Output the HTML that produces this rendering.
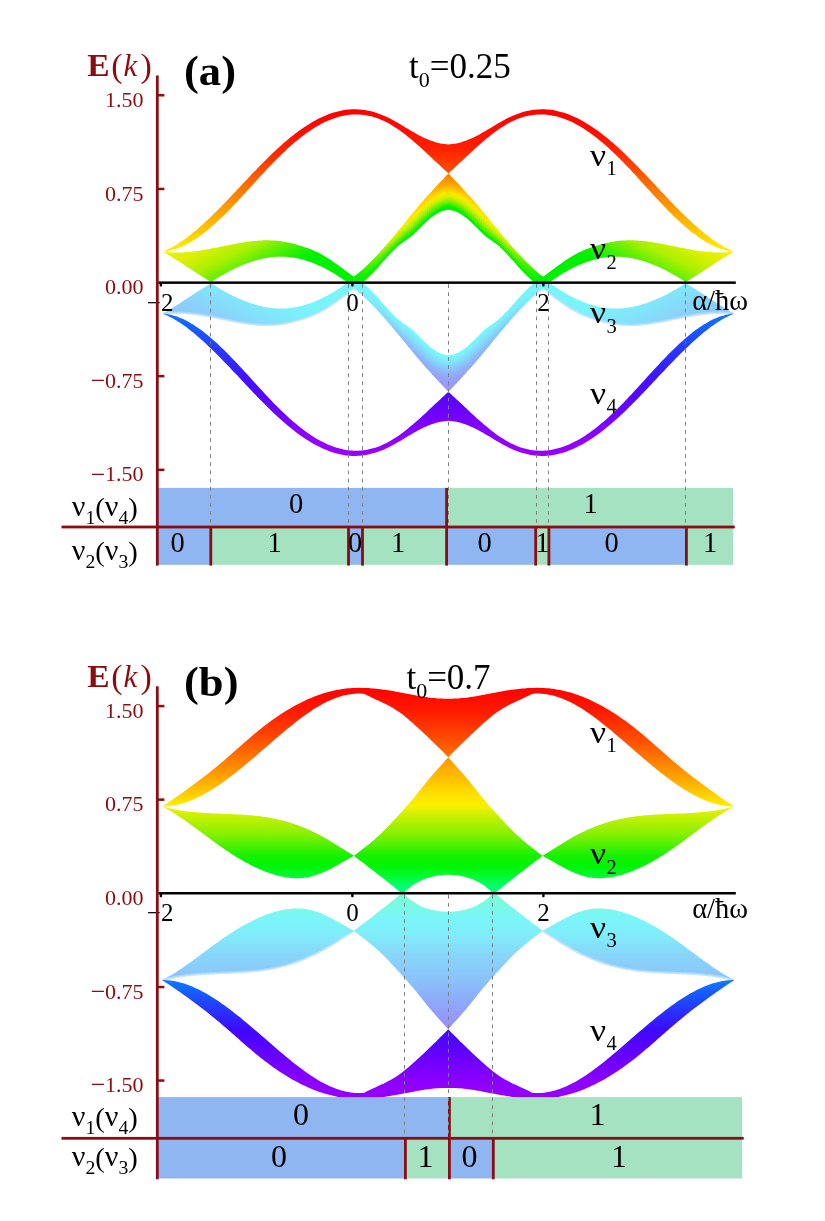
<!DOCTYPE html>
<html lang="en">
<head>
<meta charset="utf-8">
<title>Quasi-energy bands E(k) versus &alpha;/&#295;&omega;</title>
<style>
html,body{margin:0;padding:0;background:#fff;}
body{width:825px;height:1221px;overflow:hidden;font-family:"Liberation Serif", "DejaVu Serif", serif;}
svg{display:block;}
</style>
</head>
<body>
<svg width="825" height="1221" viewBox="0 0 825 1221" font-family='"Liberation Serif", "DejaVu Serif", serif'>
<defs>
<linearGradient id="ag1" gradientUnits="userSpaceOnUse" x1="0" y1="109" x2="0" y2="252"><stop offset="0.000" stop-color="rgb(255,0,0)"/><stop offset="0.147" stop-color="rgb(255,12,0)"/><stop offset="0.287" stop-color="rgb(255,35,0)"/><stop offset="0.392" stop-color="rgb(255,65,0)"/><stop offset="0.497" stop-color="rgb(255,100,0)"/><stop offset="0.636" stop-color="rgb(255,140,0)"/><stop offset="0.832" stop-color="rgb(255,195,0)"/><stop offset="1.000" stop-color="rgb(255,240,0)"/></linearGradient>
<linearGradient id="ag2c" gradientUnits="userSpaceOnUse" x1="0" y1="173" x2="0" y2="283"><stop offset="0.000" stop-color="rgb(255,128,0)"/><stop offset="0.109" stop-color="rgb(255,160,0)"/><stop offset="0.245" stop-color="rgb(255,200,0)"/><stop offset="0.400" stop-color="rgb(255,230,0)"/><stop offset="0.518" stop-color="rgb(228,240,0)"/><stop offset="0.627" stop-color="rgb(190,240,0)"/><stop offset="0.745" stop-color="rgb(110,240,0)"/><stop offset="0.864" stop-color="rgb(0,241,0)"/><stop offset="1.000" stop-color="rgb(0,241,10)"/></linearGradient>
<linearGradient id="ag2l" gradientUnits="userSpaceOnUse" x1="164" y1="250" x2="198" y2="318"><stop offset="0.000" stop-color="rgb(248,240,0)"/><stop offset="0.235" stop-color="rgb(218,240,0)"/><stop offset="0.471" stop-color="rgb(168,240,0)"/><stop offset="0.647" stop-color="rgb(96,239,0)"/><stop offset="0.824" stop-color="rgb(30,240,0)"/><stop offset="0.941" stop-color="rgb(0,241,0)"/><stop offset="1.000" stop-color="rgb(0,241,0)"/></linearGradient>
<linearGradient id="ag2r" gradientUnits="userSpaceOnUse" x1="732.8" y1="250" x2="698.8" y2="318"><stop offset="0.000" stop-color="rgb(248,240,0)"/><stop offset="0.235" stop-color="rgb(218,240,0)"/><stop offset="0.471" stop-color="rgb(168,240,0)"/><stop offset="0.647" stop-color="rgb(96,239,0)"/><stop offset="0.824" stop-color="rgb(30,240,0)"/><stop offset="0.941" stop-color="rgb(0,241,0)"/><stop offset="1.000" stop-color="rgb(0,241,0)"/></linearGradient>
<linearGradient id="ag3" gradientUnits="userSpaceOnUse" x1="0" y1="283" x2="0" y2="391"><stop offset="0.000" stop-color="rgb(110,245,250)"/><stop offset="0.157" stop-color="rgb(125,238,250)"/><stop offset="0.361" stop-color="rgb(135,215,250)"/><stop offset="0.620" stop-color="rgb(135,200,250)"/><stop offset="0.824" stop-color="rgb(140,175,250)"/><stop offset="1.000" stop-color="rgb(150,150,250)"/></linearGradient>
<linearGradient id="ag4" gradientUnits="userSpaceOnUse" x1="0" y1="313" x2="0" y2="456"><stop offset="0.000" stop-color="rgb(15,120,255)"/><stop offset="0.119" stop-color="rgb(25,90,255)"/><stop offset="0.259" stop-color="rgb(40,55,255)"/><stop offset="0.434" stop-color="rgb(62,22,255)"/><stop offset="0.594" stop-color="rgb(88,4,255)"/><stop offset="0.762" stop-color="rgb(124,0,255)"/><stop offset="0.888" stop-color="rgb(145,0,255)"/><stop offset="1.000" stop-color="rgb(152,0,255)"/></linearGradient>
<filter id="blur6" x="-20%" y="-40%" width="140%" height="180%"><feGaussianBlur stdDeviation="6"/></filter>
<filter id="blur3" x="-20%" y="-20%" width="140%" height="140%"><feGaussianBlur stdDeviation="2.2"/></filter>
<filter id="blur4" x="-20%" y="-20%" width="140%" height="140%"><feGaussianBlur stdDeviation="3.5"/></filter>
<linearGradient id="ag3l" gradientUnits="userSpaceOnUse" x1="164" y1="315.20000000000005" x2="198" y2="247.20000000000005"><stop offset="0.000" stop-color="rgb(142,198,250)"/><stop offset="0.294" stop-color="rgb(138,208,250)"/><stop offset="0.588" stop-color="rgb(130,228,250)"/><stop offset="0.824" stop-color="rgb(124,240,250)"/><stop offset="1.000" stop-color="rgb(120,245,250)"/></linearGradient>
<linearGradient id="ag3r" gradientUnits="userSpaceOnUse" x1="732.8" y1="315.20000000000005" x2="698.8" y2="247.20000000000005"><stop offset="0.000" stop-color="rgb(142,198,250)"/><stop offset="0.294" stop-color="rgb(138,208,250)"/><stop offset="0.588" stop-color="rgb(130,228,250)"/><stop offset="0.824" stop-color="rgb(124,240,250)"/><stop offset="1.000" stop-color="rgb(120,245,250)"/></linearGradient>
<linearGradient id="ag3c" gradientUnits="userSpaceOnUse" x1="0" y1="282" x2="0" y2="392"><stop offset="0.000" stop-color="rgb(118,246,250)"/><stop offset="0.164" stop-color="rgb(122,240,250)"/><stop offset="0.364" stop-color="rgb(130,222,250)"/><stop offset="0.573" stop-color="rgb(135,205,250)"/><stop offset="0.755" stop-color="rgb(140,185,250)"/><stop offset="0.891" stop-color="rgb(146,165,250)"/><stop offset="1.000" stop-color="rgb(152,148,250)"/></linearGradient>
<linearGradient id="as2_0" gradientUnits="userSpaceOnUse" x1="0" y1="174.6" x2="0" y2="209.9"><stop offset="0.000" stop-color="rgb(255,131,0)"/><stop offset="0.150" stop-color="rgb(255,141,0)"/><stop offset="0.300" stop-color="rgb(255,170,0)"/><stop offset="0.450" stop-color="rgb(255,214,0)"/><stop offset="0.600" stop-color="rgb(226,239,0)"/><stop offset="0.750" stop-color="rgb(134,240,0)"/><stop offset="0.900" stop-color="rgb(0,241,0)"/><stop offset="1.000" stop-color="rgb(0,241,0)"/></linearGradient>
<linearGradient id="as2_1" gradientUnits="userSpaceOnUse" x1="0" y1="176.7" x2="0" y2="210.2"><stop offset="0.000" stop-color="rgb(255,138,0)"/><stop offset="0.150" stop-color="rgb(255,150,0)"/><stop offset="0.300" stop-color="rgb(255,180,0)"/><stop offset="0.450" stop-color="rgb(255,223,0)"/><stop offset="0.600" stop-color="rgb(219,240,0)"/><stop offset="0.750" stop-color="rgb(126,240,0)"/><stop offset="0.900" stop-color="rgb(0,241,0)"/><stop offset="1.000" stop-color="rgb(0,241,0)"/></linearGradient>
<linearGradient id="as2_2" gradientUnits="userSpaceOnUse" x1="0" y1="178.8" x2="0" y2="210.6"><stop offset="0.000" stop-color="rgb(255,145,0)"/><stop offset="0.150" stop-color="rgb(255,158,0)"/><stop offset="0.300" stop-color="rgb(255,190,0)"/><stop offset="0.450" stop-color="rgb(255,231,0)"/><stop offset="0.600" stop-color="rgb(211,240,0)"/><stop offset="0.750" stop-color="rgb(119,240,0)"/><stop offset="0.900" stop-color="rgb(0,241,0)"/><stop offset="1.000" stop-color="rgb(0,241,0)"/></linearGradient>
<linearGradient id="as2_3" gradientUnits="userSpaceOnUse" x1="0" y1="180.9" x2="0" y2="211.3"><stop offset="0.000" stop-color="rgb(255,151,0)"/><stop offset="0.150" stop-color="rgb(255,166,0)"/><stop offset="0.300" stop-color="rgb(255,199,0)"/><stop offset="0.450" stop-color="rgb(254,238,0)"/><stop offset="0.600" stop-color="rgb(202,240,0)"/><stop offset="0.750" stop-color="rgb(113,240,0)"/><stop offset="0.900" stop-color="rgb(0,241,0)"/><stop offset="1.000" stop-color="rgb(0,241,0)"/></linearGradient>
<linearGradient id="as2_4" gradientUnits="userSpaceOnUse" x1="0" y1="183.0" x2="0" y2="212.1"><stop offset="0.000" stop-color="rgb(255,158,0)"/><stop offset="0.150" stop-color="rgb(255,174,0)"/><stop offset="0.300" stop-color="rgb(255,207,0)"/><stop offset="0.450" stop-color="rgb(246,238,0)"/><stop offset="0.600" stop-color="rgb(195,240,0)"/><stop offset="0.750" stop-color="rgb(107,240,0)"/><stop offset="0.900" stop-color="rgb(0,241,0)"/><stop offset="1.000" stop-color="rgb(0,241,0)"/></linearGradient>
<linearGradient id="as2_5" gradientUnits="userSpaceOnUse" x1="0" y1="185.1" x2="0" y2="213.2"><stop offset="0.000" stop-color="rgb(255,165,0)"/><stop offset="0.150" stop-color="rgb(255,183,0)"/><stop offset="0.300" stop-color="rgb(255,214,0)"/><stop offset="0.450" stop-color="rgb(239,239,0)"/><stop offset="0.600" stop-color="rgb(187,240,0)"/><stop offset="0.750" stop-color="rgb(101,240,0)"/><stop offset="0.900" stop-color="rgb(0,241,0)"/><stop offset="1.000" stop-color="rgb(0,241,0)"/></linearGradient>
<linearGradient id="as2_6" gradientUnits="userSpaceOnUse" x1="0" y1="187.3" x2="0" y2="214.3"><stop offset="0.000" stop-color="rgb(255,172,0)"/><stop offset="0.150" stop-color="rgb(255,191,0)"/><stop offset="0.300" stop-color="rgb(255,222,0)"/><stop offset="0.450" stop-color="rgb(233,239,0)"/><stop offset="0.600" stop-color="rgb(180,240,0)"/><stop offset="0.750" stop-color="rgb(96,240,0)"/><stop offset="0.900" stop-color="rgb(0,241,0)"/><stop offset="1.000" stop-color="rgb(0,241,0)"/></linearGradient>
<linearGradient id="as2_7" gradientUnits="userSpaceOnUse" x1="0" y1="189.4" x2="0" y2="215.7"><stop offset="0.000" stop-color="rgb(255,178,0)"/><stop offset="0.150" stop-color="rgb(255,198,0)"/><stop offset="0.300" stop-color="rgb(255,229,0)"/><stop offset="0.450" stop-color="rgb(227,239,0)"/><stop offset="0.600" stop-color="rgb(172,240,0)"/><stop offset="0.750" stop-color="rgb(91,240,0)"/><stop offset="0.900" stop-color="rgb(0,241,0)"/><stop offset="1.000" stop-color="rgb(0,241,0)"/></linearGradient>
<linearGradient id="as2_8" gradientUnits="userSpaceOnUse" x1="0" y1="191.6" x2="0" y2="217.2"><stop offset="0.000" stop-color="rgb(255,185,0)"/><stop offset="0.150" stop-color="rgb(255,205,0)"/><stop offset="0.300" stop-color="rgb(255,236,0)"/><stop offset="0.450" stop-color="rgb(221,240,0)"/><stop offset="0.600" stop-color="rgb(164,240,0)"/><stop offset="0.750" stop-color="rgb(87,240,0)"/><stop offset="0.900" stop-color="rgb(0,241,0)"/><stop offset="1.000" stop-color="rgb(0,241,0)"/></linearGradient>
<linearGradient id="as2_9" gradientUnits="userSpaceOnUse" x1="0" y1="193.8" x2="0" y2="218.8"><stop offset="0.000" stop-color="rgb(255,192,0)"/><stop offset="0.150" stop-color="rgb(255,211,0)"/><stop offset="0.300" stop-color="rgb(251,238,0)"/><stop offset="0.450" stop-color="rgb(215,240,0)"/><stop offset="0.600" stop-color="rgb(157,240,0)"/><stop offset="0.750" stop-color="rgb(83,240,0)"/><stop offset="0.900" stop-color="rgb(0,241,0)"/><stop offset="1.000" stop-color="rgb(0,241,0)"/></linearGradient>
<linearGradient id="as2_10" gradientUnits="userSpaceOnUse" x1="0" y1="196.0" x2="0" y2="220.6"><stop offset="0.000" stop-color="rgb(255,196,0)"/><stop offset="0.150" stop-color="rgb(255,217,0)"/><stop offset="0.300" stop-color="rgb(246,238,0)"/><stop offset="0.450" stop-color="rgb(209,240,0)"/><stop offset="0.600" stop-color="rgb(151,240,0)"/><stop offset="0.750" stop-color="rgb(79,240,0)"/><stop offset="0.900" stop-color="rgb(0,241,0)"/><stop offset="1.000" stop-color="rgb(0,241,0)"/></linearGradient>
<linearGradient id="as2_11" gradientUnits="userSpaceOnUse" x1="0" y1="198.3" x2="0" y2="222.5"><stop offset="0.000" stop-color="rgb(255,199,0)"/><stop offset="0.150" stop-color="rgb(255,221,0)"/><stop offset="0.300" stop-color="rgb(242,239,0)"/><stop offset="0.450" stop-color="rgb(204,240,0)"/><stop offset="0.600" stop-color="rgb(147,240,0)"/><stop offset="0.750" stop-color="rgb(77,240,0)"/><stop offset="0.900" stop-color="rgb(0,241,0)"/><stop offset="1.000" stop-color="rgb(0,241,0)"/></linearGradient>
<linearGradient id="as2_12" gradientUnits="userSpaceOnUse" x1="0" y1="200.6" x2="0" y2="224.4"><stop offset="0.000" stop-color="rgb(255,202,0)"/><stop offset="0.150" stop-color="rgb(255,224,0)"/><stop offset="0.300" stop-color="rgb(238,239,0)"/><stop offset="0.450" stop-color="rgb(200,240,0)"/><stop offset="0.600" stop-color="rgb(142,240,0)"/><stop offset="0.750" stop-color="rgb(74,240,0)"/><stop offset="0.900" stop-color="rgb(0,241,0)"/><stop offset="1.000" stop-color="rgb(0,241,0)"/></linearGradient>
<linearGradient id="as2_13" gradientUnits="userSpaceOnUse" x1="0" y1="202.9" x2="0" y2="226.4"><stop offset="0.000" stop-color="rgb(255,205,0)"/><stop offset="0.150" stop-color="rgb(255,228,0)"/><stop offset="0.300" stop-color="rgb(235,239,0)"/><stop offset="0.450" stop-color="rgb(196,240,0)"/><stop offset="0.600" stop-color="rgb(138,240,0)"/><stop offset="0.750" stop-color="rgb(72,240,0)"/><stop offset="0.900" stop-color="rgb(0,241,0)"/><stop offset="1.000" stop-color="rgb(0,241,0)"/></linearGradient>
<linearGradient id="as2_14" gradientUnits="userSpaceOnUse" x1="0" y1="205.2" x2="0" y2="228.4"><stop offset="0.000" stop-color="rgb(255,208,0)"/><stop offset="0.150" stop-color="rgb(255,232,0)"/><stop offset="0.300" stop-color="rgb(231,239,0)"/><stop offset="0.450" stop-color="rgb(192,240,0)"/><stop offset="0.600" stop-color="rgb(134,240,0)"/><stop offset="0.750" stop-color="rgb(70,240,0)"/><stop offset="0.900" stop-color="rgb(0,241,0)"/><stop offset="1.000" stop-color="rgb(0,241,0)"/></linearGradient>
<linearGradient id="as2_15" gradientUnits="userSpaceOnUse" x1="0" y1="207.6" x2="0" y2="230.4"><stop offset="0.000" stop-color="rgb(255,211,0)"/><stop offset="0.150" stop-color="rgb(255,235,0)"/><stop offset="0.300" stop-color="rgb(228,239,0)"/><stop offset="0.450" stop-color="rgb(188,240,0)"/><stop offset="0.600" stop-color="rgb(131,240,0)"/><stop offset="0.750" stop-color="rgb(68,240,0)"/><stop offset="0.900" stop-color="rgb(0,241,0)"/><stop offset="1.000" stop-color="rgb(0,241,0)"/></linearGradient>
<linearGradient id="as2_16" gradientUnits="userSpaceOnUse" x1="0" y1="209.9" x2="0" y2="232.3"><stop offset="0.000" stop-color="rgb(255,214,0)"/><stop offset="0.150" stop-color="rgb(255,238,0)"/><stop offset="0.300" stop-color="rgb(225,240,0)"/><stop offset="0.450" stop-color="rgb(185,240,0)"/><stop offset="0.600" stop-color="rgb(127,240,0)"/><stop offset="0.750" stop-color="rgb(66,240,0)"/><stop offset="0.900" stop-color="rgb(0,241,0)"/><stop offset="1.000" stop-color="rgb(0,241,0)"/></linearGradient>
<linearGradient id="as2_17" gradientUnits="userSpaceOnUse" x1="0" y1="212.3" x2="0" y2="234.2"><stop offset="0.000" stop-color="rgb(255,216,0)"/><stop offset="0.150" stop-color="rgb(251,238,0)"/><stop offset="0.300" stop-color="rgb(222,240,0)"/><stop offset="0.450" stop-color="rgb(181,240,0)"/><stop offset="0.600" stop-color="rgb(124,240,0)"/><stop offset="0.750" stop-color="rgb(64,240,0)"/><stop offset="0.900" stop-color="rgb(0,241,0)"/><stop offset="1.000" stop-color="rgb(0,241,0)"/></linearGradient>
<linearGradient id="as2_18" gradientUnits="userSpaceOnUse" x1="0" y1="214.8" x2="0" y2="235.9"><stop offset="0.000" stop-color="rgb(255,219,0)"/><stop offset="0.150" stop-color="rgb(248,238,0)"/><stop offset="0.300" stop-color="rgb(219,240,0)"/><stop offset="0.450" stop-color="rgb(178,240,0)"/><stop offset="0.600" stop-color="rgb(121,240,0)"/><stop offset="0.750" stop-color="rgb(63,240,0)"/><stop offset="0.900" stop-color="rgb(0,241,0)"/><stop offset="1.000" stop-color="rgb(0,241,0)"/></linearGradient>
<linearGradient id="as2_19" gradientUnits="userSpaceOnUse" x1="0" y1="217.2" x2="0" y2="237.6"><stop offset="0.000" stop-color="rgb(255,222,0)"/><stop offset="0.150" stop-color="rgb(245,238,0)"/><stop offset="0.300" stop-color="rgb(216,240,0)"/><stop offset="0.450" stop-color="rgb(174,240,0)"/><stop offset="0.600" stop-color="rgb(118,240,0)"/><stop offset="0.750" stop-color="rgb(61,240,0)"/><stop offset="0.900" stop-color="rgb(0,241,0)"/><stop offset="1.000" stop-color="rgb(0,241,0)"/></linearGradient>
<linearGradient id="as2_20" gradientUnits="userSpaceOnUse" x1="0" y1="219.6" x2="0" y2="239.0"><stop offset="0.000" stop-color="rgb(255,227,0)"/><stop offset="0.150" stop-color="rgb(241,239,0)"/><stop offset="0.300" stop-color="rgb(211,240,0)"/><stop offset="0.450" stop-color="rgb(168,240,0)"/><stop offset="0.600" stop-color="rgb(115,240,0)"/><stop offset="0.750" stop-color="rgb(59,240,0)"/><stop offset="0.900" stop-color="rgb(0,241,0)"/><stop offset="1.000" stop-color="rgb(0,241,0)"/></linearGradient>
<linearGradient id="as2_21" gradientUnits="userSpaceOnUse" x1="0" y1="222.1" x2="0" y2="240.4"><stop offset="0.000" stop-color="rgb(255,233,0)"/><stop offset="0.150" stop-color="rgb(235,239,0)"/><stop offset="0.300" stop-color="rgb(205,240,0)"/><stop offset="0.450" stop-color="rgb(162,240,0)"/><stop offset="0.600" stop-color="rgb(110,240,0)"/><stop offset="0.750" stop-color="rgb(57,240,0)"/><stop offset="0.900" stop-color="rgb(0,241,0)"/><stop offset="1.000" stop-color="rgb(0,241,0)"/></linearGradient>
<linearGradient id="as2_22" gradientUnits="userSpaceOnUse" x1="0" y1="224.5" x2="0" y2="241.7"><stop offset="0.000" stop-color="rgb(254,238,0)"/><stop offset="0.150" stop-color="rgb(230,239,0)"/><stop offset="0.300" stop-color="rgb(199,240,0)"/><stop offset="0.450" stop-color="rgb(156,240,0)"/><stop offset="0.600" stop-color="rgb(106,240,0)"/><stop offset="0.750" stop-color="rgb(54,240,0)"/><stop offset="0.900" stop-color="rgb(0,241,0)"/><stop offset="1.000" stop-color="rgb(0,241,0)"/></linearGradient>
<linearGradient id="as2_23" gradientUnits="userSpaceOnUse" x1="0" y1="227.0" x2="0" y2="243.2"><stop offset="0.000" stop-color="rgb(248,238,0)"/><stop offset="0.150" stop-color="rgb(224,240,0)"/><stop offset="0.300" stop-color="rgb(192,240,0)"/><stop offset="0.450" stop-color="rgb(149,240,0)"/><stop offset="0.600" stop-color="rgb(101,240,0)"/><stop offset="0.750" stop-color="rgb(52,240,0)"/><stop offset="0.900" stop-color="rgb(0,241,0)"/><stop offset="1.000" stop-color="rgb(0,241,0)"/></linearGradient>
<linearGradient id="as2_24" gradientUnits="userSpaceOnUse" x1="0" y1="229.4" x2="0" y2="244.8"><stop offset="0.000" stop-color="rgb(242,239,0)"/><stop offset="0.150" stop-color="rgb(219,240,0)"/><stop offset="0.300" stop-color="rgb(186,240,0)"/><stop offset="0.450" stop-color="rgb(143,240,0)"/><stop offset="0.600" stop-color="rgb(97,240,0)"/><stop offset="0.750" stop-color="rgb(50,240,0)"/><stop offset="0.900" stop-color="rgb(0,241,0)"/><stop offset="1.000" stop-color="rgb(0,241,0)"/></linearGradient>
<linearGradient id="as2_25" gradientUnits="userSpaceOnUse" x1="0" y1="231.8" x2="0" y2="246.5"><stop offset="0.000" stop-color="rgb(236,239,0)"/><stop offset="0.150" stop-color="rgb(213,240,0)"/><stop offset="0.300" stop-color="rgb(180,240,0)"/><stop offset="0.450" stop-color="rgb(137,240,0)"/><stop offset="0.600" stop-color="rgb(93,240,0)"/><stop offset="0.750" stop-color="rgb(48,240,0)"/><stop offset="0.900" stop-color="rgb(0,241,0)"/><stop offset="1.000" stop-color="rgb(0,241,0)"/></linearGradient>
<linearGradient id="as2_26" gradientUnits="userSpaceOnUse" x1="0" y1="234.3" x2="0" y2="248.3"><stop offset="0.000" stop-color="rgb(230,239,0)"/><stop offset="0.150" stop-color="rgb(206,240,0)"/><stop offset="0.300" stop-color="rgb(173,240,0)"/><stop offset="0.450" stop-color="rgb(132,240,0)"/><stop offset="0.600" stop-color="rgb(89,240,0)"/><stop offset="0.750" stop-color="rgb(45,240,0)"/><stop offset="0.900" stop-color="rgb(0,241,0)"/><stop offset="1.000" stop-color="rgb(0,241,0)"/></linearGradient>
<linearGradient id="as2_27" gradientUnits="userSpaceOnUse" x1="0" y1="236.7" x2="0" y2="250.3"><stop offset="0.000" stop-color="rgb(224,240,0)"/><stop offset="0.150" stop-color="rgb(199,240,0)"/><stop offset="0.300" stop-color="rgb(166,240,0)"/><stop offset="0.450" stop-color="rgb(126,240,0)"/><stop offset="0.600" stop-color="rgb(85,240,0)"/><stop offset="0.750" stop-color="rgb(43,240,0)"/><stop offset="0.900" stop-color="rgb(0,241,0)"/><stop offset="1.000" stop-color="rgb(0,241,0)"/></linearGradient>
<linearGradient id="as2_28" gradientUnits="userSpaceOnUse" x1="0" y1="239.0" x2="0" y2="252.3"><stop offset="0.000" stop-color="rgb(218,240,0)"/><stop offset="0.150" stop-color="rgb(192,240,0)"/><stop offset="0.300" stop-color="rgb(158,240,0)"/><stop offset="0.450" stop-color="rgb(120,240,0)"/><stop offset="0.600" stop-color="rgb(81,240,0)"/><stop offset="0.750" stop-color="rgb(41,240,0)"/><stop offset="0.900" stop-color="rgb(0,241,0)"/><stop offset="1.000" stop-color="rgb(0,241,0)"/></linearGradient>
<linearGradient id="as2_29" gradientUnits="userSpaceOnUse" x1="0" y1="241.4" x2="0" y2="254.5"><stop offset="0.000" stop-color="rgb(210,240,0)"/><stop offset="0.150" stop-color="rgb(184,240,0)"/><stop offset="0.300" stop-color="rgb(150,240,0)"/><stop offset="0.450" stop-color="rgb(114,240,0)"/><stop offset="0.600" stop-color="rgb(77,240,0)"/><stop offset="0.750" stop-color="rgb(39,240,0)"/><stop offset="0.900" stop-color="rgb(0,241,0)"/><stop offset="1.000" stop-color="rgb(0,241,0)"/></linearGradient>
<linearGradient id="as2_30" gradientUnits="userSpaceOnUse" x1="0" y1="243.7" x2="0" y2="256.6"><stop offset="0.000" stop-color="rgb(200,240,0)"/><stop offset="0.150" stop-color="rgb(174,240,0)"/><stop offset="0.300" stop-color="rgb(141,240,0)"/><stop offset="0.450" stop-color="rgb(107,240,0)"/><stop offset="0.600" stop-color="rgb(72,240,0)"/><stop offset="0.750" stop-color="rgb(37,240,0)"/><stop offset="0.900" stop-color="rgb(0,241,0)"/><stop offset="1.000" stop-color="rgb(0,241,0)"/></linearGradient>
<linearGradient id="as2_31" gradientUnits="userSpaceOnUse" x1="0" y1="246.0" x2="0" y2="258.9"><stop offset="0.000" stop-color="rgb(189,240,0)"/><stop offset="0.150" stop-color="rgb(163,240,0)"/><stop offset="0.300" stop-color="rgb(131,240,0)"/><stop offset="0.450" stop-color="rgb(100,240,0)"/><stop offset="0.600" stop-color="rgb(68,240,0)"/><stop offset="0.750" stop-color="rgb(34,240,0)"/><stop offset="0.900" stop-color="rgb(0,241,0)"/><stop offset="1.000" stop-color="rgb(0,241,0)"/></linearGradient>
<linearGradient id="as2_32" gradientUnits="userSpaceOnUse" x1="0" y1="248.3" x2="0" y2="261.1"><stop offset="0.000" stop-color="rgb(179,240,0)"/><stop offset="0.150" stop-color="rgb(151,240,0)"/><stop offset="0.300" stop-color="rgb(122,240,0)"/><stop offset="0.450" stop-color="rgb(93,240,0)"/><stop offset="0.600" stop-color="rgb(63,240,0)"/><stop offset="0.750" stop-color="rgb(32,240,0)"/><stop offset="0.900" stop-color="rgb(0,241,0)"/><stop offset="1.000" stop-color="rgb(0,241,0)"/></linearGradient>
<linearGradient id="as2_33" gradientUnits="userSpaceOnUse" x1="0" y1="250.6" x2="0" y2="263.4"><stop offset="0.000" stop-color="rgb(166,240,0)"/><stop offset="0.150" stop-color="rgb(140,240,0)"/><stop offset="0.300" stop-color="rgb(113,240,0)"/><stop offset="0.450" stop-color="rgb(86,240,0)"/><stop offset="0.600" stop-color="rgb(58,240,0)"/><stop offset="0.750" stop-color="rgb(29,241,0)"/><stop offset="0.900" stop-color="rgb(0,241,0)"/><stop offset="1.000" stop-color="rgb(0,241,0)"/></linearGradient>
<linearGradient id="as2_34" gradientUnits="userSpaceOnUse" x1="0" y1="252.8" x2="0" y2="265.6"><stop offset="0.000" stop-color="rgb(153,240,0)"/><stop offset="0.150" stop-color="rgb(129,240,0)"/><stop offset="0.300" stop-color="rgb(104,240,0)"/><stop offset="0.450" stop-color="rgb(79,240,0)"/><stop offset="0.600" stop-color="rgb(53,240,0)"/><stop offset="0.750" stop-color="rgb(27,241,0)"/><stop offset="0.900" stop-color="rgb(0,241,0)"/><stop offset="1.000" stop-color="rgb(0,241,0)"/></linearGradient>
<linearGradient id="as2_35" gradientUnits="userSpaceOnUse" x1="0" y1="254.9" x2="0" y2="267.8"><stop offset="0.000" stop-color="rgb(139,240,0)"/><stop offset="0.150" stop-color="rgb(118,240,0)"/><stop offset="0.300" stop-color="rgb(95,240,0)"/><stop offset="0.450" stop-color="rgb(72,240,0)"/><stop offset="0.600" stop-color="rgb(49,240,0)"/><stop offset="0.750" stop-color="rgb(24,241,0)"/><stop offset="0.900" stop-color="rgb(0,241,0)"/><stop offset="1.000" stop-color="rgb(0,241,0)"/></linearGradient>
<linearGradient id="as2_36" gradientUnits="userSpaceOnUse" x1="0" y1="257.1" x2="0" y2="270.0"><stop offset="0.000" stop-color="rgb(126,240,0)"/><stop offset="0.150" stop-color="rgb(107,240,0)"/><stop offset="0.300" stop-color="rgb(86,240,0)"/><stop offset="0.450" stop-color="rgb(65,240,0)"/><stop offset="0.600" stop-color="rgb(44,240,0)"/><stop offset="0.750" stop-color="rgb(22,241,0)"/><stop offset="0.900" stop-color="rgb(0,241,0)"/><stop offset="1.000" stop-color="rgb(0,241,0)"/></linearGradient>
<linearGradient id="as2_37" gradientUnits="userSpaceOnUse" x1="0" y1="259.1" x2="0" y2="272.2"><stop offset="0.000" stop-color="rgb(113,240,0)"/><stop offset="0.150" stop-color="rgb(96,240,0)"/><stop offset="0.300" stop-color="rgb(77,240,0)"/><stop offset="0.450" stop-color="rgb(59,240,0)"/><stop offset="0.600" stop-color="rgb(39,240,0)"/><stop offset="0.750" stop-color="rgb(20,241,0)"/><stop offset="0.900" stop-color="rgb(0,241,0)"/><stop offset="1.000" stop-color="rgb(0,241,0)"/></linearGradient>
<linearGradient id="as2_38" gradientUnits="userSpaceOnUse" x1="0" y1="261.2" x2="0" y2="274.2"><stop offset="0.000" stop-color="rgb(102,240,0)"/><stop offset="0.150" stop-color="rgb(86,240,0)"/><stop offset="0.300" stop-color="rgb(70,240,0)"/><stop offset="0.450" stop-color="rgb(53,240,0)"/><stop offset="0.600" stop-color="rgb(35,240,0)"/><stop offset="0.750" stop-color="rgb(18,241,0)"/><stop offset="0.900" stop-color="rgb(0,241,0)"/><stop offset="1.000" stop-color="rgb(0,241,0)"/></linearGradient>
<linearGradient id="as2_39" gradientUnits="userSpaceOnUse" x1="0" y1="263.2" x2="0" y2="276.2"><stop offset="0.000" stop-color="rgb(91,240,0)"/><stop offset="0.150" stop-color="rgb(77,240,0)"/><stop offset="0.300" stop-color="rgb(62,240,0)"/><stop offset="0.450" stop-color="rgb(47,240,0)"/><stop offset="0.600" stop-color="rgb(31,240,0)"/><stop offset="0.750" stop-color="rgb(16,241,0)"/><stop offset="0.900" stop-color="rgb(0,241,0)"/><stop offset="1.000" stop-color="rgb(0,241,0)"/></linearGradient>
<linearGradient id="as2_40" gradientUnits="userSpaceOnUse" x1="0" y1="265.1" x2="0" y2="278.0"><stop offset="0.000" stop-color="rgb(80,240,0)"/><stop offset="0.150" stop-color="rgb(67,240,0)"/><stop offset="0.300" stop-color="rgb(54,240,0)"/><stop offset="0.450" stop-color="rgb(41,240,0)"/><stop offset="0.600" stop-color="rgb(27,241,0)"/><stop offset="0.750" stop-color="rgb(14,241,0)"/><stop offset="0.900" stop-color="rgb(0,241,0)"/><stop offset="1.000" stop-color="rgb(0,241,0)"/></linearGradient>
<linearGradient id="as2_41" gradientUnits="userSpaceOnUse" x1="0" y1="267.0" x2="0" y2="279.8"><stop offset="0.000" stop-color="rgb(69,240,0)"/><stop offset="0.150" stop-color="rgb(58,240,0)"/><stop offset="0.300" stop-color="rgb(47,240,0)"/><stop offset="0.450" stop-color="rgb(35,240,0)"/><stop offset="0.600" stop-color="rgb(23,241,0)"/><stop offset="0.750" stop-color="rgb(12,241,0)"/><stop offset="0.900" stop-color="rgb(0,241,0)"/><stop offset="1.000" stop-color="rgb(0,241,0)"/></linearGradient>
<linearGradient id="as2_42" gradientUnits="userSpaceOnUse" x1="0" y1="268.8" x2="0" y2="281.4"><stop offset="0.000" stop-color="rgb(58,240,0)"/><stop offset="0.150" stop-color="rgb(48,240,0)"/><stop offset="0.300" stop-color="rgb(39,240,0)"/><stop offset="0.450" stop-color="rgb(29,241,0)"/><stop offset="0.600" stop-color="rgb(19,241,0)"/><stop offset="0.750" stop-color="rgb(10,241,0)"/><stop offset="0.900" stop-color="rgb(0,241,0)"/><stop offset="1.000" stop-color="rgb(0,241,0)"/></linearGradient>
<linearGradient id="as2_43" gradientUnits="userSpaceOnUse" x1="0" y1="270.6" x2="0" y2="282.0"><stop offset="0.000" stop-color="rgb(46,240,0)"/><stop offset="0.150" stop-color="rgb(39,240,0)"/><stop offset="0.300" stop-color="rgb(31,240,0)"/><stop offset="0.450" stop-color="rgb(23,241,0)"/><stop offset="0.600" stop-color="rgb(16,241,0)"/><stop offset="0.750" stop-color="rgb(8,241,0)"/><stop offset="0.900" stop-color="rgb(0,241,0)"/><stop offset="1.000" stop-color="rgb(0,241,0)"/></linearGradient>
<linearGradient id="as2_44" gradientUnits="userSpaceOnUse" x1="0" y1="272.3" x2="0" y2="282.0"><stop offset="0.000" stop-color="rgb(35,240,0)"/><stop offset="0.150" stop-color="rgb(29,241,0)"/><stop offset="0.300" stop-color="rgb(23,241,0)"/><stop offset="0.450" stop-color="rgb(17,241,0)"/><stop offset="0.600" stop-color="rgb(12,241,0)"/><stop offset="0.750" stop-color="rgb(6,241,0)"/><stop offset="0.900" stop-color="rgb(0,241,0)"/><stop offset="1.000" stop-color="rgb(0,241,0)"/></linearGradient>
<linearGradient id="as2_45" gradientUnits="userSpaceOnUse" x1="0" y1="273.9" x2="0" y2="282.0"><stop offset="0.000" stop-color="rgb(23,241,0)"/><stop offset="0.150" stop-color="rgb(19,241,0)"/><stop offset="0.300" stop-color="rgb(15,241,0)"/><stop offset="0.450" stop-color="rgb(12,241,0)"/><stop offset="0.600" stop-color="rgb(8,241,0)"/><stop offset="0.750" stop-color="rgb(4,241,0)"/><stop offset="0.900" stop-color="rgb(0,241,0)"/><stop offset="1.000" stop-color="rgb(0,241,0)"/></linearGradient>
<linearGradient id="as2_46" gradientUnits="userSpaceOnUse" x1="0" y1="275.5" x2="0" y2="282.0"><stop offset="0.000" stop-color="rgb(12,241,0)"/><stop offset="0.150" stop-color="rgb(10,241,0)"/><stop offset="0.300" stop-color="rgb(8,241,0)"/><stop offset="0.450" stop-color="rgb(6,241,0)"/><stop offset="0.600" stop-color="rgb(4,241,0)"/><stop offset="0.750" stop-color="rgb(2,241,0)"/><stop offset="0.900" stop-color="rgb(0,241,0)"/><stop offset="1.000" stop-color="rgb(0,241,0)"/></linearGradient>
<linearGradient id="as2_47" gradientUnits="userSpaceOnUse" x1="0" y1="276.5" x2="0" y2="282.0"><stop offset="0.000" stop-color="rgb(4,241,0)"/><stop offset="0.150" stop-color="rgb(3,241,0)"/><stop offset="0.300" stop-color="rgb(3,241,0)"/><stop offset="0.450" stop-color="rgb(2,241,0)"/><stop offset="0.600" stop-color="rgb(1,241,0)"/><stop offset="0.750" stop-color="rgb(1,241,0)"/><stop offset="0.900" stop-color="rgb(0,241,0)"/><stop offset="1.000" stop-color="rgb(0,241,0)"/></linearGradient>
<linearGradient id="as3_0" gradientUnits="userSpaceOnUse" x1="0" y1="390.6" x2="0" y2="355.3"><stop offset="0.000" stop-color="rgb(152,149,250)"/><stop offset="0.150" stop-color="rgb(151,152,250)"/><stop offset="0.300" stop-color="rgb(148,161,250)"/><stop offset="0.450" stop-color="rgb(143,176,250)"/><stop offset="0.600" stop-color="rgb(137,198,250)"/><stop offset="0.750" stop-color="rgb(129,223,250)"/><stop offset="0.900" stop-color="rgb(119,246,250)"/><stop offset="1.000" stop-color="rgb(119,246,250)"/></linearGradient>
<linearGradient id="as3_1" gradientUnits="userSpaceOnUse" x1="0" y1="388.5" x2="0" y2="355.0"><stop offset="0.000" stop-color="rgb(151,151,250)"/><stop offset="0.150" stop-color="rgb(150,154,250)"/><stop offset="0.300" stop-color="rgb(147,164,250)"/><stop offset="0.450" stop-color="rgb(142,180,250)"/><stop offset="0.600" stop-color="rgb(136,201,250)"/><stop offset="0.750" stop-color="rgb(128,225,250)"/><stop offset="0.900" stop-color="rgb(119,246,250)"/><stop offset="1.000" stop-color="rgb(119,246,250)"/></linearGradient>
<linearGradient id="as3_2" gradientUnits="userSpaceOnUse" x1="0" y1="386.4" x2="0" y2="354.6"><stop offset="0.000" stop-color="rgb(150,153,250)"/><stop offset="0.150" stop-color="rgb(149,157,250)"/><stop offset="0.300" stop-color="rgb(146,166,250)"/><stop offset="0.450" stop-color="rgb(141,183,250)"/><stop offset="0.600" stop-color="rgb(135,204,250)"/><stop offset="0.750" stop-color="rgb(128,226,250)"/><stop offset="0.900" stop-color="rgb(119,246,250)"/><stop offset="1.000" stop-color="rgb(119,246,250)"/></linearGradient>
<linearGradient id="as3_3" gradientUnits="userSpaceOnUse" x1="0" y1="384.3" x2="0" y2="353.9"><stop offset="0.000" stop-color="rgb(150,155,250)"/><stop offset="0.150" stop-color="rgb(149,159,250)"/><stop offset="0.300" stop-color="rgb(145,170,250)"/><stop offset="0.450" stop-color="rgb(140,187,250)"/><stop offset="0.600" stop-color="rgb(134,207,250)"/><stop offset="0.750" stop-color="rgb(128,227,250)"/><stop offset="0.900" stop-color="rgb(119,246,250)"/><stop offset="1.000" stop-color="rgb(119,246,250)"/></linearGradient>
<linearGradient id="as3_4" gradientUnits="userSpaceOnUse" x1="0" y1="382.2" x2="0" y2="353.1"><stop offset="0.000" stop-color="rgb(149,157,250)"/><stop offset="0.150" stop-color="rgb(148,162,250)"/><stop offset="0.300" stop-color="rgb(144,173,250)"/><stop offset="0.450" stop-color="rgb(139,190,250)"/><stop offset="0.600" stop-color="rgb(133,209,250)"/><stop offset="0.750" stop-color="rgb(127,229,250)"/><stop offset="0.900" stop-color="rgb(119,246,250)"/><stop offset="1.000" stop-color="rgb(119,246,250)"/></linearGradient>
<linearGradient id="as3_5" gradientUnits="userSpaceOnUse" x1="0" y1="380.1" x2="0" y2="352.0"><stop offset="0.000" stop-color="rgb(149,159,250)"/><stop offset="0.150" stop-color="rgb(147,164,250)"/><stop offset="0.300" stop-color="rgb(143,176,250)"/><stop offset="0.450" stop-color="rgb(138,193,250)"/><stop offset="0.600" stop-color="rgb(133,212,250)"/><stop offset="0.750" stop-color="rgb(127,230,250)"/><stop offset="0.900" stop-color="rgb(119,246,250)"/><stop offset="1.000" stop-color="rgb(119,246,250)"/></linearGradient>
<linearGradient id="as3_6" gradientUnits="userSpaceOnUse" x1="0" y1="377.9" x2="0" y2="350.9"><stop offset="0.000" stop-color="rgb(148,161,250)"/><stop offset="0.150" stop-color="rgb(146,167,250)"/><stop offset="0.300" stop-color="rgb(142,179,250)"/><stop offset="0.450" stop-color="rgb(137,195,250)"/><stop offset="0.600" stop-color="rgb(132,214,250)"/><stop offset="0.750" stop-color="rgb(126,231,250)"/><stop offset="0.900" stop-color="rgb(119,246,250)"/><stop offset="1.000" stop-color="rgb(119,246,250)"/></linearGradient>
<linearGradient id="as3_7" gradientUnits="userSpaceOnUse" x1="0" y1="375.8" x2="0" y2="349.5"><stop offset="0.000" stop-color="rgb(148,163,250)"/><stop offset="0.150" stop-color="rgb(146,169,250)"/><stop offset="0.300" stop-color="rgb(141,182,250)"/><stop offset="0.450" stop-color="rgb(137,198,250)"/><stop offset="0.600" stop-color="rgb(131,216,250)"/><stop offset="0.750" stop-color="rgb(126,232,250)"/><stop offset="0.900" stop-color="rgb(119,246,250)"/><stop offset="1.000" stop-color="rgb(119,246,250)"/></linearGradient>
<linearGradient id="as3_8" gradientUnits="userSpaceOnUse" x1="0" y1="373.6" x2="0" y2="348.0"><stop offset="0.000" stop-color="rgb(147,165,250)"/><stop offset="0.150" stop-color="rgb(145,172,250)"/><stop offset="0.300" stop-color="rgb(140,185,250)"/><stop offset="0.450" stop-color="rgb(136,200,250)"/><stop offset="0.600" stop-color="rgb(131,217,250)"/><stop offset="0.750" stop-color="rgb(126,233,250)"/><stop offset="0.900" stop-color="rgb(119,246,250)"/><stop offset="1.000" stop-color="rgb(119,246,250)"/></linearGradient>
<linearGradient id="as3_9" gradientUnits="userSpaceOnUse" x1="0" y1="371.4" x2="0" y2="346.4"><stop offset="0.000" stop-color="rgb(146,167,250)"/><stop offset="0.150" stop-color="rgb(144,175,250)"/><stop offset="0.300" stop-color="rgb(139,188,250)"/><stop offset="0.450" stop-color="rgb(135,203,250)"/><stop offset="0.600" stop-color="rgb(130,219,250)"/><stop offset="0.750" stop-color="rgb(126,233,250)"/><stop offset="0.900" stop-color="rgb(119,246,250)"/><stop offset="1.000" stop-color="rgb(119,246,250)"/></linearGradient>
<linearGradient id="as3_10" gradientUnits="userSpaceOnUse" x1="0" y1="369.2" x2="0" y2="344.6"><stop offset="0.000" stop-color="rgb(146,169,250)"/><stop offset="0.150" stop-color="rgb(143,177,250)"/><stop offset="0.300" stop-color="rgb(139,190,250)"/><stop offset="0.450" stop-color="rgb(135,205,250)"/><stop offset="0.600" stop-color="rgb(130,220,250)"/><stop offset="0.750" stop-color="rgb(125,234,250)"/><stop offset="0.900" stop-color="rgb(119,246,250)"/><stop offset="1.000" stop-color="rgb(119,246,250)"/></linearGradient>
<linearGradient id="as3_11" gradientUnits="userSpaceOnUse" x1="0" y1="366.9" x2="0" y2="342.7"><stop offset="0.000" stop-color="rgb(145,170,250)"/><stop offset="0.150" stop-color="rgb(142,179,250)"/><stop offset="0.300" stop-color="rgb(138,192,250)"/><stop offset="0.450" stop-color="rgb(134,206,250)"/><stop offset="0.600" stop-color="rgb(130,221,250)"/><stop offset="0.750" stop-color="rgb(125,235,250)"/><stop offset="0.900" stop-color="rgb(119,246,250)"/><stop offset="1.000" stop-color="rgb(119,246,250)"/></linearGradient>
<linearGradient id="as3_12" gradientUnits="userSpaceOnUse" x1="0" y1="364.6" x2="0" y2="340.8"><stop offset="0.000" stop-color="rgb(145,171,250)"/><stop offset="0.150" stop-color="rgb(142,180,250)"/><stop offset="0.300" stop-color="rgb(138,193,250)"/><stop offset="0.450" stop-color="rgb(134,208,250)"/><stop offset="0.600" stop-color="rgb(129,222,250)"/><stop offset="0.750" stop-color="rgb(125,235,250)"/><stop offset="0.900" stop-color="rgb(119,246,250)"/><stop offset="1.000" stop-color="rgb(119,246,250)"/></linearGradient>
<linearGradient id="as3_13" gradientUnits="userSpaceOnUse" x1="0" y1="362.3" x2="0" y2="338.8"><stop offset="0.000" stop-color="rgb(145,172,250)"/><stop offset="0.150" stop-color="rgb(141,182,250)"/><stop offset="0.300" stop-color="rgb(138,195,250)"/><stop offset="0.450" stop-color="rgb(133,209,250)"/><stop offset="0.600" stop-color="rgb(129,222,250)"/><stop offset="0.750" stop-color="rgb(125,236,250)"/><stop offset="0.900" stop-color="rgb(119,246,250)"/><stop offset="1.000" stop-color="rgb(119,246,250)"/></linearGradient>
<linearGradient id="as3_14" gradientUnits="userSpaceOnUse" x1="0" y1="360.0" x2="0" y2="336.8"><stop offset="0.000" stop-color="rgb(144,173,250)"/><stop offset="0.150" stop-color="rgb(141,183,250)"/><stop offset="0.300" stop-color="rgb(137,196,250)"/><stop offset="0.450" stop-color="rgb(133,210,250)"/><stop offset="0.600" stop-color="rgb(129,223,250)"/><stop offset="0.750" stop-color="rgb(125,236,250)"/><stop offset="0.900" stop-color="rgb(119,246,250)"/><stop offset="1.000" stop-color="rgb(119,246,250)"/></linearGradient>
<linearGradient id="as3_15" gradientUnits="userSpaceOnUse" x1="0" y1="357.6" x2="0" y2="334.8"><stop offset="0.000" stop-color="rgb(144,175,250)"/><stop offset="0.150" stop-color="rgb(140,185,250)"/><stop offset="0.300" stop-color="rgb(137,197,250)"/><stop offset="0.450" stop-color="rgb(133,211,250)"/><stop offset="0.600" stop-color="rgb(129,224,250)"/><stop offset="0.750" stop-color="rgb(125,236,250)"/><stop offset="0.900" stop-color="rgb(119,246,250)"/><stop offset="1.000" stop-color="rgb(119,246,250)"/></linearGradient>
<linearGradient id="as3_16" gradientUnits="userSpaceOnUse" x1="0" y1="355.3" x2="0" y2="332.9"><stop offset="0.000" stop-color="rgb(143,176,250)"/><stop offset="0.150" stop-color="rgb(140,186,250)"/><stop offset="0.300" stop-color="rgb(136,199,250)"/><stop offset="0.450" stop-color="rgb(132,213,250)"/><stop offset="0.600" stop-color="rgb(128,225,250)"/><stop offset="0.750" stop-color="rgb(124,237,250)"/><stop offset="0.900" stop-color="rgb(119,246,250)"/><stop offset="1.000" stop-color="rgb(119,246,250)"/></linearGradient>
<linearGradient id="as3_17" gradientUnits="userSpaceOnUse" x1="0" y1="352.9" x2="0" y2="331.0"><stop offset="0.000" stop-color="rgb(143,177,250)"/><stop offset="0.150" stop-color="rgb(140,188,250)"/><stop offset="0.300" stop-color="rgb(136,200,250)"/><stop offset="0.450" stop-color="rgb(132,214,250)"/><stop offset="0.600" stop-color="rgb(128,225,250)"/><stop offset="0.750" stop-color="rgb(124,237,250)"/><stop offset="0.900" stop-color="rgb(119,246,250)"/><stop offset="1.000" stop-color="rgb(119,246,250)"/></linearGradient>
<linearGradient id="as3_18" gradientUnits="userSpaceOnUse" x1="0" y1="350.4" x2="0" y2="329.3"><stop offset="0.000" stop-color="rgb(143,178,250)"/><stop offset="0.150" stop-color="rgb(139,189,250)"/><stop offset="0.300" stop-color="rgb(136,201,250)"/><stop offset="0.450" stop-color="rgb(132,214,250)"/><stop offset="0.600" stop-color="rgb(128,226,250)"/><stop offset="0.750" stop-color="rgb(124,237,250)"/><stop offset="0.900" stop-color="rgb(119,246,250)"/><stop offset="1.000" stop-color="rgb(119,246,250)"/></linearGradient>
<linearGradient id="as3_19" gradientUnits="userSpaceOnUse" x1="0" y1="348.0" x2="0" y2="327.6"><stop offset="0.000" stop-color="rgb(142,179,250)"/><stop offset="0.150" stop-color="rgb(139,190,250)"/><stop offset="0.300" stop-color="rgb(135,202,250)"/><stop offset="0.450" stop-color="rgb(132,215,250)"/><stop offset="0.600" stop-color="rgb(128,226,250)"/><stop offset="0.750" stop-color="rgb(124,238,250)"/><stop offset="0.900" stop-color="rgb(119,246,250)"/><stop offset="1.000" stop-color="rgb(119,246,250)"/></linearGradient>
<linearGradient id="as3_20" gradientUnits="userSpaceOnUse" x1="0" y1="345.6" x2="0" y2="326.2"><stop offset="0.000" stop-color="rgb(142,181,250)"/><stop offset="0.150" stop-color="rgb(138,192,250)"/><stop offset="0.300" stop-color="rgb(135,204,250)"/><stop offset="0.450" stop-color="rgb(131,216,250)"/><stop offset="0.600" stop-color="rgb(128,227,250)"/><stop offset="0.750" stop-color="rgb(124,238,250)"/><stop offset="0.900" stop-color="rgb(119,246,250)"/><stop offset="1.000" stop-color="rgb(119,246,250)"/></linearGradient>
<linearGradient id="as3_21" gradientUnits="userSpaceOnUse" x1="0" y1="343.1" x2="0" y2="324.8"><stop offset="0.000" stop-color="rgb(141,184,250)"/><stop offset="0.150" stop-color="rgb(138,194,250)"/><stop offset="0.300" stop-color="rgb(134,206,250)"/><stop offset="0.450" stop-color="rgb(131,218,250)"/><stop offset="0.600" stop-color="rgb(127,228,250)"/><stop offset="0.750" stop-color="rgb(124,238,250)"/><stop offset="0.900" stop-color="rgb(119,246,250)"/><stop offset="1.000" stop-color="rgb(119,246,250)"/></linearGradient>
<linearGradient id="as3_22" gradientUnits="userSpaceOnUse" x1="0" y1="340.7" x2="0" y2="323.5"><stop offset="0.000" stop-color="rgb(140,187,250)"/><stop offset="0.150" stop-color="rgb(137,197,250)"/><stop offset="0.300" stop-color="rgb(134,208,250)"/><stop offset="0.450" stop-color="rgb(130,219,250)"/><stop offset="0.600" stop-color="rgb(127,229,250)"/><stop offset="0.750" stop-color="rgb(124,239,250)"/><stop offset="0.900" stop-color="rgb(119,246,250)"/><stop offset="1.000" stop-color="rgb(119,246,250)"/></linearGradient>
<linearGradient id="as3_23" gradientUnits="userSpaceOnUse" x1="0" y1="338.2" x2="0" y2="322.0"><stop offset="0.000" stop-color="rgb(139,189,250)"/><stop offset="0.150" stop-color="rgb(136,199,250)"/><stop offset="0.300" stop-color="rgb(133,210,250)"/><stop offset="0.450" stop-color="rgb(130,220,250)"/><stop offset="0.600" stop-color="rgb(127,230,250)"/><stop offset="0.750" stop-color="rgb(123,239,250)"/><stop offset="0.900" stop-color="rgb(119,246,250)"/><stop offset="1.000" stop-color="rgb(119,246,250)"/></linearGradient>
<linearGradient id="as3_24" gradientUnits="userSpaceOnUse" x1="0" y1="335.8" x2="0" y2="320.4"><stop offset="0.000" stop-color="rgb(138,192,250)"/><stop offset="0.150" stop-color="rgb(136,201,250)"/><stop offset="0.300" stop-color="rgb(133,212,250)"/><stop offset="0.450" stop-color="rgb(130,221,250)"/><stop offset="0.600" stop-color="rgb(126,231,250)"/><stop offset="0.750" stop-color="rgb(123,239,250)"/><stop offset="0.900" stop-color="rgb(119,246,250)"/><stop offset="1.000" stop-color="rgb(119,246,250)"/></linearGradient>
<linearGradient id="as3_25" gradientUnits="userSpaceOnUse" x1="0" y1="333.4" x2="0" y2="318.7"><stop offset="0.000" stop-color="rgb(138,194,250)"/><stop offset="0.150" stop-color="rgb(135,203,250)"/><stop offset="0.300" stop-color="rgb(132,214,250)"/><stop offset="0.450" stop-color="rgb(129,223,250)"/><stop offset="0.600" stop-color="rgb(126,231,250)"/><stop offset="0.750" stop-color="rgb(123,240,250)"/><stop offset="0.900" stop-color="rgb(119,246,250)"/><stop offset="1.000" stop-color="rgb(119,246,250)"/></linearGradient>
<linearGradient id="as3_26" gradientUnits="userSpaceOnUse" x1="0" y1="330.9" x2="0" y2="316.9"><stop offset="0.000" stop-color="rgb(137,197,250)"/><stop offset="0.150" stop-color="rgb(134,206,250)"/><stop offset="0.300" stop-color="rgb(132,215,250)"/><stop offset="0.450" stop-color="rgb(129,224,250)"/><stop offset="0.600" stop-color="rgb(126,232,250)"/><stop offset="0.750" stop-color="rgb(123,240,250)"/><stop offset="0.900" stop-color="rgb(119,246,250)"/><stop offset="1.000" stop-color="rgb(119,246,250)"/></linearGradient>
<linearGradient id="as3_27" gradientUnits="userSpaceOnUse" x1="0" y1="328.5" x2="0" y2="314.9"><stop offset="0.000" stop-color="rgb(136,199,250)"/><stop offset="0.150" stop-color="rgb(134,208,250)"/><stop offset="0.300" stop-color="rgb(131,217,250)"/><stop offset="0.450" stop-color="rgb(128,225,250)"/><stop offset="0.600" stop-color="rgb(126,233,250)"/><stop offset="0.750" stop-color="rgb(123,240,250)"/><stop offset="0.900" stop-color="rgb(119,246,250)"/><stop offset="1.000" stop-color="rgb(119,246,250)"/></linearGradient>
<linearGradient id="as3_28" gradientUnits="userSpaceOnUse" x1="0" y1="326.2" x2="0" y2="312.9"><stop offset="0.000" stop-color="rgb(136,202,250)"/><stop offset="0.150" stop-color="rgb(133,210,250)"/><stop offset="0.300" stop-color="rgb(131,218,250)"/><stop offset="0.450" stop-color="rgb(128,226,250)"/><stop offset="0.600" stop-color="rgb(125,234,250)"/><stop offset="0.750" stop-color="rgb(122,240,250)"/><stop offset="0.900" stop-color="rgb(119,246,250)"/><stop offset="1.000" stop-color="rgb(119,246,250)"/></linearGradient>
<linearGradient id="as3_29" gradientUnits="userSpaceOnUse" x1="0" y1="323.8" x2="0" y2="310.7"><stop offset="0.000" stop-color="rgb(135,204,250)"/><stop offset="0.150" stop-color="rgb(132,213,250)"/><stop offset="0.300" stop-color="rgb(130,220,250)"/><stop offset="0.450" stop-color="rgb(128,227,250)"/><stop offset="0.600" stop-color="rgb(125,235,250)"/><stop offset="0.750" stop-color="rgb(122,241,250)"/><stop offset="0.900" stop-color="rgb(119,246,250)"/><stop offset="1.000" stop-color="rgb(119,246,250)"/></linearGradient>
<linearGradient id="as3_30" gradientUnits="userSpaceOnUse" x1="0" y1="321.5" x2="0" y2="308.6"><stop offset="0.000" stop-color="rgb(134,208,250)"/><stop offset="0.150" stop-color="rgb(132,215,250)"/><stop offset="0.300" stop-color="rgb(129,222,250)"/><stop offset="0.450" stop-color="rgb(127,229,250)"/><stop offset="0.600" stop-color="rgb(125,236,250)"/><stop offset="0.750" stop-color="rgb(122,241,250)"/><stop offset="0.900" stop-color="rgb(119,246,250)"/><stop offset="1.000" stop-color="rgb(119,246,250)"/></linearGradient>
<linearGradient id="as3_31" gradientUnits="userSpaceOnUse" x1="0" y1="319.2" x2="0" y2="306.3"><stop offset="0.000" stop-color="rgb(133,211,250)"/><stop offset="0.150" stop-color="rgb(131,217,250)"/><stop offset="0.300" stop-color="rgb(129,224,250)"/><stop offset="0.450" stop-color="rgb(127,230,250)"/><stop offset="0.600" stop-color="rgb(125,236,250)"/><stop offset="0.750" stop-color="rgb(122,241,250)"/><stop offset="0.900" stop-color="rgb(119,246,250)"/><stop offset="1.000" stop-color="rgb(119,246,250)"/></linearGradient>
<linearGradient id="as3_32" gradientUnits="userSpaceOnUse" x1="0" y1="316.9" x2="0" y2="304.1"><stop offset="0.000" stop-color="rgb(132,214,250)"/><stop offset="0.150" stop-color="rgb(130,220,250)"/><stop offset="0.300" stop-color="rgb(128,226,250)"/><stop offset="0.450" stop-color="rgb(126,231,250)"/><stop offset="0.600" stop-color="rgb(124,237,250)"/><stop offset="0.750" stop-color="rgb(122,242,250)"/><stop offset="0.900" stop-color="rgb(119,246,250)"/><stop offset="1.000" stop-color="rgb(119,246,250)"/></linearGradient>
<linearGradient id="as3_33" gradientUnits="userSpaceOnUse" x1="0" y1="314.6" x2="0" y2="301.8"><stop offset="0.000" stop-color="rgb(131,217,250)"/><stop offset="0.150" stop-color="rgb(129,222,250)"/><stop offset="0.300" stop-color="rgb(128,227,250)"/><stop offset="0.450" stop-color="rgb(126,233,250)"/><stop offset="0.600" stop-color="rgb(124,238,250)"/><stop offset="0.750" stop-color="rgb(121,242,250)"/><stop offset="0.900" stop-color="rgb(119,246,250)"/><stop offset="1.000" stop-color="rgb(119,246,250)"/></linearGradient>
<linearGradient id="as3_34" gradientUnits="userSpaceOnUse" x1="0" y1="312.4" x2="0" y2="299.6"><stop offset="0.000" stop-color="rgb(130,219,250)"/><stop offset="0.150" stop-color="rgb(129,224,250)"/><stop offset="0.300" stop-color="rgb(127,229,250)"/><stop offset="0.450" stop-color="rgb(125,234,250)"/><stop offset="0.600" stop-color="rgb(123,239,250)"/><stop offset="0.750" stop-color="rgb(121,242,250)"/><stop offset="0.900" stop-color="rgb(119,246,250)"/><stop offset="1.000" stop-color="rgb(119,246,250)"/></linearGradient>
<linearGradient id="as3_35" gradientUnits="userSpaceOnUse" x1="0" y1="310.3" x2="0" y2="297.4"><stop offset="0.000" stop-color="rgb(129,222,250)"/><stop offset="0.150" stop-color="rgb(128,226,250)"/><stop offset="0.300" stop-color="rgb(126,231,250)"/><stop offset="0.450" stop-color="rgb(125,236,250)"/><stop offset="0.600" stop-color="rgb(123,240,250)"/><stop offset="0.750" stop-color="rgb(121,243,250)"/><stop offset="0.900" stop-color="rgb(119,246,250)"/><stop offset="1.000" stop-color="rgb(119,246,250)"/></linearGradient>
<linearGradient id="as3_36" gradientUnits="userSpaceOnUse" x1="0" y1="308.1" x2="0" y2="295.2"><stop offset="0.000" stop-color="rgb(128,225,250)"/><stop offset="0.150" stop-color="rgb(127,229,250)"/><stop offset="0.300" stop-color="rgb(126,233,250)"/><stop offset="0.450" stop-color="rgb(124,237,250)"/><stop offset="0.600" stop-color="rgb(123,240,250)"/><stop offset="0.750" stop-color="rgb(121,243,250)"/><stop offset="0.900" stop-color="rgb(119,246,250)"/><stop offset="1.000" stop-color="rgb(119,246,250)"/></linearGradient>
<linearGradient id="as3_37" gradientUnits="userSpaceOnUse" x1="0" y1="306.1" x2="0" y2="293.0"><stop offset="0.000" stop-color="rgb(128,227,250)"/><stop offset="0.150" stop-color="rgb(126,231,250)"/><stop offset="0.300" stop-color="rgb(125,235,250)"/><stop offset="0.450" stop-color="rgb(124,238,250)"/><stop offset="0.600" stop-color="rgb(122,241,250)"/><stop offset="0.750" stop-color="rgb(121,243,250)"/><stop offset="0.900" stop-color="rgb(119,246,250)"/><stop offset="1.000" stop-color="rgb(119,246,250)"/></linearGradient>
<linearGradient id="as3_38" gradientUnits="userSpaceOnUse" x1="0" y1="304.0" x2="0" y2="291.0"><stop offset="0.000" stop-color="rgb(127,230,250)"/><stop offset="0.150" stop-color="rgb(126,233,250)"/><stop offset="0.300" stop-color="rgb(125,236,250)"/><stop offset="0.450" stop-color="rgb(123,239,250)"/><stop offset="0.600" stop-color="rgb(122,241,250)"/><stop offset="0.750" stop-color="rgb(120,244,250)"/><stop offset="0.900" stop-color="rgb(119,246,250)"/><stop offset="1.000" stop-color="rgb(119,246,250)"/></linearGradient>
<linearGradient id="as3_39" gradientUnits="userSpaceOnUse" x1="0" y1="302.0" x2="0" y2="289.0"><stop offset="0.000" stop-color="rgb(126,232,250)"/><stop offset="0.150" stop-color="rgb(125,235,250)"/><stop offset="0.300" stop-color="rgb(124,238,250)"/><stop offset="0.450" stop-color="rgb(123,240,250)"/><stop offset="0.600" stop-color="rgb(122,242,250)"/><stop offset="0.750" stop-color="rgb(120,244,250)"/><stop offset="0.900" stop-color="rgb(119,246,250)"/><stop offset="1.000" stop-color="rgb(119,246,250)"/></linearGradient>
<linearGradient id="as3_40" gradientUnits="userSpaceOnUse" x1="0" y1="300.1" x2="0" y2="287.2"><stop offset="0.000" stop-color="rgb(125,234,250)"/><stop offset="0.150" stop-color="rgb(124,237,250)"/><stop offset="0.300" stop-color="rgb(124,239,250)"/><stop offset="0.450" stop-color="rgb(122,241,250)"/><stop offset="0.600" stop-color="rgb(121,242,250)"/><stop offset="0.750" stop-color="rgb(120,244,250)"/><stop offset="0.900" stop-color="rgb(119,246,250)"/><stop offset="1.000" stop-color="rgb(119,246,250)"/></linearGradient>
<linearGradient id="as3_41" gradientUnits="userSpaceOnUse" x1="0" y1="298.2" x2="0" y2="285.4"><stop offset="0.000" stop-color="rgb(125,236,250)"/><stop offset="0.150" stop-color="rgb(124,238,250)"/><stop offset="0.300" stop-color="rgb(123,240,250)"/><stop offset="0.450" stop-color="rgb(122,241,250)"/><stop offset="0.600" stop-color="rgb(121,243,250)"/><stop offset="0.750" stop-color="rgb(120,244,250)"/><stop offset="0.900" stop-color="rgb(119,246,250)"/><stop offset="1.000" stop-color="rgb(119,246,250)"/></linearGradient>
<linearGradient id="as3_42" gradientUnits="userSpaceOnUse" x1="0" y1="296.4" x2="0" y2="283.8"><stop offset="0.000" stop-color="rgb(124,238,250)"/><stop offset="0.150" stop-color="rgb(123,240,250)"/><stop offset="0.300" stop-color="rgb(122,241,250)"/><stop offset="0.450" stop-color="rgb(121,242,250)"/><stop offset="0.600" stop-color="rgb(121,243,250)"/><stop offset="0.750" stop-color="rgb(120,245,250)"/><stop offset="0.900" stop-color="rgb(119,246,250)"/><stop offset="1.000" stop-color="rgb(119,246,250)"/></linearGradient>
<linearGradient id="as3_43" gradientUnits="userSpaceOnUse" x1="0" y1="294.6" x2="0" y2="283.2"><stop offset="0.000" stop-color="rgb(123,240,250)"/><stop offset="0.150" stop-color="rgb(122,241,250)"/><stop offset="0.300" stop-color="rgb(122,242,250)"/><stop offset="0.450" stop-color="rgb(121,243,250)"/><stop offset="0.600" stop-color="rgb(120,244,250)"/><stop offset="0.750" stop-color="rgb(120,245,250)"/><stop offset="0.900" stop-color="rgb(119,246,250)"/><stop offset="1.000" stop-color="rgb(119,246,250)"/></linearGradient>
<linearGradient id="as3_44" gradientUnits="userSpaceOnUse" x1="0" y1="292.9" x2="0" y2="283.2"><stop offset="0.000" stop-color="rgb(122,241,250)"/><stop offset="0.150" stop-color="rgb(121,242,250)"/><stop offset="0.300" stop-color="rgb(121,243,250)"/><stop offset="0.450" stop-color="rgb(120,244,250)"/><stop offset="0.600" stop-color="rgb(120,244,250)"/><stop offset="0.750" stop-color="rgb(119,245,250)"/><stop offset="0.900" stop-color="rgb(119,246,250)"/><stop offset="1.000" stop-color="rgb(119,246,250)"/></linearGradient>
<linearGradient id="as3_45" gradientUnits="userSpaceOnUse" x1="0" y1="291.3" x2="0" y2="283.2"><stop offset="0.000" stop-color="rgb(121,243,250)"/><stop offset="0.150" stop-color="rgb(121,243,250)"/><stop offset="0.300" stop-color="rgb(120,244,250)"/><stop offset="0.450" stop-color="rgb(120,244,250)"/><stop offset="0.600" stop-color="rgb(120,245,250)"/><stop offset="0.750" stop-color="rgb(119,245,250)"/><stop offset="0.900" stop-color="rgb(119,246,250)"/><stop offset="1.000" stop-color="rgb(119,246,250)"/></linearGradient>
<linearGradient id="as3_46" gradientUnits="userSpaceOnUse" x1="0" y1="289.7" x2="0" y2="283.2"><stop offset="0.000" stop-color="rgb(120,244,250)"/><stop offset="0.150" stop-color="rgb(120,245,250)"/><stop offset="0.300" stop-color="rgb(120,245,250)"/><stop offset="0.450" stop-color="rgb(119,245,250)"/><stop offset="0.600" stop-color="rgb(119,245,250)"/><stop offset="0.750" stop-color="rgb(119,246,250)"/><stop offset="0.900" stop-color="rgb(119,246,250)"/><stop offset="1.000" stop-color="rgb(119,246,250)"/></linearGradient>
<linearGradient id="as3_47" gradientUnits="userSpaceOnUse" x1="0" y1="288.7" x2="0" y2="283.2"><stop offset="0.000" stop-color="rgb(119,246,250)"/><stop offset="0.150" stop-color="rgb(119,246,250)"/><stop offset="0.300" stop-color="rgb(119,246,250)"/><stop offset="0.450" stop-color="rgb(119,246,250)"/><stop offset="0.600" stop-color="rgb(119,246,250)"/><stop offset="0.750" stop-color="rgb(119,246,250)"/><stop offset="0.900" stop-color="rgb(119,246,250)"/><stop offset="1.000" stop-color="rgb(119,246,250)"/></linearGradient>
<linearGradient id="bg1" gradientUnits="userSpaceOnUse" x1="0" y1="687" x2="0" y2="806"><stop offset="0.000" stop-color="rgb(255,0,0)"/><stop offset="0.210" stop-color="rgb(255,28,0)"/><stop offset="0.445" stop-color="rgb(255,78,0)"/><stop offset="0.681" stop-color="rgb(255,142,0)"/><stop offset="0.866" stop-color="rgb(255,195,0)"/><stop offset="1.000" stop-color="rgb(255,238,0)"/></linearGradient>
<linearGradient id="bg2" gradientUnits="userSpaceOnUse" x1="0" y1="757" x2="0" y2="893"><stop offset="0.000" stop-color="rgb(255,150,0)"/><stop offset="0.132" stop-color="rgb(255,185,0)"/><stop offset="0.279" stop-color="rgb(255,225,0)"/><stop offset="0.360" stop-color="rgb(250,240,0)"/><stop offset="0.434" stop-color="rgb(200,240,0)"/><stop offset="0.574" stop-color="rgb(130,240,0)"/><stop offset="0.728" stop-color="rgb(20,241,0)"/><stop offset="0.801" stop-color="rgb(0,244,5)"/><stop offset="0.868" stop-color="rgb(0,250,42)"/><stop offset="0.926" stop-color="rgb(0,255,92)"/><stop offset="1.000" stop-color="rgb(0,255,135)"/></linearGradient>
<linearGradient id="bg3" gradientUnits="userSpaceOnUse" x1="0" y1="893" x2="0" y2="1030"><stop offset="0.000" stop-color="rgb(122,250,205)"/><stop offset="0.095" stop-color="rgb(122,250,230)"/><stop offset="0.182" stop-color="rgb(122,246,248)"/><stop offset="0.307" stop-color="rgb(128,236,250)"/><stop offset="0.453" stop-color="rgb(136,214,250)"/><stop offset="0.620" stop-color="rgb(138,196,250)"/><stop offset="0.818" stop-color="rgb(142,166,250)"/><stop offset="1.000" stop-color="rgb(152,142,250)"/></linearGradient>
<linearGradient id="bg4" gradientUnits="userSpaceOnUse" x1="0" y1="981" x2="0" y2="1101"><stop offset="0.000" stop-color="rgb(15,120,255)"/><stop offset="0.158" stop-color="rgb(28,75,255)"/><stop offset="0.408" stop-color="rgb(62,8,255)"/><stop offset="0.658" stop-color="rgb(110,0,255)"/><stop offset="0.867" stop-color="rgb(145,0,255)"/><stop offset="1.000" stop-color="rgb(150,0,255)"/></linearGradient>
</defs>
<rect width="825" height="1221" fill="#fff"/>
<path d="M163.0,251.6L165.0,250.7L167.0,249.8L169.0,248.8L171.0,247.8L173.0,246.7L175.1,245.5L177.1,244.3L179.1,243.0L181.1,241.7L183.1,240.3L185.1,238.9L187.1,237.4L189.1,235.8L191.1,234.3L193.1,232.6L195.2,231.0L197.2,229.3L199.2,227.5L201.2,225.8L203.2,224.0L205.2,222.1L207.2,220.2L209.2,218.3L211.2,216.4L213.2,214.4L215.3,212.5L217.3,210.5L219.3,208.4L221.3,206.4L223.3,204.3L225.3,202.2L227.3,200.2L229.3,198.1L231.3,195.9L233.3,193.8L235.4,191.7L237.4,189.6L239.4,187.4L241.4,185.3L243.4,183.1L245.4,181.0L247.4,178.9L249.4,176.8L251.4,174.6L253.4,172.5L255.5,170.4L257.5,168.3L259.5,166.3L261.5,164.2L263.5,162.2L265.5,160.2L267.5,158.2L269.5,156.2L271.5,154.2L273.5,152.3L275.6,150.4L277.6,148.5L279.6,146.7L281.6,144.9L283.6,143.1L285.6,141.4L287.6,139.7L289.6,138.1L291.6,136.4L293.6,134.9L295.7,133.3L297.7,131.8L299.7,130.3L301.7,128.9L303.7,127.5L305.7,126.2L307.7,124.9L309.7,123.7L311.7,122.5L313.7,121.3L315.7,120.2L317.8,119.1L319.8,118.1L321.8,117.2L323.8,116.3L325.8,115.4L327.8,114.6L329.8,113.8L331.8,113.1L333.8,112.5L335.8,111.9L337.9,111.4L339.9,110.9L341.9,110.5L343.9,110.1L345.9,109.8L347.9,109.6L349.9,109.4L351.9,109.3L353.9,109.3L355.9,109.3L358.0,109.4L360.0,109.5L362.0,109.7L364.0,110.0L366.0,110.3L368.0,110.7L370.0,111.1L372.0,111.6L374.0,112.1L376.0,112.8L378.1,113.4L380.1,114.2L382.1,114.9L384.1,115.8L386.1,116.7L388.1,117.6L390.1,118.6L392.1,119.7L394.1,120.8L396.1,121.9L398.2,123.1L400.2,124.3L402.2,125.5L404.2,126.7L406.2,127.9L408.2,129.1L410.2,130.3L412.2,131.5L414.2,132.6L416.2,133.8L418.3,134.9L420.3,135.9L422.3,136.9L424.3,137.9L426.3,138.8L428.3,139.6L430.3,140.4L432.3,141.1L434.3,141.8L436.3,142.4L438.4,142.9L440.4,143.4L442.4,143.7L444.4,144.0L446.4,144.3L448.4,144.4L450.4,144.3L452.4,144.0L454.4,143.7L456.4,143.4L458.4,142.9L460.5,142.4L462.5,141.8L464.5,141.1L466.5,140.4L468.5,139.6L470.5,138.8L472.5,137.9L474.5,136.9L476.5,135.9L478.5,134.9L480.6,133.8L482.6,132.6L484.6,131.5L486.6,130.3L488.6,129.1L490.6,127.9L492.6,126.7L494.6,125.5L496.6,124.3L498.6,123.1L500.7,121.9L502.7,120.8L504.7,119.7L506.7,118.6L508.7,117.6L510.7,116.7L512.7,115.8L514.7,114.9L516.7,114.2L518.7,113.4L520.8,112.8L522.8,112.1L524.8,111.6L526.8,111.1L528.8,110.7L530.8,110.3L532.8,110.0L534.8,109.7L536.8,109.5L538.8,109.4L540.9,109.3L542.9,109.3L544.9,109.3L546.9,109.4L548.9,109.6L550.9,109.8L552.9,110.1L554.9,110.5L556.9,110.9L558.9,111.4L561.0,111.9L563.0,112.5L565.0,113.1L567.0,113.8L569.0,114.6L571.0,115.4L573.0,116.3L575.0,117.2L577.0,118.1L579.0,119.1L581.1,120.2L583.1,121.3L585.1,122.5L587.1,123.7L589.1,124.9L591.1,126.2L593.1,127.5L595.1,128.9L597.1,130.3L599.1,131.8L601.1,133.3L603.2,134.9L605.2,136.4L607.2,138.1L609.2,139.7L611.2,141.4L613.2,143.1L615.2,144.9L617.2,146.7L619.2,148.5L621.2,150.4L623.3,152.3L625.3,154.2L627.3,156.2L629.3,158.2L631.3,160.2L633.3,162.2L635.3,164.2L637.3,166.3L639.3,168.3L641.3,170.4L643.4,172.5L645.4,174.6L647.4,176.8L649.4,178.9L651.4,181.0L653.4,183.1L655.4,185.3L657.4,187.4L659.4,189.6L661.4,191.7L663.5,193.8L665.5,195.9L667.5,198.1L669.5,200.2L671.5,202.2L673.5,204.3L675.5,206.4L677.5,208.4L679.5,210.5L681.5,212.5L683.6,214.4L685.6,216.4L687.6,218.3L689.6,220.2L691.6,222.1L693.6,224.0L695.6,225.8L697.6,227.5L699.6,229.3L701.6,231.0L703.7,232.6L705.7,234.3L707.7,235.8L709.7,237.4L711.7,238.9L713.7,240.3L715.7,241.7L717.7,243.0L719.7,244.3L721.7,245.5L723.8,246.7L725.8,247.8L727.8,248.8L729.8,249.8L731.8,250.7L733.8,251.6L733.8,251.6L731.8,251.4L729.8,251.2L727.8,250.8L725.8,250.4L723.8,249.8L721.7,249.3L719.7,248.6L717.7,247.8L715.7,247.0L713.7,246.1L711.7,245.1L709.7,244.1L707.7,243.0L705.7,241.8L703.7,240.6L701.6,239.3L699.6,238.0L697.6,236.5L695.6,235.1L693.6,233.6L691.6,232.0L689.6,230.4L687.6,228.7L685.6,227.0L683.6,225.3L681.5,223.5L679.5,221.6L677.5,219.8L675.5,217.8L673.5,215.9L671.5,213.9L669.5,211.9L667.5,209.9L665.5,207.8L663.5,205.7L661.4,203.6L659.4,201.5L657.4,199.3L655.4,197.2L653.4,195.0L651.4,192.8L649.4,190.6L647.4,188.4L645.4,186.2L643.4,184.0L641.3,181.8L639.3,179.5L637.3,177.3L635.3,175.1L633.3,173.0L631.3,170.8L629.3,168.6L627.3,166.5L625.3,164.4L623.3,162.3L621.2,160.3L619.2,158.3L617.2,156.3L615.2,154.3L613.2,152.4L611.2,150.5L609.2,148.6L607.2,146.8L605.2,145.0L603.2,143.3L601.1,141.6L599.1,139.9L597.1,138.3L595.1,136.7L593.1,135.2L591.1,133.7L589.1,132.3L587.1,130.9L585.1,129.5L583.1,128.3L581.1,127.0L579.0,125.8L577.0,124.7L575.0,123.6L573.0,122.6L571.0,121.6L569.0,120.7L567.0,119.9L565.0,119.1L563.0,118.4L561.0,117.7L558.9,117.1L556.9,116.6L554.9,116.1L552.9,115.7L550.9,115.3L548.9,115.0L546.9,114.8L544.9,114.6L542.9,114.5L540.9,114.5L538.8,114.5L536.8,114.6L534.8,114.8L532.8,115.0L530.8,115.3L528.8,115.7L526.8,116.1L524.8,116.6L522.8,117.2L520.8,117.8L518.7,118.5L516.7,119.3L514.7,120.2L512.7,121.1L510.7,122.0L508.7,123.1L506.7,124.2L504.7,125.4L502.7,126.7L500.7,128.0L498.6,129.3L496.6,130.8L494.6,132.2L492.6,133.8L490.6,135.3L488.6,136.9L486.6,138.6L484.6,140.3L482.6,142.0L480.6,143.7L478.5,145.5L476.5,147.3L474.5,149.1L472.5,151.0L470.5,152.8L468.5,154.7L466.5,156.6L464.5,158.5L462.5,160.4L460.5,162.3L458.4,164.1L456.4,166.0L454.4,167.9L452.4,169.7L450.4,171.6L448.4,173.4L446.4,171.6L444.4,169.7L442.4,167.9L440.4,166.0L438.4,164.1L436.3,162.3L434.3,160.4L432.3,158.5L430.3,156.6L428.3,154.7L426.3,152.8L424.3,151.0L422.3,149.1L420.3,147.3L418.3,145.5L416.2,143.7L414.2,142.0L412.2,140.3L410.2,138.6L408.2,136.9L406.2,135.3L404.2,133.8L402.2,132.2L400.2,130.8L398.2,129.3L396.1,128.0L394.1,126.7L392.1,125.4L390.1,124.2L388.1,123.1L386.1,122.0L384.1,121.1L382.1,120.2L380.1,119.3L378.1,118.5L376.0,117.8L374.0,117.2L372.0,116.6L370.0,116.1L368.0,115.7L366.0,115.3L364.0,115.0L362.0,114.8L360.0,114.6L358.0,114.5L355.9,114.5L353.9,114.5L351.9,114.6L349.9,114.8L347.9,115.0L345.9,115.3L343.9,115.7L341.9,116.1L339.9,116.6L337.9,117.1L335.8,117.7L333.8,118.4L331.8,119.1L329.8,119.9L327.8,120.7L325.8,121.6L323.8,122.6L321.8,123.6L319.8,124.7L317.8,125.8L315.7,127.0L313.7,128.3L311.7,129.5L309.7,130.9L307.7,132.3L305.7,133.7L303.7,135.2L301.7,136.7L299.7,138.3L297.7,139.9L295.7,141.6L293.6,143.3L291.6,145.0L289.6,146.8L287.6,148.6L285.6,150.5L283.6,152.4L281.6,154.3L279.6,156.3L277.6,158.3L275.6,160.3L273.5,162.3L271.5,164.4L269.5,166.5L267.5,168.6L265.5,170.8L263.5,173.0L261.5,175.1L259.5,177.3L257.5,179.5L255.5,181.8L253.4,184.0L251.4,186.2L249.4,188.4L247.4,190.6L245.4,192.8L243.4,195.0L241.4,197.2L239.4,199.3L237.4,201.5L235.4,203.6L233.3,205.7L231.3,207.8L229.3,209.9L227.3,211.9L225.3,213.9L223.3,215.9L221.3,217.8L219.3,219.8L217.3,221.6L215.3,223.5L213.2,225.3L211.2,227.0L209.2,228.7L207.2,230.4L205.2,232.0L203.2,233.6L201.2,235.1L199.2,236.5L197.2,238.0L195.2,239.3L193.1,240.6L191.1,241.8L189.1,243.0L187.1,244.1L185.1,245.1L183.1,246.1L181.1,247.0L179.1,247.8L177.1,248.6L175.1,249.3L173.0,249.8L171.0,250.4L169.0,250.8L167.0,251.2L165.0,251.4L163.0,251.6Z" fill="url(#ag1)"/>
<path d="M163.0,251.6L165.0,251.9L167.0,252.1L169.0,252.3L171.0,252.4L173.0,252.5L175.0,252.5L177.1,252.6L179.1,252.5L181.1,252.5L183.1,252.4L185.1,252.3L187.1,252.1L189.1,251.9L191.1,251.7L193.1,251.5L195.1,251.3L197.1,251.0L199.1,250.7L201.1,250.4L203.1,250.0L205.2,249.7L207.2,249.3L209.2,249.0L211.2,248.6L213.2,248.2L215.2,247.8L217.2,247.4L219.2,247.0L221.2,246.6L223.2,246.2L225.2,245.8L227.2,245.4L229.2,245.0L231.3,244.6L233.3,244.2L235.3,243.8L237.3,243.4L239.3,243.1L241.3,242.7L243.3,242.4L245.3,242.1L247.3,241.8L249.3,241.5L251.3,241.3L253.3,241.1L255.3,240.9L257.3,240.7L259.4,240.5L261.4,240.4L263.4,240.3L265.4,240.3L267.4,240.3L269.4,240.3L271.4,240.4L273.4,240.5L275.4,240.6L277.4,240.8L279.4,241.1L281.4,241.3L283.4,241.7L285.4,242.0L287.5,242.4L289.5,242.8L291.5,243.3L293.5,243.8L295.5,244.3L297.5,244.9L299.5,245.5L301.5,246.1L303.5,246.7L305.5,247.4L307.5,248.1L309.5,248.8L311.5,249.6L313.6,250.5L315.6,251.4L317.6,252.3L319.6,253.3L321.6,254.4L323.6,255.5L325.6,256.7L327.6,258.0L329.6,259.3L331.6,260.6L333.6,262.0L335.6,263.4L337.6,264.8L339.6,266.3L341.7,267.8L343.7,269.3L345.7,270.8L347.7,272.3L349.7,273.8L351.7,275.3L353.7,276.8L353.7,282.0L346.7,282.0L344.7,280.5L342.6,279.1L340.6,277.7L338.6,276.4L336.6,275.1L334.5,273.8L332.5,272.6L330.5,271.4L328.5,270.3L326.4,269.2L324.4,268.1L322.4,267.1L320.4,266.2L318.3,265.2L316.3,264.4L314.3,263.5L312.3,262.7L310.2,262.0L308.2,261.3L306.2,260.7L304.2,260.1L302.1,259.5L300.1,259.0L298.1,258.5L296.1,258.1L294.0,257.8L292.0,257.5L290.0,257.2L288.0,257.0L285.9,256.8L283.9,256.7L281.9,256.7L279.9,256.7L277.8,256.7L275.8,256.8L273.8,256.9L271.8,257.1L269.7,257.4L267.7,257.7L265.7,258.0L263.7,258.4L261.6,258.9L259.6,259.3L257.6,259.9L255.6,260.4L253.5,261.1L251.5,261.7L249.5,262.4L247.5,263.1L245.4,263.9L243.4,264.7L241.4,265.6L239.4,266.4L237.3,267.3L235.3,268.3L233.3,269.3L231.3,270.3L229.2,271.3L227.2,272.4L225.2,273.5L223.2,274.7L221.1,275.8L219.1,277.0L217.1,278.2L215.1,279.5L213.0,280.7L211.0,282.0L209.0,280.8L207.0,279.5L205.0,278.2L203.0,277.0L201.0,275.7L199.0,274.5L197.0,273.2L195.0,271.9L193.0,270.6L191.0,269.3L189.0,268.0L187.0,266.7L185.0,265.4L183.0,264.1L181.0,262.8L179.0,261.5L177.0,260.2L175.0,259.0L173.0,257.7L171.0,256.5L169.0,255.3L167.0,254.0L165.0,252.8L163.0,251.6Z" fill="url(#ag2l)"/>
<path d="M543.1,276.8L545.1,275.3L547.1,273.8L549.1,272.3L551.1,270.8L553.1,269.3L555.1,267.8L557.2,266.3L559.2,264.8L561.2,263.4L563.2,262.0L565.2,260.6L567.2,259.3L569.2,258.0L571.2,256.7L573.2,255.5L575.2,254.4L577.2,253.3L579.2,252.3L581.2,251.4L583.2,250.5L585.3,249.6L587.3,248.8L589.3,248.1L591.3,247.4L593.3,246.7L595.3,246.1L597.3,245.5L599.3,244.9L601.3,244.3L603.3,243.8L605.3,243.3L607.3,242.8L609.3,242.4L611.4,242.0L613.4,241.7L615.4,241.3L617.4,241.1L619.4,240.8L621.4,240.6L623.4,240.5L625.4,240.4L627.4,240.3L629.4,240.3L631.4,240.3L633.4,240.3L635.4,240.4L637.4,240.5L639.5,240.7L641.5,240.9L643.5,241.1L645.5,241.3L647.5,241.5L649.5,241.8L651.5,242.1L653.5,242.4L655.5,242.7L657.5,243.1L659.5,243.4L661.5,243.8L663.5,244.2L665.5,244.6L667.6,245.0L669.6,245.4L671.6,245.8L673.6,246.2L675.6,246.6L677.6,247.0L679.6,247.4L681.6,247.8L683.6,248.2L685.6,248.6L687.6,249.0L689.6,249.3L691.6,249.7L693.7,250.0L695.7,250.4L697.7,250.7L699.7,251.0L701.7,251.3L703.7,251.5L705.7,251.7L707.7,251.9L709.7,252.1L711.7,252.3L713.7,252.4L715.7,252.5L717.7,252.5L719.7,252.6L721.8,252.5L723.8,252.5L725.8,252.4L727.8,252.3L729.8,252.1L731.8,251.9L733.8,251.6L733.8,251.6L731.8,252.8L729.8,254.0L727.8,255.3L725.8,256.5L723.8,257.7L721.8,259.0L719.8,260.2L717.8,261.5L715.8,262.8L713.8,264.1L711.8,265.4L709.8,266.7L707.8,268.0L705.8,269.3L703.8,270.6L701.8,271.9L699.8,273.2L697.8,274.5L695.8,275.7L693.8,277.0L691.8,278.2L689.8,279.5L687.8,280.8L685.8,282.0L683.8,280.7L681.7,279.5L679.7,278.2L677.7,277.0L675.7,275.8L673.6,274.7L671.6,273.5L669.6,272.4L667.6,271.3L665.5,270.3L663.5,269.3L661.5,268.3L659.5,267.3L657.4,266.4L655.4,265.6L653.4,264.7L651.4,263.9L649.3,263.1L647.3,262.4L645.3,261.7L643.3,261.1L641.2,260.4L639.2,259.9L637.2,259.3L635.2,258.9L633.1,258.4L631.1,258.0L629.1,257.7L627.1,257.4L625.0,257.1L623.0,256.9L621.0,256.8L619.0,256.7L616.9,256.7L614.9,256.7L612.9,256.7L610.9,256.8L608.8,257.0L606.8,257.2L604.8,257.5L602.8,257.8L600.7,258.1L598.7,258.5L596.7,259.0L594.7,259.5L592.6,260.1L590.6,260.7L588.6,261.3L586.6,262.0L584.5,262.7L582.5,263.5L580.5,264.4L578.5,265.2L576.4,266.2L574.4,267.1L572.4,268.1L570.4,269.2L568.3,270.3L566.3,271.4L564.3,272.6L562.3,273.8L560.2,275.1L558.2,276.4L556.2,277.7L554.2,279.1L552.1,280.5L550.1,282.0L543.1,282.0Z" fill="url(#ag2r)"/>
<path d="M446.0,176.0L446.4,175.6L448.4,173.5L448.8,173.9L448.8,209.9L448.4,209.8L446.4,210.0L446.0,210.0Z" fill="url(#as2_0)"/>
<path d="M448.0,173.9L448.4,173.5L450.4,175.6L450.8,176.0L450.8,210.0L450.4,210.0L448.4,209.8L448.0,209.9Z" fill="url(#as2_0)"/>
<path d="M444.0,178.1L444.4,177.7L446.4,175.6L446.8,175.2L446.8,210.0L446.4,210.0L444.3,210.4L444.0,210.4Z" fill="url(#as2_1)"/>
<path d="M450.0,175.2L450.4,175.6L452.4,177.7L452.8,178.1L452.8,210.4L452.5,210.4L450.4,210.0L450.0,210.0Z" fill="url(#as2_1)"/>
<path d="M442.0,180.2L442.4,179.9L444.4,177.7L444.8,177.3L444.8,210.3L444.3,210.4L442.3,211.0L442.0,211.0Z" fill="url(#as2_2)"/>
<path d="M452.0,177.3L452.4,177.7L454.4,179.9L454.8,180.2L454.8,211.0L454.5,211.0L452.5,210.4L452.0,210.3Z" fill="url(#as2_2)"/>
<path d="M440.0,182.3L440.3,182.0L442.4,179.9L442.8,179.4L442.8,210.8L442.3,211.0L440.2,211.7L440.0,211.8Z" fill="url(#as2_3)"/>
<path d="M454.0,179.4L454.4,179.9L456.5,182.0L456.8,182.3L456.8,211.8L456.6,211.7L454.5,211.0L454.0,210.8Z" fill="url(#as2_3)"/>
<path d="M438.0,184.4L438.3,184.1L440.3,182.0L440.8,181.6L440.8,211.5L440.2,211.7L438.2,212.7L438.0,212.8Z" fill="url(#as2_4)"/>
<path d="M456.0,181.6L456.5,182.0L458.5,184.1L458.8,184.4L458.8,212.8L458.6,212.7L456.6,211.7L456.0,211.5Z" fill="url(#as2_4)"/>
<path d="M436.0,186.6L436.3,186.3L438.3,184.1L438.8,183.7L438.8,212.4L438.2,212.7L436.1,213.9L436.0,213.9Z" fill="url(#as2_5)"/>
<path d="M458.0,183.7L458.5,184.1L460.5,186.3L460.8,186.6L460.8,213.9L460.7,213.9L458.6,212.7L458.0,212.4Z" fill="url(#as2_5)"/>
<path d="M434.0,188.7L434.3,188.5L436.3,186.3L436.8,185.8L436.8,213.5L436.1,213.9L434.1,215.2L434.0,215.2Z" fill="url(#as2_6)"/>
<path d="M460.0,185.8L460.5,186.3L462.5,188.5L462.8,188.7L462.8,215.2L462.7,215.2L460.7,213.9L460.0,213.5Z" fill="url(#as2_6)"/>
<path d="M432.0,190.9L432.3,190.7L434.3,188.5L434.8,188.0L434.8,214.8L434.1,215.2L432.1,216.7L432.0,216.7Z" fill="url(#as2_7)"/>
<path d="M462.0,188.0L462.5,188.5L464.5,190.7L464.8,190.9L464.8,216.7L464.7,216.7L462.7,215.2L462.0,214.8Z" fill="url(#as2_7)"/>
<path d="M430.0,193.1L430.3,192.9L432.3,190.7L432.8,190.1L432.8,216.2L432.1,216.7L430.0,218.3Z" fill="url(#as2_8)"/>
<path d="M464.0,190.1L464.5,190.7L466.5,192.9L466.8,193.1L466.8,218.3L464.7,216.7L464.0,216.2Z" fill="url(#as2_8)"/>
<path d="M428.0,195.3L428.3,195.1L430.3,192.9L430.8,192.3L430.8,217.7L430.0,218.3L428.0,220.0Z" fill="url(#as2_9)"/>
<path d="M466.0,192.3L466.5,192.9L468.5,195.1L468.8,195.3L468.8,220.0L466.8,218.3L466.0,217.7Z" fill="url(#as2_9)"/>
<path d="M426.0,197.6L426.2,197.3L428.3,195.1L428.8,194.5L428.8,219.4L428.0,220.1L426.0,221.8Z" fill="url(#as2_10)"/>
<path d="M468.0,194.5L468.5,195.1L470.6,197.3L470.8,197.6L470.8,221.8L468.8,220.1L468.0,219.4Z" fill="url(#as2_10)"/>
<path d="M424.0,199.8L424.2,199.6L426.2,197.3L426.8,196.8L426.8,221.2L425.9,221.9L424.0,223.8Z" fill="url(#as2_11)"/>
<path d="M470.0,196.8L470.6,197.3L472.6,199.6L472.8,199.8L472.8,223.8L470.9,221.9L470.0,221.2Z" fill="url(#as2_11)"/>
<path d="M422.0,202.1L422.2,201.9L424.2,199.6L424.8,199.0L424.8,223.1L423.9,223.9L422.0,225.7Z" fill="url(#as2_12)"/>
<path d="M472.0,199.0L472.6,199.6L474.6,201.9L474.8,202.1L474.8,225.7L472.9,223.9L472.0,223.1Z" fill="url(#as2_12)"/>
<path d="M420.0,204.4L420.2,204.3L422.2,201.9L422.8,201.3L422.8,225.0L421.8,225.9L420.0,227.7Z" fill="url(#as2_13)"/>
<path d="M474.0,201.3L474.6,201.9L476.6,204.3L476.8,204.4L476.8,227.7L475.0,225.9L474.0,225.0Z" fill="url(#as2_13)"/>
<path d="M418.0,206.8L418.2,206.6L420.2,204.3L420.8,203.6L420.8,227.0L419.8,228.0L418.0,229.7Z" fill="url(#as2_14)"/>
<path d="M476.0,203.6L476.6,204.3L478.6,206.6L478.8,206.8L478.8,229.7L477.0,228.0L476.0,227.0Z" fill="url(#as2_14)"/>
<path d="M416.0,209.2L416.2,209.0L418.2,206.6L418.8,206.0L418.8,229.0L417.8,230.0L416.0,231.7Z" fill="url(#as2_15)"/>
<path d="M478.0,206.0L478.6,206.6L480.6,209.0L480.8,209.2L480.8,231.7L479.0,230.0L478.0,229.0Z" fill="url(#as2_15)"/>
<path d="M414.0,211.6L414.1,211.4L416.2,209.0L416.8,208.3L416.8,231.0L415.7,232.0L414.0,233.6Z" fill="url(#as2_16)"/>
<path d="M480.0,208.3L480.6,209.0L482.7,211.4L482.8,211.6L482.8,233.6L481.1,232.0L480.0,231.0Z" fill="url(#as2_16)"/>
<path d="M412.0,214.0L412.1,213.9L414.1,211.4L414.8,210.7L414.8,232.9L413.7,233.9L412.0,235.4Z" fill="url(#as2_17)"/>
<path d="M482.0,210.7L482.7,211.4L484.7,213.9L484.8,214.0L484.8,235.4L483.1,233.9L482.0,232.9Z" fill="url(#as2_17)"/>
<path d="M410.0,216.4L410.1,216.3L412.1,213.9L412.8,213.1L412.8,234.8L411.6,235.8L410.0,237.0Z" fill="url(#as2_18)"/>
<path d="M484.0,213.1L484.7,213.9L486.7,216.3L486.8,216.4L486.8,237.0L485.2,235.8L484.0,234.8Z" fill="url(#as2_18)"/>
<path d="M408.0,218.8L408.1,218.8L410.1,216.3L410.8,215.6L410.8,236.5L409.6,237.4L408.0,238.5Z" fill="url(#as2_19)"/>
<path d="M486.0,215.6L486.7,216.3L488.7,218.8L488.8,218.8L488.8,238.5L487.2,237.4L486.0,236.5Z" fill="url(#as2_19)"/>
<path d="M406.0,221.3L406.1,221.2L408.1,218.8L408.8,218.0L408.8,238.0L407.5,238.9L406.0,239.9Z" fill="url(#as2_20)"/>
<path d="M488.0,218.0L488.7,218.8L490.7,221.2L490.8,221.3L490.8,239.9L489.3,238.9L488.0,238.0Z" fill="url(#as2_20)"/>
<path d="M404.0,223.7L404.1,223.7L406.1,221.2L406.8,220.4L406.8,239.4L405.5,240.3L404.0,241.3Z" fill="url(#as2_21)"/>
<path d="M490.0,220.4L490.7,221.2L492.7,223.7L492.8,223.7L492.8,241.3L491.3,240.3L490.0,239.4Z" fill="url(#as2_21)"/>
<path d="M402.0,226.2L402.1,226.2L404.1,223.7L404.8,222.9L404.8,240.8L403.5,241.7L402.0,242.7Z" fill="url(#as2_22)"/>
<path d="M492.0,222.9L492.7,223.7L494.7,226.2L494.8,226.2L494.8,242.7L493.3,241.7L492.0,240.8Z" fill="url(#as2_22)"/>
<path d="M400.0,228.6L402.1,226.2L402.8,225.3L402.8,242.2L401.4,243.2L400.0,244.2Z" fill="url(#as2_23)"/>
<path d="M494.0,225.3L494.7,226.2L496.8,228.6L496.8,244.2L495.4,243.2L494.0,242.2Z" fill="url(#as2_23)"/>
<path d="M398.0,231.1L400.0,228.6L400.8,227.8L400.8,243.7L399.4,244.8L398.0,245.9Z" fill="url(#as2_24)"/>
<path d="M496.0,227.8L496.8,228.6L498.8,231.1L498.8,245.9L497.4,244.8L496.0,243.7Z" fill="url(#as2_24)"/>
<path d="M396.0,233.5L398.0,231.1L398.8,230.2L398.8,245.3L397.3,246.6L396.0,247.7Z" fill="url(#as2_25)"/>
<path d="M498.0,230.2L498.8,231.1L500.8,233.5L500.8,247.7L499.5,246.6L498.0,245.3Z" fill="url(#as2_25)"/>
<path d="M394.0,235.9L396.0,233.5L396.8,232.6L396.8,247.1L395.3,248.4L394.0,249.7Z" fill="url(#as2_26)"/>
<path d="M500.0,232.6L500.8,233.5L502.8,235.9L502.8,249.7L501.5,248.4L500.0,247.1Z" fill="url(#as2_26)"/>
<path d="M392.0,238.3L394.0,235.9L394.8,235.0L394.8,249.0L393.2,250.5L392.0,251.7Z" fill="url(#as2_27)"/>
<path d="M502.0,235.0L502.8,235.9L504.8,238.3L504.8,251.7L503.6,250.5L502.0,249.0Z" fill="url(#as2_27)"/>
<path d="M390.0,240.6L392.0,238.4L392.8,237.4L392.8,251.0L391.2,252.6L390.0,253.8Z" fill="url(#as2_28)"/>
<path d="M504.0,237.4L504.8,238.4L506.8,240.6L506.8,253.8L505.6,252.6L504.0,251.0Z" fill="url(#as2_28)"/>
<path d="M388.0,243.0L390.0,240.7L390.8,239.8L390.8,253.0L389.2,254.7L388.0,255.9Z" fill="url(#as2_29)"/>
<path d="M506.0,239.8L506.8,240.7L508.8,243.0L508.8,255.9L507.6,254.7L506.0,253.0Z" fill="url(#as2_29)"/>
<path d="M386.0,245.3L388.0,243.1L388.8,242.2L388.8,255.2L387.1,257.0L386.0,258.1Z" fill="url(#as2_30)"/>
<path d="M508.0,242.2L508.8,243.1L510.8,245.3L510.8,258.1L509.7,257.0L508.0,255.2Z" fill="url(#as2_30)"/>
<path d="M384.0,247.6L385.9,245.4L386.8,244.5L386.8,257.4L385.1,259.2L384.0,260.4Z" fill="url(#as2_31)"/>
<path d="M510.0,244.5L510.9,245.4L512.8,247.6L512.8,260.4L511.7,259.2L510.0,257.4Z" fill="url(#as2_31)"/>
<path d="M382.0,249.8L383.9,247.7L384.8,246.8L384.8,259.6L383.0,261.5L382.0,262.6Z" fill="url(#as2_32)"/>
<path d="M512.0,246.8L512.9,247.7L514.8,249.8L514.8,262.6L513.8,261.5L512.0,259.6Z" fill="url(#as2_32)"/>
<path d="M380.0,252.1L381.9,250.0L382.8,249.0L382.8,261.8L381.0,263.8L380.0,264.9Z" fill="url(#as2_33)"/>
<path d="M514.0,249.0L514.9,250.0L516.8,252.1L516.8,264.9L515.8,263.8L514.0,261.8Z" fill="url(#as2_33)"/>
<path d="M378.0,254.2L379.9,252.2L380.8,251.3L380.8,264.1L378.9,266.1L378.0,267.1Z" fill="url(#as2_34)"/>
<path d="M516.0,251.3L516.9,252.2L518.8,254.2L518.8,267.1L517.9,266.1L516.0,264.1Z" fill="url(#as2_34)"/>
<path d="M376.0,256.4L377.9,254.4L378.8,253.5L378.8,266.3L376.9,268.4L376.0,269.3Z" fill="url(#as2_35)"/>
<path d="M518.0,253.5L518.9,254.4L520.8,256.4L520.8,269.3L519.9,268.4L518.0,266.3Z" fill="url(#as2_35)"/>
<path d="M374.0,258.5L375.9,256.6L376.8,255.6L376.8,268.6L374.9,270.6L374.0,271.5Z" fill="url(#as2_36)"/>
<path d="M520.0,255.6L520.9,256.6L522.8,258.5L522.8,271.5L521.9,270.6L520.0,268.6Z" fill="url(#as2_36)"/>
<path d="M372.0,260.5L373.8,258.7L374.8,257.7L374.8,270.7L372.8,272.8L372.0,273.5Z" fill="url(#as2_37)"/>
<path d="M522.0,257.7L523.0,258.7L524.8,260.5L524.8,273.5L524.0,272.8L522.0,270.7Z" fill="url(#as2_37)"/>
<path d="M370.0,262.5L371.8,260.8L372.8,259.8L372.8,272.8L370.8,274.8L370.0,275.5Z" fill="url(#as2_38)"/>
<path d="M524.0,259.8L525.0,260.8L526.8,262.5L526.8,275.5L526.0,274.8L524.0,272.8Z" fill="url(#as2_38)"/>
<path d="M368.0,264.5L369.8,262.8L370.8,261.8L370.8,274.9L368.7,276.8L368.0,277.4Z" fill="url(#as2_39)"/>
<path d="M526.0,261.8L527.0,262.8L528.8,264.5L528.8,277.4L528.1,276.8L526.0,274.9Z" fill="url(#as2_39)"/>
<path d="M366.0,266.4L367.8,264.7L368.8,263.8L368.8,276.8L368.7,276.8L366.7,278.7L366.0,279.2Z" fill="url(#as2_40)"/>
<path d="M528.0,263.8L529.0,264.7L530.8,266.4L530.8,279.2L530.1,278.7L528.1,276.8L528.0,276.8Z" fill="url(#as2_40)"/>
<path d="M364.0,268.2L365.8,266.6L366.8,265.7L366.8,278.6L366.7,278.7L364.6,280.4L364.0,280.9Z" fill="url(#as2_41)"/>
<path d="M530.0,265.7L531.0,266.6L532.8,268.2L532.8,280.9L532.2,280.4L530.1,278.7L530.0,278.6Z" fill="url(#as2_41)"/>
<path d="M362.0,270.0L363.8,268.5L364.8,267.6L364.8,280.3L364.6,280.4L362.6,282.0L362.0,282.0Z" fill="url(#as2_42)"/>
<path d="M532.0,267.6L533.0,268.5L534.8,270.0L534.8,282.0L534.2,282.0L532.2,280.4L532.0,280.3Z" fill="url(#as2_42)"/>
<path d="M360.0,271.8L361.8,270.3L362.8,269.4L362.8,281.9L362.6,282.0L360.0,282.0Z" fill="url(#as2_43)"/>
<path d="M534.0,269.4L535.0,270.3L536.8,271.8L536.8,282.0L534.2,282.0L534.0,281.9Z" fill="url(#as2_43)"/>
<path d="M358.0,273.4L359.7,272.0L360.8,271.2L360.8,282.0L358.0,282.0Z" fill="url(#as2_44)"/>
<path d="M536.0,271.2L537.1,272.0L538.8,273.4L538.8,282.0L536.0,282.0Z" fill="url(#as2_44)"/>
<path d="M356.0,275.0L357.7,273.7L358.8,272.8L358.8,282.0L356.0,282.0Z" fill="url(#as2_45)"/>
<path d="M538.0,272.8L539.1,273.7L540.8,275.0L540.8,282.0L538.0,282.0Z" fill="url(#as2_45)"/>
<path d="M354.0,276.5L355.7,275.3L356.8,274.5L356.8,282.0L354.0,282.0Z" fill="url(#as2_46)"/>
<path d="M540.0,274.5L541.1,275.3L542.8,276.5L542.8,282.0L540.0,282.0Z" fill="url(#as2_46)"/>
<path d="M353.3,276.5L353.7,276.8L354.8,276.0L354.8,282.0L353.3,282.0Z" fill="url(#as2_47)"/>
<path d="M542.0,276.0L543.1,276.8L543.4,276.5L543.4,282.0L542.0,282.0Z" fill="url(#as2_47)"/>
<path d="M163.0,313.6L165.0,312.4L167.0,311.2L169.0,309.9L171.0,308.7L173.0,307.5L175.0,306.2L177.0,305.0L179.0,303.7L181.0,302.4L183.0,301.1L185.0,299.8L187.0,298.5L189.0,297.2L191.0,295.9L193.0,294.6L195.0,293.3L197.0,292.0L199.0,290.7L201.0,289.5L203.0,288.2L205.0,287.0L207.0,285.7L209.0,284.4L211.0,283.2L213.0,284.5L215.1,285.7L217.1,287.0L219.1,288.2L221.1,289.4L223.2,290.5L225.2,291.7L227.2,292.8L229.2,293.9L231.3,294.9L233.3,295.9L235.3,296.9L237.3,297.9L239.4,298.8L241.4,299.6L243.4,300.5L245.4,301.3L247.5,302.1L249.5,302.8L251.5,303.5L253.5,304.1L255.6,304.8L257.6,305.3L259.6,305.9L261.6,306.3L263.7,306.8L265.7,307.2L267.7,307.5L269.7,307.8L271.8,308.1L273.8,308.3L275.8,308.4L277.8,308.5L279.9,308.5L281.9,308.5L283.9,308.5L285.9,308.4L288.0,308.2L290.0,308.0L292.0,307.7L294.0,307.4L296.1,307.1L298.1,306.7L300.1,306.2L302.1,305.7L304.2,305.1L306.2,304.5L308.2,303.9L310.2,303.2L312.3,302.5L314.3,301.7L316.3,300.8L318.3,300.0L320.4,299.0L322.4,298.1L324.4,297.1L326.4,296.0L328.5,294.9L330.5,293.8L332.5,292.6L334.5,291.4L336.6,290.1L338.6,288.8L340.6,287.5L342.6,286.1L344.7,284.7L346.7,283.2L353.7,283.2L353.7,288.4L351.7,289.9L349.7,291.4L347.7,292.9L345.7,294.4L343.7,295.9L341.7,297.4L339.6,298.9L337.6,300.4L335.6,301.8L333.6,303.2L331.6,304.6L329.6,305.9L327.6,307.2L325.6,308.5L323.6,309.7L321.6,310.8L319.6,311.9L317.6,312.9L315.6,313.8L313.6,314.7L311.5,315.6L309.5,316.4L307.5,317.1L305.5,317.8L303.5,318.5L301.5,319.1L299.5,319.7L297.5,320.3L295.5,320.9L293.5,321.4L291.5,321.9L289.5,322.4L287.5,322.8L285.4,323.2L283.4,323.5L281.4,323.9L279.4,324.1L277.4,324.4L275.4,324.6L273.4,324.7L271.4,324.8L269.4,324.9L267.4,324.9L265.4,324.9L263.4,324.9L261.4,324.8L259.4,324.7L257.3,324.5L255.3,324.3L253.3,324.1L251.3,323.9L249.3,323.7L247.3,323.4L245.3,323.1L243.3,322.8L241.3,322.5L239.3,322.1L237.3,321.8L235.3,321.4L233.3,321.0L231.3,320.6L229.2,320.2L227.2,319.8L225.2,319.4L223.2,319.0L221.2,318.6L219.2,318.2L217.2,317.8L215.2,317.4L213.2,317.0L211.2,316.6L209.2,316.2L207.2,315.9L205.2,315.5L203.1,315.2L201.1,314.8L199.1,314.5L197.1,314.2L195.1,313.9L193.1,313.7L191.1,313.5L189.1,313.3L187.1,313.1L185.1,312.9L183.1,312.8L181.1,312.7L179.1,312.7L177.1,312.6L175.0,312.7L173.0,312.7L171.0,312.8L169.0,312.9L167.0,313.1L165.0,313.3L163.0,313.6Z" fill="url(#ag3l)"/>
<path d="M543.1,283.2L550.1,283.2L552.1,284.7L554.2,286.1L556.2,287.5L558.2,288.8L560.2,290.1L562.3,291.4L564.3,292.6L566.3,293.8L568.3,294.9L570.4,296.0L572.4,297.1L574.4,298.1L576.4,299.0L578.5,300.0L580.5,300.8L582.5,301.7L584.5,302.5L586.6,303.2L588.6,303.9L590.6,304.5L592.6,305.1L594.7,305.7L596.7,306.2L598.7,306.7L600.7,307.1L602.8,307.4L604.8,307.7L606.8,308.0L608.8,308.2L610.9,308.4L612.9,308.5L614.9,308.5L616.9,308.5L619.0,308.5L621.0,308.4L623.0,308.3L625.0,308.1L627.1,307.8L629.1,307.5L631.1,307.2L633.1,306.8L635.2,306.3L637.2,305.9L639.2,305.3L641.2,304.8L643.3,304.1L645.3,303.5L647.3,302.8L649.3,302.1L651.4,301.3L653.4,300.5L655.4,299.6L657.4,298.8L659.5,297.9L661.5,296.9L663.5,295.9L665.5,294.9L667.6,293.9L669.6,292.8L671.6,291.7L673.6,290.5L675.7,289.4L677.7,288.2L679.7,287.0L681.7,285.7L683.8,284.5L685.8,283.2L687.8,284.4L689.8,285.7L691.8,287.0L693.8,288.2L695.8,289.5L697.8,290.7L699.8,292.0L701.8,293.3L703.8,294.6L705.8,295.9L707.8,297.2L709.8,298.5L711.8,299.8L713.8,301.1L715.8,302.4L717.8,303.7L719.8,305.0L721.8,306.2L723.8,307.5L725.8,308.7L727.8,309.9L729.8,311.2L731.8,312.4L733.8,313.6L733.8,313.6L731.8,313.3L729.8,313.1L727.8,312.9L725.8,312.8L723.8,312.7L721.8,312.7L719.7,312.6L717.7,312.7L715.7,312.7L713.7,312.8L711.7,312.9L709.7,313.1L707.7,313.3L705.7,313.5L703.7,313.7L701.7,313.9L699.7,314.2L697.7,314.5L695.7,314.8L693.7,315.2L691.6,315.5L689.6,315.9L687.6,316.2L685.6,316.6L683.6,317.0L681.6,317.4L679.6,317.8L677.6,318.2L675.6,318.6L673.6,319.0L671.6,319.4L669.6,319.8L667.6,320.2L665.5,320.6L663.5,321.0L661.5,321.4L659.5,321.8L657.5,322.1L655.5,322.5L653.5,322.8L651.5,323.1L649.5,323.4L647.5,323.7L645.5,323.9L643.5,324.1L641.5,324.3L639.5,324.5L637.4,324.7L635.4,324.8L633.4,324.9L631.4,324.9L629.4,324.9L627.4,324.9L625.4,324.8L623.4,324.7L621.4,324.6L619.4,324.4L617.4,324.1L615.4,323.9L613.4,323.5L611.4,323.2L609.3,322.8L607.3,322.4L605.3,321.9L603.3,321.4L601.3,320.9L599.3,320.3L597.3,319.7L595.3,319.1L593.3,318.5L591.3,317.8L589.3,317.1L587.3,316.4L585.3,315.6L583.2,314.7L581.2,313.8L579.2,312.9L577.2,311.9L575.2,310.8L573.2,309.7L571.2,308.5L569.2,307.2L567.2,305.9L565.2,304.6L563.2,303.2L561.2,301.8L559.2,300.4L557.2,298.9L555.1,297.4L553.1,295.9L551.1,294.4L549.1,292.9L547.1,291.4L545.1,289.9L543.1,288.4Z" fill="url(#ag3r)"/>
<path d="M446.0,389.2L446.4,389.6L448.4,391.7L448.8,391.3L448.8,355.3L448.4,355.4L446.4,355.2L446.0,355.2Z" fill="url(#as3_0)"/>
<path d="M448.0,391.3L448.4,391.7L450.4,389.6L450.8,389.2L450.8,355.2L450.4,355.2L448.4,355.4L448.0,355.3Z" fill="url(#as3_0)"/>
<path d="M444.0,387.1L444.4,387.5L446.4,389.6L446.8,390.0L446.8,355.2L446.4,355.2L444.3,354.8L444.0,354.8Z" fill="url(#as3_1)"/>
<path d="M450.0,390.0L450.4,389.6L452.4,387.5L452.8,387.1L452.8,354.8L452.5,354.8L450.4,355.2L450.0,355.2Z" fill="url(#as3_1)"/>
<path d="M442.0,385.0L442.4,385.3L444.4,387.5L444.8,387.9L444.8,354.9L444.3,354.8L442.3,354.2L442.0,354.2Z" fill="url(#as3_2)"/>
<path d="M452.0,387.9L452.4,387.5L454.4,385.3L454.8,385.0L454.8,354.2L454.5,354.2L452.5,354.8L452.0,354.9Z" fill="url(#as3_2)"/>
<path d="M440.0,382.9L440.3,383.2L442.4,385.3L442.8,385.8L442.8,354.4L442.3,354.2L440.2,353.5L440.0,353.4Z" fill="url(#as3_3)"/>
<path d="M454.0,385.8L454.4,385.3L456.5,383.2L456.8,382.9L456.8,353.4L456.6,353.5L454.5,354.2L454.0,354.4Z" fill="url(#as3_3)"/>
<path d="M438.0,380.8L438.3,381.1L440.3,383.2L440.8,383.6L440.8,353.7L440.2,353.5L438.2,352.5L438.0,352.4Z" fill="url(#as3_4)"/>
<path d="M456.0,383.6L456.5,383.2L458.5,381.1L458.8,380.8L458.8,352.4L458.6,352.5L456.6,353.5L456.0,353.7Z" fill="url(#as3_4)"/>
<path d="M436.0,378.6L436.3,378.9L438.3,381.1L438.8,381.5L438.8,352.8L438.2,352.5L436.1,351.3L436.0,351.3Z" fill="url(#as3_5)"/>
<path d="M458.0,381.5L458.5,381.1L460.5,378.9L460.8,378.6L460.8,351.3L460.7,351.3L458.6,352.5L458.0,352.8Z" fill="url(#as3_5)"/>
<path d="M434.0,376.5L434.3,376.7L436.3,378.9L436.8,379.4L436.8,351.7L436.1,351.3L434.1,350.0L434.0,350.0Z" fill="url(#as3_6)"/>
<path d="M460.0,379.4L460.5,378.9L462.5,376.7L462.8,376.5L462.8,350.0L462.7,350.0L460.7,351.3L460.0,351.7Z" fill="url(#as3_6)"/>
<path d="M432.0,374.3L432.3,374.5L434.3,376.7L434.8,377.2L434.8,350.4L434.1,350.0L432.1,348.5L432.0,348.5Z" fill="url(#as3_7)"/>
<path d="M462.0,377.2L462.5,376.7L464.5,374.5L464.8,374.3L464.8,348.5L464.7,348.5L462.7,350.0L462.0,350.4Z" fill="url(#as3_7)"/>
<path d="M430.0,372.1L430.3,372.3L432.3,374.5L432.8,375.1L432.8,349.0L432.1,348.5L430.0,346.9Z" fill="url(#as3_8)"/>
<path d="M464.0,375.1L464.5,374.5L466.5,372.3L466.8,372.1L466.8,346.9L464.7,348.5L464.0,349.0Z" fill="url(#as3_8)"/>
<path d="M428.0,369.9L428.3,370.1L430.3,372.3L430.8,372.9L430.8,347.5L430.0,346.9L428.0,345.2Z" fill="url(#as3_9)"/>
<path d="M466.0,372.9L466.5,372.3L468.5,370.1L468.8,369.9L468.8,345.2L466.8,346.9L466.0,347.5Z" fill="url(#as3_9)"/>
<path d="M426.0,367.6L426.2,367.9L428.3,370.1L428.8,370.7L428.8,345.8L428.0,345.1L426.0,343.4Z" fill="url(#as3_10)"/>
<path d="M468.0,370.7L468.5,370.1L470.6,367.9L470.8,367.6L470.8,343.4L468.8,345.1L468.0,345.8Z" fill="url(#as3_10)"/>
<path d="M424.0,365.4L424.2,365.6L426.2,367.9L426.8,368.4L426.8,344.0L425.9,343.3L424.0,341.4Z" fill="url(#as3_11)"/>
<path d="M470.0,368.4L470.6,367.9L472.6,365.6L472.8,365.4L472.8,341.4L470.9,343.3L470.0,344.0Z" fill="url(#as3_11)"/>
<path d="M422.0,363.1L422.2,363.3L424.2,365.6L424.8,366.2L424.8,342.1L423.9,341.3L422.0,339.5Z" fill="url(#as3_12)"/>
<path d="M472.0,366.2L472.6,365.6L474.6,363.3L474.8,363.1L474.8,339.5L472.9,341.3L472.0,342.1Z" fill="url(#as3_12)"/>
<path d="M420.0,360.8L420.2,360.9L422.2,363.3L422.8,363.9L422.8,340.2L421.8,339.3L420.0,337.5Z" fill="url(#as3_13)"/>
<path d="M474.0,363.9L474.6,363.3L476.6,360.9L476.8,360.8L476.8,337.5L475.0,339.3L474.0,340.2Z" fill="url(#as3_13)"/>
<path d="M418.0,358.4L418.2,358.6L420.2,360.9L420.8,361.6L420.8,338.2L419.8,337.2L418.0,335.5Z" fill="url(#as3_14)"/>
<path d="M476.0,361.6L476.6,360.9L478.6,358.6L478.8,358.4L478.8,335.5L477.0,337.2L476.0,338.2Z" fill="url(#as3_14)"/>
<path d="M416.0,356.0L416.2,356.2L418.2,358.6L418.8,359.2L418.8,336.2L417.8,335.2L416.0,333.5Z" fill="url(#as3_15)"/>
<path d="M478.0,359.2L478.6,358.6L480.6,356.2L480.8,356.0L480.8,333.5L479.0,335.2L478.0,336.2Z" fill="url(#as3_15)"/>
<path d="M414.0,353.6L414.1,353.8L416.2,356.2L416.8,356.9L416.8,334.2L415.7,333.2L414.0,331.6Z" fill="url(#as3_16)"/>
<path d="M480.0,356.9L480.6,356.2L482.7,353.8L482.8,353.6L482.8,331.6L481.1,333.2L480.0,334.2Z" fill="url(#as3_16)"/>
<path d="M412.0,351.2L412.1,351.3L414.1,353.8L414.8,354.5L414.8,332.3L413.7,331.3L412.0,329.8Z" fill="url(#as3_17)"/>
<path d="M482.0,354.5L482.7,353.8L484.7,351.3L484.8,351.2L484.8,329.8L483.1,331.3L482.0,332.3Z" fill="url(#as3_17)"/>
<path d="M410.0,348.8L410.1,348.9L412.1,351.3L412.8,352.1L412.8,330.4L411.6,329.4L410.0,328.2Z" fill="url(#as3_18)"/>
<path d="M484.0,352.1L484.7,351.3L486.7,348.9L486.8,348.8L486.8,328.2L485.2,329.4L484.0,330.4Z" fill="url(#as3_18)"/>
<path d="M408.0,346.4L408.1,346.4L410.1,348.9L410.8,349.6L410.8,328.7L409.6,327.8L408.0,326.7Z" fill="url(#as3_19)"/>
<path d="M486.0,349.6L486.7,348.9L488.7,346.4L488.8,346.4L488.8,326.7L487.2,327.8L486.0,328.7Z" fill="url(#as3_19)"/>
<path d="M406.0,343.9L406.1,344.0L408.1,346.4L408.8,347.2L408.8,327.2L407.5,326.3L406.0,325.3Z" fill="url(#as3_20)"/>
<path d="M488.0,347.2L488.7,346.4L490.7,344.0L490.8,343.9L490.8,325.3L489.3,326.3L488.0,327.2Z" fill="url(#as3_20)"/>
<path d="M404.0,341.5L404.1,341.5L406.1,344.0L406.8,344.8L406.8,325.8L405.5,324.9L404.0,323.9Z" fill="url(#as3_21)"/>
<path d="M490.0,344.8L490.7,344.0L492.7,341.5L492.8,341.5L492.8,323.9L491.3,324.9L490.0,325.8Z" fill="url(#as3_21)"/>
<path d="M402.0,339.0L402.1,339.0L404.1,341.5L404.8,342.3L404.8,324.4L403.5,323.5L402.0,322.5Z" fill="url(#as3_22)"/>
<path d="M492.0,342.3L492.7,341.5L494.7,339.0L494.8,339.0L494.8,322.5L493.3,323.5L492.0,324.4Z" fill="url(#as3_22)"/>
<path d="M400.0,336.6L402.1,339.0L402.8,339.9L402.8,323.0L401.4,322.0L400.0,321.0Z" fill="url(#as3_23)"/>
<path d="M494.0,339.9L494.7,339.0L496.8,336.6L496.8,321.0L495.4,322.0L494.0,323.0Z" fill="url(#as3_23)"/>
<path d="M398.0,334.1L400.0,336.6L400.8,337.4L400.8,321.5L399.4,320.4L398.0,319.3Z" fill="url(#as3_24)"/>
<path d="M496.0,337.4L496.8,336.6L498.8,334.1L498.8,319.3L497.4,320.4L496.0,321.5Z" fill="url(#as3_24)"/>
<path d="M396.0,331.7L398.0,334.1L398.8,335.0L398.8,319.9L397.3,318.6L396.0,317.5Z" fill="url(#as3_25)"/>
<path d="M498.0,335.0L498.8,334.1L500.8,331.7L500.8,317.5L499.5,318.6L498.0,319.9Z" fill="url(#as3_25)"/>
<path d="M394.0,329.3L396.0,331.7L396.8,332.6L396.8,318.1L395.3,316.8L394.0,315.5Z" fill="url(#as3_26)"/>
<path d="M500.0,332.6L500.8,331.7L502.8,329.3L502.8,315.5L501.5,316.8L500.0,318.1Z" fill="url(#as3_26)"/>
<path d="M392.0,326.9L394.0,329.3L394.8,330.2L394.8,316.2L393.2,314.7L392.0,313.5Z" fill="url(#as3_27)"/>
<path d="M502.0,330.2L502.8,329.3L504.8,326.9L504.8,313.5L503.6,314.7L502.0,316.2Z" fill="url(#as3_27)"/>
<path d="M390.0,324.6L392.0,326.8L392.8,327.8L392.8,314.2L391.2,312.6L390.0,311.4Z" fill="url(#as3_28)"/>
<path d="M504.0,327.8L504.8,326.8L506.8,324.6L506.8,311.4L505.6,312.6L504.0,314.2Z" fill="url(#as3_28)"/>
<path d="M388.0,322.2L390.0,324.5L390.8,325.4L390.8,312.2L389.2,310.5L388.0,309.3Z" fill="url(#as3_29)"/>
<path d="M506.0,325.4L506.8,324.5L508.8,322.2L508.8,309.3L507.6,310.5L506.0,312.2Z" fill="url(#as3_29)"/>
<path d="M386.0,319.9L388.0,322.1L388.8,323.0L388.8,310.0L387.1,308.2L386.0,307.1Z" fill="url(#as3_30)"/>
<path d="M508.0,323.0L508.8,322.1L510.8,319.9L510.8,307.1L509.7,308.2L508.0,310.0Z" fill="url(#as3_30)"/>
<path d="M384.0,317.6L385.9,319.8L386.8,320.7L386.8,307.8L385.1,306.0L384.0,304.8Z" fill="url(#as3_31)"/>
<path d="M510.0,320.7L510.9,319.8L512.8,317.6L512.8,304.8L511.7,306.0L510.0,307.8Z" fill="url(#as3_31)"/>
<path d="M382.0,315.4L383.9,317.5L384.8,318.4L384.8,305.6L383.0,303.7L382.0,302.6Z" fill="url(#as3_32)"/>
<path d="M512.0,318.4L512.9,317.5L514.8,315.4L514.8,302.6L513.8,303.7L512.0,305.6Z" fill="url(#as3_32)"/>
<path d="M380.0,313.1L381.9,315.2L382.8,316.2L382.8,303.4L381.0,301.4L380.0,300.3Z" fill="url(#as3_33)"/>
<path d="M514.0,316.2L514.9,315.2L516.8,313.1L516.8,300.3L515.8,301.4L514.0,303.4Z" fill="url(#as3_33)"/>
<path d="M378.0,311.0L379.9,313.0L380.8,313.9L380.8,301.1L378.9,299.1L378.0,298.1Z" fill="url(#as3_34)"/>
<path d="M516.0,313.9L516.9,313.0L518.8,311.0L518.8,298.1L517.9,299.1L516.0,301.1Z" fill="url(#as3_34)"/>
<path d="M376.0,308.8L377.9,310.8L378.8,311.7L378.8,298.9L376.9,296.8L376.0,295.9Z" fill="url(#as3_35)"/>
<path d="M518.0,311.7L518.9,310.8L520.8,308.8L520.8,295.9L519.9,296.8L518.0,298.9Z" fill="url(#as3_35)"/>
<path d="M374.0,306.7L375.9,308.6L376.8,309.6L376.8,296.6L374.9,294.6L374.0,293.7Z" fill="url(#as3_36)"/>
<path d="M520.0,309.6L520.9,308.6L522.8,306.7L522.8,293.7L521.9,294.6L520.0,296.6Z" fill="url(#as3_36)"/>
<path d="M372.0,304.7L373.8,306.5L374.8,307.5L374.8,294.5L372.8,292.4L372.0,291.7Z" fill="url(#as3_37)"/>
<path d="M522.0,307.5L523.0,306.5L524.8,304.7L524.8,291.7L524.0,292.4L522.0,294.5Z" fill="url(#as3_37)"/>
<path d="M370.0,302.7L371.8,304.4L372.8,305.4L372.8,292.4L370.8,290.4L370.0,289.7Z" fill="url(#as3_38)"/>
<path d="M524.0,305.4L525.0,304.4L526.8,302.7L526.8,289.7L526.0,290.4L524.0,292.4Z" fill="url(#as3_38)"/>
<path d="M368.0,300.7L369.8,302.4L370.8,303.4L370.8,290.3L368.7,288.4L368.0,287.8Z" fill="url(#as3_39)"/>
<path d="M526.0,303.4L527.0,302.4L528.8,300.7L528.8,287.8L528.1,288.4L526.0,290.3Z" fill="url(#as3_39)"/>
<path d="M366.0,298.8L367.8,300.5L368.8,301.4L368.8,288.4L368.7,288.4L366.7,286.5L366.0,286.0Z" fill="url(#as3_40)"/>
<path d="M528.0,301.4L529.0,300.5L530.8,298.8L530.8,286.0L530.1,286.5L528.1,288.4L528.0,288.4Z" fill="url(#as3_40)"/>
<path d="M364.0,297.0L365.8,298.6L366.8,299.5L366.8,286.6L366.7,286.5L364.6,284.8L364.0,284.3Z" fill="url(#as3_41)"/>
<path d="M530.0,299.5L531.0,298.6L532.8,297.0L532.8,284.3L532.2,284.8L530.1,286.5L530.0,286.6Z" fill="url(#as3_41)"/>
<path d="M362.0,295.2L363.8,296.7L364.8,297.6L364.8,284.9L364.6,284.8L362.6,283.2L362.0,283.2Z" fill="url(#as3_42)"/>
<path d="M532.0,297.6L533.0,296.7L534.8,295.2L534.8,283.2L534.2,283.2L532.2,284.8L532.0,284.9Z" fill="url(#as3_42)"/>
<path d="M360.0,293.4L361.8,294.9L362.8,295.8L362.8,283.3L362.6,283.2L360.0,283.2Z" fill="url(#as3_43)"/>
<path d="M534.0,295.8L535.0,294.9L536.8,293.4L536.8,283.2L534.2,283.2L534.0,283.3Z" fill="url(#as3_43)"/>
<path d="M358.0,291.8L359.7,293.2L360.8,294.0L360.8,283.2L358.0,283.2Z" fill="url(#as3_44)"/>
<path d="M536.0,294.0L537.1,293.2L538.8,291.8L538.8,283.2L536.0,283.2Z" fill="url(#as3_44)"/>
<path d="M356.0,290.2L357.7,291.5L358.8,292.4L358.8,283.2L356.0,283.2Z" fill="url(#as3_45)"/>
<path d="M538.0,292.4L539.1,291.5L540.8,290.2L540.8,283.2L538.0,283.2Z" fill="url(#as3_45)"/>
<path d="M354.0,288.7L355.7,289.9L356.8,290.7L356.8,283.2L354.0,283.2Z" fill="url(#as3_46)"/>
<path d="M540.0,290.7L541.1,289.9L542.8,288.7L542.8,283.2L540.0,283.2Z" fill="url(#as3_46)"/>
<path d="M353.3,288.7L353.7,288.4L354.8,289.2L354.8,283.2L353.3,283.2Z" fill="url(#as3_47)"/>
<path d="M542.0,289.2L543.1,288.4L543.4,288.7L543.4,283.2L542.0,283.2Z" fill="url(#as3_47)"/>
<path d="M163.0,313.6L165.0,313.3L167.0,313.1L169.0,312.9L171.0,312.8L173.0,312.7L175.0,312.7L177.1,312.6L179.1,312.7L181.1,312.7L183.1,312.8L185.1,312.9L187.1,313.1L189.1,313.3L191.1,313.5L193.1,313.7L195.1,313.9L197.1,314.2L199.1,314.5L201.1,314.8L203.1,315.2L205.2,315.5L207.2,315.9L209.2,316.2L211.2,316.6L213.2,317.0L215.2,317.4L217.2,317.8L219.2,318.2L221.2,318.6L223.2,319.0L225.2,319.4L227.2,319.8L229.2,320.2L231.3,320.6L233.3,321.0L235.3,321.4L237.3,321.8L239.3,322.1L241.3,322.5L243.3,322.8L245.3,323.1L247.3,323.4L249.3,323.7L251.3,323.9L253.3,324.1L255.3,324.3L257.3,324.5L259.4,324.7L261.4,324.8L263.4,324.9L265.4,324.9L267.4,324.9L269.4,324.9L271.4,324.8L273.4,324.7L275.4,324.6L277.4,324.4L279.4,324.1L281.4,323.9L283.4,323.5L285.4,323.2L287.5,322.8L289.5,322.4L291.5,321.9L293.5,321.4L295.5,320.9L297.5,320.3L299.5,319.7L301.5,319.1L303.5,318.5L305.5,317.8L307.5,317.1L309.5,316.4L311.5,315.6L313.6,314.7L315.6,313.8L317.6,312.9L319.6,311.9L321.6,310.8L323.6,309.7L325.6,308.5L327.6,307.2L329.6,305.9L331.6,304.6L333.6,303.2L335.6,301.8L337.6,300.4L339.6,298.9L341.7,297.4L343.7,295.9L345.7,294.4L346.7,293.6" fill="none" stroke="rgb(180,222,252)" stroke-width="2.4" stroke-opacity="0.75" stroke-linejoin="round"/>
<path d="M550.1,293.6L551.1,294.4L553.1,295.9L555.1,297.4L557.2,298.9L559.2,300.4L561.2,301.8L563.2,303.2L565.2,304.6L567.2,305.9L569.2,307.2L571.2,308.5L573.2,309.7L575.2,310.8L577.2,311.9L579.2,312.9L581.2,313.8L583.2,314.7L585.3,315.6L587.3,316.4L589.3,317.1L591.3,317.8L593.3,318.5L595.3,319.1L597.3,319.7L599.3,320.3L601.3,320.9L603.3,321.4L605.3,321.9L607.3,322.4L609.3,322.8L611.4,323.2L613.4,323.5L615.4,323.9L617.4,324.1L619.4,324.4L621.4,324.6L623.4,324.7L625.4,324.8L627.4,324.9L629.4,324.9L631.4,324.9L633.4,324.9L635.4,324.8L637.4,324.7L639.5,324.5L641.5,324.3L643.5,324.1L645.5,323.9L647.5,323.7L649.5,323.4L651.5,323.1L653.5,322.8L655.5,322.5L657.5,322.1L659.5,321.8L661.5,321.4L663.5,321.0L665.5,320.6L667.6,320.2L669.6,319.8L671.6,319.4L673.6,319.0L675.6,318.6L677.6,318.2L679.6,317.8L681.6,317.4L683.6,317.0L685.6,316.6L687.6,316.2L689.6,315.9L691.6,315.5L693.7,315.2L695.7,314.8L697.7,314.5L699.7,314.2L701.7,313.9L703.7,313.7L705.7,313.5L707.7,313.3L709.7,313.1L711.7,312.9L713.7,312.8L715.7,312.7L717.7,312.7L719.7,312.6L721.8,312.7L723.8,312.7L725.8,312.8L727.8,312.9L729.8,313.1L731.8,313.3L733.8,313.6" fill="none" stroke="rgb(180,222,252)" stroke-width="2.4" stroke-opacity="0.75" stroke-linejoin="round"/>
<path d="M163.0,313.6L165.0,313.8L167.0,314.0L169.0,314.4L171.0,314.8L173.0,315.4L175.1,315.9L177.1,316.6L179.1,317.4L181.1,318.2L183.1,319.1L185.1,320.1L187.1,321.1L189.1,322.2L191.1,323.4L193.1,324.6L195.2,325.9L197.2,327.2L199.2,328.7L201.2,330.1L203.2,331.6L205.2,333.2L207.2,334.8L209.2,336.5L211.2,338.2L213.2,339.9L215.3,341.7L217.3,343.6L219.3,345.4L221.3,347.4L223.3,349.3L225.3,351.3L227.3,353.3L229.3,355.3L231.3,357.4L233.3,359.5L235.4,361.6L237.4,363.7L239.4,365.9L241.4,368.0L243.4,370.2L245.4,372.4L247.4,374.6L249.4,376.8L251.4,379.0L253.4,381.2L255.5,383.4L257.5,385.7L259.5,387.9L261.5,390.1L263.5,392.2L265.5,394.4L267.5,396.6L269.5,398.7L271.5,400.8L273.5,402.9L275.6,404.9L277.6,406.9L279.6,408.9L281.6,410.9L283.6,412.8L285.6,414.7L287.6,416.6L289.6,418.4L291.6,420.2L293.6,421.9L295.7,423.6L297.7,425.3L299.7,426.9L301.7,428.5L303.7,430.0L305.7,431.5L307.7,432.9L309.7,434.3L311.7,435.7L313.7,436.9L315.7,438.2L317.8,439.4L319.8,440.5L321.8,441.6L323.8,442.6L325.8,443.6L327.8,444.5L329.8,445.3L331.8,446.1L333.8,446.8L335.8,447.5L337.9,448.1L339.9,448.6L341.9,449.1L343.9,449.5L345.9,449.9L347.9,450.2L349.9,450.4L351.9,450.6L353.9,450.7L355.9,450.7L358.0,450.7L360.0,450.6L362.0,450.4L364.0,450.2L366.0,449.9L368.0,449.5L370.0,449.1L372.0,448.6L374.0,448.0L376.0,447.4L378.1,446.7L380.1,445.9L382.1,445.0L384.1,444.1L386.1,443.2L388.1,442.1L390.1,441.0L392.1,439.8L394.1,438.5L396.1,437.2L398.2,435.9L400.2,434.4L402.2,433.0L404.2,431.4L406.2,429.9L408.2,428.3L410.2,426.6L412.2,424.9L414.2,423.2L416.2,421.5L418.3,419.7L420.3,417.9L422.3,416.1L424.3,414.2L426.3,412.4L428.3,410.5L430.3,408.6L432.3,406.7L434.3,404.8L436.3,402.9L438.4,401.1L440.4,399.2L442.4,397.3L444.4,395.5L446.4,393.6L448.4,391.8L450.4,393.6L452.4,395.5L454.4,397.3L456.4,399.2L458.4,401.1L460.5,402.9L462.5,404.8L464.5,406.7L466.5,408.6L468.5,410.5L470.5,412.4L472.5,414.2L474.5,416.1L476.5,417.9L478.5,419.7L480.6,421.5L482.6,423.2L484.6,424.9L486.6,426.6L488.6,428.3L490.6,429.9L492.6,431.4L494.6,433.0L496.6,434.4L498.6,435.9L500.7,437.2L502.7,438.5L504.7,439.8L506.7,441.0L508.7,442.1L510.7,443.2L512.7,444.1L514.7,445.0L516.7,445.9L518.7,446.7L520.8,447.4L522.8,448.0L524.8,448.6L526.8,449.1L528.8,449.5L530.8,449.9L532.8,450.2L534.8,450.4L536.8,450.6L538.8,450.7L540.9,450.7L542.9,450.7L544.9,450.6L546.9,450.4L548.9,450.2L550.9,449.9L552.9,449.5L554.9,449.1L556.9,448.6L558.9,448.1L561.0,447.5L563.0,446.8L565.0,446.1L567.0,445.3L569.0,444.5L571.0,443.6L573.0,442.6L575.0,441.6L577.0,440.5L579.0,439.4L581.1,438.2L583.1,436.9L585.1,435.7L587.1,434.3L589.1,432.9L591.1,431.5L593.1,430.0L595.1,428.5L597.1,426.9L599.1,425.3L601.1,423.6L603.2,421.9L605.2,420.2L607.2,418.4L609.2,416.6L611.2,414.7L613.2,412.8L615.2,410.9L617.2,408.9L619.2,406.9L621.2,404.9L623.3,402.9L625.3,400.8L627.3,398.7L629.3,396.6L631.3,394.4L633.3,392.2L635.3,390.1L637.3,387.9L639.3,385.7L641.3,383.4L643.4,381.2L645.4,379.0L647.4,376.8L649.4,374.6L651.4,372.4L653.4,370.2L655.4,368.0L657.4,365.9L659.4,363.7L661.4,361.6L663.5,359.5L665.5,357.4L667.5,355.3L669.5,353.3L671.5,351.3L673.5,349.3L675.5,347.4L677.5,345.4L679.5,343.6L681.5,341.7L683.6,339.9L685.6,338.2L687.6,336.5L689.6,334.8L691.6,333.2L693.6,331.6L695.6,330.1L697.6,328.7L699.6,327.2L701.6,325.9L703.7,324.6L705.7,323.4L707.7,322.2L709.7,321.1L711.7,320.1L713.7,319.1L715.7,318.2L717.7,317.4L719.7,316.6L721.7,315.9L723.8,315.4L725.8,314.8L727.8,314.4L729.8,314.0L731.8,313.8L733.8,313.6L733.8,313.6L731.8,314.5L729.8,315.4L727.8,316.4L725.8,317.4L723.8,318.5L721.7,319.7L719.7,320.9L717.7,322.2L715.7,323.5L713.7,324.9L711.7,326.3L709.7,327.8L707.7,329.4L705.7,330.9L703.7,332.6L701.6,334.2L699.6,335.9L697.6,337.7L695.6,339.4L693.6,341.2L691.6,343.1L689.6,345.0L687.6,346.9L685.6,348.8L683.6,350.8L681.5,352.7L679.5,354.7L677.5,356.8L675.5,358.8L673.5,360.9L671.5,363.0L669.5,365.0L667.5,367.1L665.5,369.3L663.5,371.4L661.4,373.5L659.4,375.6L657.4,377.8L655.4,379.9L653.4,382.1L651.4,384.2L649.4,386.3L647.4,388.4L645.4,390.6L643.4,392.7L641.3,394.8L639.3,396.9L637.3,398.9L635.3,401.0L633.3,403.0L631.3,405.0L629.3,407.0L627.3,409.0L625.3,411.0L623.3,412.9L621.2,414.8L619.2,416.7L617.2,418.5L615.2,420.3L613.2,422.1L611.2,423.8L609.2,425.5L607.2,427.1L605.2,428.8L603.2,430.3L601.1,431.9L599.1,433.4L597.1,434.9L595.1,436.3L593.1,437.7L591.1,439.0L589.1,440.3L587.1,441.5L585.1,442.7L583.1,443.9L581.1,445.0L579.0,446.1L577.0,447.1L575.0,448.0L573.0,448.9L571.0,449.8L569.0,450.6L567.0,451.4L565.0,452.1L563.0,452.7L561.0,453.3L558.9,453.8L556.9,454.3L554.9,454.7L552.9,455.1L550.9,455.4L548.9,455.6L546.9,455.8L544.9,455.9L542.9,455.9L540.9,455.9L538.8,455.8L536.8,455.7L534.8,455.5L532.8,455.2L530.8,454.9L528.8,454.5L526.8,454.1L524.8,453.6L522.8,453.1L520.8,452.4L518.7,451.8L516.7,451.0L514.7,450.3L512.7,449.4L510.7,448.5L508.7,447.6L506.7,446.6L504.7,445.5L502.7,444.4L500.7,443.3L498.6,442.1L496.6,440.9L494.6,439.7L492.6,438.5L490.6,437.3L488.6,436.1L486.6,434.9L484.6,433.7L482.6,432.6L480.6,431.4L478.5,430.3L476.5,429.3L474.5,428.3L472.5,427.3L470.5,426.4L468.5,425.6L466.5,424.8L464.5,424.1L462.5,423.4L460.5,422.8L458.4,422.3L456.4,421.8L454.4,421.5L452.4,421.2L450.4,420.9L448.4,420.8L446.4,420.9L444.4,421.2L442.4,421.5L440.4,421.8L438.4,422.3L436.3,422.8L434.3,423.4L432.3,424.1L430.3,424.8L428.3,425.6L426.3,426.4L424.3,427.3L422.3,428.3L420.3,429.3L418.3,430.3L416.2,431.4L414.2,432.6L412.2,433.7L410.2,434.9L408.2,436.1L406.2,437.3L404.2,438.5L402.2,439.7L400.2,440.9L398.2,442.1L396.1,443.3L394.1,444.4L392.1,445.5L390.1,446.6L388.1,447.6L386.1,448.5L384.1,449.4L382.1,450.3L380.1,451.0L378.1,451.8L376.0,452.4L374.0,453.1L372.0,453.6L370.0,454.1L368.0,454.5L366.0,454.9L364.0,455.2L362.0,455.5L360.0,455.7L358.0,455.8L355.9,455.9L353.9,455.9L351.9,455.9L349.9,455.8L347.9,455.6L345.9,455.4L343.9,455.1L341.9,454.7L339.9,454.3L337.9,453.8L335.8,453.3L333.8,452.7L331.8,452.1L329.8,451.4L327.8,450.6L325.8,449.8L323.8,448.9L321.8,448.0L319.8,447.1L317.8,446.1L315.7,445.0L313.7,443.9L311.7,442.7L309.7,441.5L307.7,440.3L305.7,439.0L303.7,437.7L301.7,436.3L299.7,434.9L297.7,433.4L295.7,431.9L293.6,430.3L291.6,428.8L289.6,427.1L287.6,425.5L285.6,423.8L283.6,422.1L281.6,420.3L279.6,418.5L277.6,416.7L275.6,414.8L273.5,412.9L271.5,411.0L269.5,409.0L267.5,407.0L265.5,405.0L263.5,403.0L261.5,401.0L259.5,398.9L257.5,396.9L255.5,394.8L253.4,392.7L251.4,390.6L249.4,388.4L247.4,386.3L245.4,384.2L243.4,382.1L241.4,379.9L239.4,377.8L237.4,375.6L235.4,373.5L233.3,371.4L231.3,369.3L229.3,367.1L227.3,365.0L225.3,363.0L223.3,360.9L221.3,358.8L219.3,356.8L217.3,354.7L215.3,352.7L213.2,350.8L211.2,348.8L209.2,346.9L207.2,345.0L205.2,343.1L203.2,341.2L201.2,339.4L199.2,337.7L197.2,335.9L195.2,334.2L193.1,332.6L191.1,330.9L189.1,329.4L187.1,327.8L185.1,326.3L183.1,324.9L181.1,323.5L179.1,322.2L177.1,320.9L175.1,319.7L173.0,318.5L171.0,317.4L169.0,316.4L167.0,315.4L165.0,314.5L163.0,313.6Z" fill="url(#ag4)"/>
<path d="M162.2,806.5L164.2,805.2L166.2,803.8L168.2,802.5L170.2,801.2L172.2,799.8L174.2,798.4L176.2,797.1L178.2,795.7L180.2,794.3L182.2,792.9L184.2,791.4L186.2,790.0L188.2,788.6L190.2,787.1L192.2,785.6L194.2,784.1L196.2,782.6L198.2,781.1L200.2,779.6L202.2,778.1L204.2,776.5L206.2,775.0L208.2,773.4L210.2,771.8L212.2,770.2L214.2,768.6L216.2,766.9L218.2,765.3L220.2,763.6L222.2,761.9L224.2,760.2L226.2,758.5L228.2,756.7L230.2,755.0L232.2,753.2L234.2,751.5L236.2,749.7L238.2,748.0L240.2,746.2L242.2,744.4L244.2,742.7L246.2,740.9L248.2,739.2L250.2,737.5L252.2,735.8L254.2,734.1L256.2,732.4L258.2,730.8L260.2,729.2L262.2,727.6L264.2,726.1L266.2,724.5L268.2,723.0L270.2,721.5L272.2,720.1L274.2,718.7L276.2,717.3L278.2,715.9L280.2,714.6L282.2,713.3L284.2,712.0L286.2,710.8L288.2,709.6L290.2,708.4L292.2,707.2L294.2,706.1L296.2,705.0L298.2,704.0L300.2,702.9L302.2,701.9L304.2,701.0L306.2,700.0L308.2,699.1L310.2,698.3L312.2,697.4L314.2,696.6L316.2,695.9L318.2,695.1L320.2,694.4L322.2,693.8L324.2,693.1L326.2,692.5L328.2,692.0L330.2,691.5L332.2,691.0L334.2,690.5L336.2,690.1L338.2,689.7L340.2,689.4L342.2,689.0L344.2,688.8L346.2,688.5L348.2,688.3L350.2,688.2L352.2,688.0L354.2,687.9L356.2,687.9L358.2,687.8L360.2,687.8L362.2,687.9L364.2,687.9L366.2,688.0L368.2,688.1L370.2,688.2L372.2,688.4L374.2,688.5L376.2,688.7L378.2,689.0L380.2,689.2L382.2,689.4L384.2,689.7L386.2,690.0L388.2,690.3L390.2,690.6L392.2,691.0L394.2,691.3L396.2,691.7L398.2,692.0L400.2,692.4L402.2,692.8L404.2,693.2L406.2,693.5L408.2,693.9L410.2,694.3L412.2,694.7L414.2,695.1L416.2,695.5L418.2,695.8L420.2,696.2L422.2,696.5L424.2,696.8L426.2,697.1L428.2,697.4L430.2,697.7L432.2,697.9L434.2,698.1L436.2,698.3L438.2,698.4L440.2,698.5L442.2,698.6L444.2,698.7L446.2,698.7L448.2,698.7L450.2,698.7L452.2,698.7L454.2,698.6L456.2,698.5L458.2,698.4L460.2,698.3L462.2,698.1L464.2,697.9L466.2,697.7L468.2,697.4L470.2,697.1L472.2,696.8L474.2,696.5L476.2,696.2L478.2,695.8L480.2,695.5L482.2,695.1L484.2,694.7L486.2,694.3L488.2,693.9L490.2,693.5L492.2,693.2L494.2,692.8L496.2,692.4L498.2,692.0L500.2,691.7L502.2,691.3L504.2,691.0L506.2,690.6L508.2,690.3L510.2,690.0L512.2,689.7L514.2,689.4L516.2,689.2L518.2,689.0L520.2,688.7L522.2,688.5L524.2,688.4L526.2,688.2L528.2,688.1L530.2,688.0L532.2,687.9L534.2,687.9L536.2,687.8L538.2,687.8L540.2,687.9L542.2,687.9L544.2,688.0L546.2,688.2L548.2,688.3L550.2,688.5L552.2,688.8L554.2,689.0L556.2,689.4L558.2,689.7L560.2,690.1L562.2,690.5L564.2,691.0L566.2,691.5L568.2,692.0L570.2,692.5L572.2,693.1L574.2,693.8L576.2,694.4L578.2,695.1L580.2,695.9L582.2,696.6L584.2,697.4L586.2,698.3L588.2,699.1L590.2,700.0L592.2,701.0L594.2,701.9L596.2,702.9L598.2,704.0L600.2,705.0L602.2,706.1L604.2,707.2L606.2,708.4L608.2,709.6L610.2,710.8L612.2,712.0L614.2,713.3L616.2,714.6L618.2,715.9L620.2,717.3L622.2,718.7L624.2,720.1L626.2,721.5L628.2,723.0L630.2,724.5L632.2,726.1L634.2,727.6L636.2,729.2L638.2,730.8L640.2,732.4L642.2,734.1L644.2,735.8L646.2,737.5L648.2,739.2L650.2,740.9L652.2,742.7L654.2,744.4L656.2,746.2L658.2,748.0L660.2,749.7L662.2,751.5L664.2,753.2L666.2,755.0L668.2,756.7L670.2,758.5L672.2,760.2L674.2,761.9L676.2,763.6L678.2,765.3L680.2,766.9L682.2,768.6L684.2,770.2L686.2,771.8L688.2,773.4L690.2,775.0L692.2,776.5L694.2,778.1L696.2,779.6L698.2,781.1L700.2,782.6L702.2,784.1L704.2,785.6L706.2,787.1L708.2,788.6L710.2,790.0L712.2,791.4L714.2,792.9L716.2,794.3L718.2,795.7L720.2,797.1L722.2,798.4L724.2,799.8L726.2,801.2L728.2,802.5L730.2,803.8L732.2,805.2L734.2,806.5L734.2,806.5L732.2,806.5L730.2,806.4L728.2,806.3L726.2,806.1L724.2,805.8L722.2,805.5L720.2,805.1L718.2,804.6L716.2,804.1L714.2,803.6L712.2,803.0L710.2,802.3L708.2,801.6L706.2,800.8L704.2,800.0L702.2,799.1L700.1,798.2L698.1,797.3L696.1,796.3L694.1,795.2L692.1,794.1L690.1,793.0L688.1,791.8L686.1,790.6L684.1,789.4L682.1,788.1L680.1,786.8L678.1,785.5L676.1,784.1L674.1,782.7L672.1,781.3L670.1,779.8L668.1,778.3L666.1,776.8L664.1,775.3L662.1,773.7L660.1,772.2L658.1,770.6L656.1,769.0L654.1,767.3L652.1,765.7L650.1,764.0L648.1,762.3L646.1,760.6L644.1,758.9L642.1,757.2L640.1,755.5L638.1,753.8L636.1,752.0L634.1,750.3L632.0,748.5L630.0,746.8L628.0,745.1L626.0,743.3L624.0,741.6L622.0,739.8L620.0,738.1L618.0,736.4L616.0,734.7L614.0,733.0L612.0,731.3L610.0,729.6L608.0,728.0L606.0,726.4L604.0,724.7L602.0,723.2L600.0,721.6L598.0,720.0L596.0,718.5L594.0,717.0L592.0,715.6L590.0,714.2L588.0,712.8L586.0,711.4L584.0,710.1L582.0,708.8L580.0,707.6L578.0,706.4L576.0,705.2L574.0,704.1L572.0,703.1L570.0,702.1L568.0,701.1L566.0,700.2L563.9,699.3L561.9,698.5L559.9,697.7L557.9,697.1L555.9,696.4L553.9,695.8L551.9,695.3L549.9,694.9L547.9,694.5L545.9,694.2L543.9,693.9L541.9,693.7L539.9,693.6L537.9,693.6L535.9,693.6L533.9,693.7L531.9,693.9L529.9,695.0L527.8,696.0L525.8,697.0L523.7,698.0L521.7,698.9L519.7,699.9L517.6,700.8L515.6,701.8L513.5,702.7L511.5,703.7L509.4,704.8L507.4,705.8L505.4,706.9L503.3,708.1L501.3,709.4L499.2,710.7L497.2,712.1L495.2,713.6L493.1,715.1L491.1,716.8L489.0,718.5L487.0,720.2L484.9,722.0L482.9,723.8L480.9,725.7L478.8,727.6L476.8,729.4L474.7,731.3L472.7,733.2L470.7,735.1L468.6,737.1L466.6,739.0L464.5,741.0L462.5,743.0L460.4,744.9L458.4,747.0L456.4,749.0L454.3,751.0L452.3,753.1L450.2,755.2L448.2,757.3L446.2,755.2L444.1,753.1L442.1,751.0L440.0,749.0L438.0,747.0L436.0,744.9L433.9,743.0L431.9,741.0L429.8,739.0L427.8,737.1L425.7,735.1L423.7,733.2L421.7,731.3L419.6,729.4L417.6,727.6L415.5,725.7L413.5,723.8L411.5,722.0L409.4,720.2L407.4,718.5L405.3,716.8L403.3,715.1L401.2,713.6L399.2,712.1L397.2,710.7L395.1,709.4L393.1,708.1L391.0,706.9L389.0,705.8L387.0,704.8L384.9,703.7L382.9,702.7L380.8,701.8L378.8,700.8L376.7,699.9L374.7,698.9L372.7,698.0L370.6,697.0L368.6,696.0L366.5,695.0L364.5,693.9L362.5,693.7L360.5,693.6L358.5,693.6L356.5,693.6L354.5,693.7L352.5,693.9L350.5,694.2L348.5,694.5L346.5,694.9L344.5,695.3L342.5,695.8L340.5,696.4L338.5,697.1L336.5,697.7L334.5,698.5L332.5,699.3L330.4,700.2L328.4,701.1L326.4,702.1L324.4,703.1L322.4,704.1L320.4,705.2L318.4,706.4L316.4,707.6L314.4,708.8L312.4,710.1L310.4,711.4L308.4,712.8L306.4,714.2L304.4,715.6L302.4,717.0L300.4,718.5L298.4,720.0L296.4,721.6L294.4,723.2L292.4,724.7L290.4,726.4L288.4,728.0L286.4,729.6L284.4,731.3L282.4,733.0L280.4,734.7L278.4,736.4L276.4,738.1L274.4,739.8L272.4,741.6L270.4,743.3L268.4,745.1L266.4,746.8L264.4,748.5L262.3,750.3L260.3,752.0L258.3,753.8L256.3,755.5L254.3,757.2L252.3,758.9L250.3,760.6L248.3,762.3L246.3,764.0L244.3,765.7L242.3,767.3L240.3,769.0L238.3,770.6L236.3,772.2L234.3,773.7L232.3,775.3L230.3,776.8L228.3,778.3L226.3,779.8L224.3,781.3L222.3,782.7L220.3,784.1L218.3,785.5L216.3,786.8L214.3,788.1L212.3,789.4L210.3,790.6L208.3,791.8L206.3,793.0L204.3,794.1L202.3,795.2L200.3,796.3L198.3,797.3L196.3,798.2L194.2,799.1L192.2,800.0L190.2,800.8L188.2,801.6L186.2,802.3L184.2,803.0L182.2,803.6L180.2,804.1L178.2,804.6L176.2,805.1L174.2,805.5L172.2,805.8L170.2,806.1L168.2,806.3L166.2,806.4L164.2,806.5L162.2,806.5Z" fill="url(#bg1)"/>
<path d="M162.2,806.5L164.2,807.0L166.2,807.6L168.3,808.0L170.3,808.5L172.3,808.9L174.3,809.3L176.3,809.7L178.3,810.1L180.4,810.4L182.4,810.7L184.4,811.0L186.4,811.3L188.4,811.5L190.5,811.7L192.5,812.0L194.5,812.1L196.5,812.3L198.5,812.5L200.5,812.6L202.6,812.8L204.6,812.9L206.6,813.0L208.6,813.1L210.6,813.3L212.6,813.4L214.7,813.4L216.7,813.5L218.7,813.6L220.7,813.7L222.7,813.8L224.8,813.9L226.8,813.9L228.8,814.0L230.8,814.1L232.8,814.2L234.8,814.3L236.9,814.4L238.9,814.5L240.9,814.6L242.9,814.7L244.9,814.9L247.0,815.0L249.0,815.2L251.0,815.3L253.0,815.5L255.0,815.7L257.0,815.9L259.1,816.1L261.1,816.4L263.1,816.7L265.1,817.0L267.1,817.3L269.1,817.6L271.2,818.0L273.2,818.4L275.2,818.8L277.2,819.2L279.2,819.7L281.3,820.2L283.3,820.7L285.3,821.2L287.3,821.8L289.3,822.4L291.3,823.0L293.4,823.7L295.4,824.4L297.4,825.1L299.4,825.9L301.4,826.6L303.5,827.4L305.5,828.3L307.5,829.2L309.5,830.1L311.5,831.0L313.5,831.9L315.6,832.9L317.6,833.9L319.6,835.0L321.6,836.1L323.6,837.2L325.6,838.3L327.7,839.5L329.7,840.7L331.7,841.9L333.7,843.2L335.7,844.4L337.8,845.7L339.8,847.0L341.8,848.3L343.8,849.5L345.8,850.8L347.8,852.1L349.9,853.3L351.9,854.6L353.9,855.8L355.9,854.2L357.9,852.7L359.9,851.2L361.9,849.6L363.9,848.0L365.9,846.5L367.9,844.9L370.0,843.2L372.0,841.6L374.0,839.9L376.0,838.1L378.0,836.3L380.0,834.5L382.0,832.6L384.0,830.6L386.0,828.6L388.0,826.5L390.0,824.4L392.0,822.2L394.0,820.1L396.0,817.9L398.0,815.7L400.0,813.5L402.1,811.2L404.1,809.0L406.1,806.8L408.1,804.5L410.1,802.2L412.1,799.8L414.1,797.5L416.1,795.1L418.1,792.6L420.1,790.1L422.1,787.6L424.1,785.1L426.1,782.5L428.1,780.1L430.1,777.7L432.1,775.3L434.2,773.0L436.2,770.7L438.2,768.4L440.2,766.2L442.2,764.0L444.2,761.8L446.2,759.5L448.2,757.3L450.2,759.5L452.2,761.8L454.2,764.0L456.2,766.2L458.2,768.4L460.2,770.7L462.2,773.0L464.3,775.3L466.3,777.7L468.3,780.1L470.3,782.5L472.3,785.1L474.3,787.6L476.3,790.1L478.3,792.6L480.3,795.1L482.3,797.5L484.3,799.8L486.3,802.2L488.3,804.5L490.3,806.8L492.3,809.0L494.3,811.2L496.4,813.5L498.4,815.7L500.4,817.9L502.4,820.1L504.4,822.2L506.4,824.4L508.4,826.5L510.4,828.6L512.4,830.6L514.4,832.6L516.4,834.5L518.4,836.3L520.4,838.1L522.4,839.9L524.4,841.6L526.4,843.2L528.5,844.9L530.5,846.5L532.5,848.0L534.5,849.6L536.5,851.2L538.5,852.7L540.5,854.2L542.5,855.8L544.5,854.6L546.5,853.3L548.6,852.1L550.6,850.8L552.6,849.5L554.6,848.3L556.6,847.0L558.6,845.7L560.7,844.4L562.7,843.2L564.7,841.9L566.7,840.7L568.7,839.5L570.8,838.3L572.8,837.2L574.8,836.1L576.8,835.0L578.8,833.9L580.8,832.9L582.9,831.9L584.9,831.0L586.9,830.1L588.9,829.2L590.9,828.3L592.9,827.4L595.0,826.6L597.0,825.9L599.0,825.1L601.0,824.4L603.0,823.7L605.1,823.0L607.1,822.4L609.1,821.8L611.1,821.2L613.1,820.7L615.1,820.2L617.2,819.7L619.2,819.2L621.2,818.8L623.2,818.4L625.2,818.0L627.3,817.6L629.3,817.3L631.3,817.0L633.3,816.7L635.3,816.4L637.3,816.1L639.4,815.9L641.4,815.7L643.4,815.5L645.4,815.3L647.4,815.2L649.4,815.0L651.5,814.9L653.5,814.7L655.5,814.6L657.5,814.5L659.5,814.4L661.6,814.3L663.6,814.2L665.6,814.1L667.6,814.0L669.6,813.9L671.6,813.9L673.7,813.8L675.7,813.7L677.7,813.6L679.7,813.5L681.7,813.4L683.8,813.4L685.8,813.3L687.8,813.1L689.8,813.0L691.8,812.9L693.8,812.8L695.9,812.6L697.9,812.5L699.9,812.3L701.9,812.1L703.9,812.0L705.9,811.7L708.0,811.5L710.0,811.3L712.0,811.0L714.0,810.7L716.0,810.4L718.1,810.1L720.1,809.7L722.1,809.3L724.1,808.9L726.1,808.5L728.1,808.0L730.2,807.6L732.2,807.0L734.2,806.5L734.2,806.5L732.2,807.6L730.2,808.6L728.1,809.8L726.1,811.0L724.1,812.2L722.1,813.4L720.1,814.7L718.1,816.0L716.0,817.4L714.0,818.7L712.0,820.1L710.0,821.5L708.0,823.0L705.9,824.4L703.9,825.9L701.9,827.3L699.9,828.8L697.9,830.3L695.9,831.8L693.8,833.3L691.8,834.8L689.8,836.3L687.8,837.8L685.8,839.3L683.8,840.8L681.7,842.3L679.7,843.7L677.7,845.2L675.7,846.6L673.7,848.0L671.6,849.4L669.6,850.8L667.6,852.1L665.6,853.4L663.6,854.7L661.6,856.0L659.5,857.2L657.5,858.5L655.5,859.6L653.5,860.8L651.5,861.9L649.4,863.0L647.4,864.1L645.4,865.2L643.4,866.2L641.4,867.1L639.4,868.1L637.3,869.0L635.3,869.8L633.3,870.7L631.3,871.5L629.3,872.2L627.3,872.9L625.2,873.6L623.2,874.3L621.2,874.9L619.2,875.4L617.2,875.9L615.1,876.4L613.1,876.8L611.1,877.2L609.1,877.5L607.1,877.7L605.1,877.9L603.0,878.1L601.0,878.2L599.0,878.2L597.0,878.2L595.0,878.0L592.9,877.9L590.9,877.6L588.9,877.3L586.9,876.9L584.9,876.4L582.9,875.8L580.8,875.2L578.8,874.5L576.8,873.8L574.8,873.0L572.8,872.1L570.8,871.2L568.7,870.2L566.7,869.2L564.7,868.2L562.7,867.1L560.7,866.0L558.6,864.9L556.6,863.8L554.6,862.6L552.6,861.5L550.6,860.3L548.6,859.2L546.5,858.0L544.5,856.9L542.5,855.8L540.5,857.4L538.5,858.9L536.5,860.5L534.4,862.0L532.4,863.6L530.4,865.1L528.4,866.7L526.4,868.2L524.4,869.7L522.4,871.3L520.4,872.8L518.3,874.4L516.3,876.0L514.3,877.5L512.3,879.1L510.3,880.7L508.3,882.3L506.3,883.9L504.3,885.5L502.2,887.1L500.2,888.8L498.2,890.5L496.2,892.2L491.8,892.2L489.7,890.1L487.6,888.2L485.6,886.6L483.5,885.1L481.4,883.8L479.3,882.5L477.3,881.4L475.2,880.4L473.1,879.4L471.0,878.7L469.0,878.0L466.9,877.4L464.8,876.8L462.7,876.4L460.7,876.0L458.6,875.6L456.5,875.3L454.4,875.1L452.4,875.0L450.3,874.8L448.2,874.8L446.1,874.8L444.0,875.0L442.0,875.1L439.9,875.3L437.8,875.6L435.7,876.0L433.7,876.4L431.6,876.8L429.5,877.4L427.4,878.0L425.4,878.7L423.3,879.4L421.2,880.4L419.1,881.4L417.1,882.5L415.0,883.8L412.9,885.1L410.8,886.6L408.8,888.2L406.7,890.1L404.6,892.2L400.2,892.2L398.2,890.5L396.2,888.8L394.2,887.1L392.1,885.5L390.1,883.9L388.1,882.3L386.1,880.7L384.1,879.1L382.1,877.5L380.1,876.0L378.1,874.4L376.0,872.8L374.0,871.3L372.0,869.7L370.0,868.2L368.0,866.7L366.0,865.1L364.0,863.6L362.0,862.0L359.9,860.5L357.9,858.9L355.9,857.4L353.9,855.8L351.9,856.9L349.9,858.0L347.8,859.2L345.8,860.3L343.8,861.5L341.8,862.6L339.8,863.8L337.8,864.9L335.7,866.0L333.7,867.1L331.7,868.2L329.7,869.2L327.7,870.2L325.6,871.2L323.6,872.1L321.6,873.0L319.6,873.8L317.6,874.5L315.6,875.2L313.5,875.8L311.5,876.4L309.5,876.9L307.5,877.3L305.5,877.6L303.5,877.9L301.4,878.0L299.4,878.2L297.4,878.2L295.4,878.2L293.4,878.1L291.3,877.9L289.3,877.7L287.3,877.5L285.3,877.2L283.3,876.8L281.3,876.4L279.2,875.9L277.2,875.4L275.2,874.9L273.2,874.3L271.2,873.6L269.1,872.9L267.1,872.2L265.1,871.5L263.1,870.7L261.1,869.8L259.1,869.0L257.0,868.1L255.0,867.1L253.0,866.2L251.0,865.2L249.0,864.1L247.0,863.0L244.9,861.9L242.9,860.8L240.9,859.6L238.9,858.5L236.9,857.2L234.8,856.0L232.8,854.7L230.8,853.4L228.8,852.1L226.8,850.8L224.8,849.4L222.7,848.0L220.7,846.6L218.7,845.2L216.7,843.7L214.7,842.3L212.6,840.8L210.6,839.3L208.6,837.8L206.6,836.3L204.6,834.8L202.6,833.3L200.5,831.8L198.5,830.3L196.5,828.8L194.5,827.3L192.5,825.9L190.5,824.4L188.4,823.0L186.4,821.5L184.4,820.1L182.4,818.7L180.4,817.4L178.3,816.0L176.3,814.7L174.3,813.4L172.3,812.2L170.3,811.0L168.3,809.8L166.2,808.6L164.2,807.6L162.2,806.5Z" fill="url(#bg2)"/>
<path d="M162.2,980.1L164.2,979.0L166.2,978.0L168.3,976.8L170.3,975.6L172.3,974.4L174.3,973.2L176.3,971.9L178.3,970.6L180.4,969.2L182.4,967.9L184.4,966.5L186.4,965.1L188.4,963.6L190.5,962.2L192.5,960.7L194.5,959.3L196.5,957.8L198.5,956.3L200.5,954.8L202.6,953.3L204.6,951.8L206.6,950.3L208.6,948.8L210.6,947.3L212.6,945.8L214.7,944.3L216.7,942.9L218.7,941.4L220.7,940.0L222.7,938.6L224.8,937.2L226.8,935.8L228.8,934.5L230.8,933.2L232.8,931.9L234.8,930.6L236.9,929.4L238.9,928.1L240.9,927.0L242.9,925.8L244.9,924.7L247.0,923.6L249.0,922.5L251.0,921.4L253.0,920.4L255.0,919.5L257.0,918.5L259.1,917.6L261.1,916.8L263.1,915.9L265.1,915.1L267.1,914.4L269.1,913.7L271.2,913.0L273.2,912.3L275.2,911.7L277.2,911.2L279.2,910.7L281.3,910.2L283.3,909.8L285.3,909.4L287.3,909.1L289.3,908.9L291.3,908.7L293.4,908.5L295.4,908.4L297.4,908.4L299.4,908.4L301.4,908.6L303.5,908.7L305.5,909.0L307.5,909.3L309.5,909.7L311.5,910.2L313.5,910.8L315.6,911.4L317.6,912.1L319.6,912.8L321.6,913.6L323.6,914.5L325.6,915.4L327.7,916.4L329.7,917.4L331.7,918.4L333.7,919.5L335.7,920.6L337.8,921.7L339.8,922.8L341.8,924.0L343.8,925.1L345.8,926.3L347.8,927.4L349.9,928.6L351.9,929.7L353.9,930.8L355.9,929.2L357.9,927.7L359.9,926.1L362.0,924.6L364.0,923.0L366.0,921.5L368.0,919.9L370.0,918.4L372.0,916.9L374.0,915.3L376.0,913.8L378.1,912.2L380.1,910.6L382.1,909.1L384.1,907.5L386.1,905.9L388.1,904.3L390.1,902.7L392.1,901.1L394.2,899.5L396.2,897.8L398.2,896.1L400.2,894.4L404.6,894.4L406.7,896.5L408.8,898.4L410.8,900.0L412.9,901.5L415.0,902.8L417.1,904.1L419.1,905.2L421.2,906.2L423.3,907.2L425.4,907.9L427.4,908.6L429.5,909.2L431.6,909.8L433.7,910.2L435.7,910.6L437.8,911.0L439.9,911.3L442.0,911.5L444.0,911.6L446.1,911.8L448.2,911.8L450.3,911.8L452.4,911.6L454.4,911.5L456.5,911.3L458.6,911.0L460.7,910.6L462.7,910.2L464.8,909.8L466.9,909.2L469.0,908.6L471.0,907.9L473.1,907.2L475.2,906.2L477.3,905.2L479.3,904.1L481.4,902.8L483.5,901.5L485.6,900.0L487.6,898.4L489.7,896.5L491.8,894.4L496.2,894.4L498.2,896.1L500.2,897.8L502.2,899.5L504.3,901.1L506.3,902.7L508.3,904.3L510.3,905.9L512.3,907.5L514.3,909.1L516.3,910.6L518.3,912.2L520.4,913.8L522.4,915.3L524.4,916.9L526.4,918.4L528.4,919.9L530.4,921.5L532.4,923.0L534.4,924.6L536.5,926.1L538.5,927.7L540.5,929.2L542.5,930.8L544.5,929.7L546.5,928.6L548.6,927.4L550.6,926.3L552.6,925.1L554.6,924.0L556.6,922.8L558.6,921.7L560.7,920.6L562.7,919.5L564.7,918.4L566.7,917.4L568.7,916.4L570.8,915.4L572.8,914.5L574.8,913.6L576.8,912.8L578.8,912.1L580.8,911.4L582.9,910.8L584.9,910.2L586.9,909.7L588.9,909.3L590.9,909.0L592.9,908.7L595.0,908.6L597.0,908.4L599.0,908.4L601.0,908.4L603.0,908.5L605.1,908.7L607.1,908.9L609.1,909.1L611.1,909.4L613.1,909.8L615.1,910.2L617.2,910.7L619.2,911.2L621.2,911.7L623.2,912.3L625.2,913.0L627.3,913.7L629.3,914.4L631.3,915.1L633.3,915.9L635.3,916.8L637.3,917.6L639.4,918.5L641.4,919.5L643.4,920.4L645.4,921.4L647.4,922.5L649.4,923.6L651.5,924.7L653.5,925.8L655.5,927.0L657.5,928.1L659.5,929.4L661.6,930.6L663.6,931.9L665.6,933.2L667.6,934.5L669.6,935.8L671.6,937.2L673.7,938.6L675.7,940.0L677.7,941.4L679.7,942.9L681.7,944.3L683.8,945.8L685.8,947.3L687.8,948.8L689.8,950.3L691.8,951.8L693.8,953.3L695.9,954.8L697.9,956.3L699.9,957.8L701.9,959.3L703.9,960.7L705.9,962.2L708.0,963.6L710.0,965.1L712.0,966.5L714.0,967.9L716.0,969.2L718.1,970.6L720.1,971.9L722.1,973.2L724.1,974.4L726.1,975.6L728.1,976.8L730.2,978.0L732.2,979.0L734.2,980.1L734.2,980.1L732.2,979.6L730.2,979.0L728.1,978.6L726.1,978.1L724.1,977.7L722.1,977.3L720.1,976.9L718.1,976.5L716.0,976.2L714.0,975.9L712.0,975.6L710.0,975.3L708.0,975.1L705.9,974.9L703.9,974.6L701.9,974.5L699.9,974.3L697.9,974.1L695.9,974.0L693.8,973.8L691.8,973.7L689.8,973.6L687.8,973.5L685.8,973.3L683.8,973.2L681.7,973.2L679.7,973.1L677.7,973.0L675.7,972.9L673.7,972.8L671.6,972.7L669.6,972.7L667.6,972.6L665.6,972.5L663.6,972.4L661.6,972.3L659.5,972.2L657.5,972.1L655.5,972.0L653.5,971.9L651.5,971.7L649.4,971.6L647.4,971.4L645.4,971.3L643.4,971.1L641.4,970.9L639.4,970.7L637.3,970.5L635.3,970.2L633.3,969.9L631.3,969.6L629.3,969.3L627.3,969.0L625.2,968.6L623.2,968.2L621.2,967.8L619.2,967.4L617.2,966.9L615.1,966.4L613.1,965.9L611.1,965.4L609.1,964.8L607.1,964.2L605.1,963.6L603.0,962.9L601.0,962.2L599.0,961.5L597.0,960.7L595.0,960.0L592.9,959.2L590.9,958.3L588.9,957.4L586.9,956.5L584.9,955.6L582.9,954.7L580.8,953.7L578.8,952.7L576.8,951.6L574.8,950.5L572.8,949.4L570.8,948.3L568.7,947.1L566.7,945.9L564.7,944.7L562.7,943.4L560.7,942.2L558.6,940.9L556.6,939.6L554.6,938.3L552.6,937.1L550.6,935.8L548.6,934.5L546.5,933.3L544.5,932.0L542.5,930.8L540.5,932.4L538.5,933.9L536.5,935.4L534.5,937.0L532.5,938.6L530.5,940.1L528.5,941.7L526.4,943.4L524.4,945.0L522.4,946.7L520.4,948.5L518.4,950.3L516.4,952.1L514.4,954.0L512.4,956.0L510.4,958.0L508.4,960.1L506.4,962.2L504.4,964.4L502.4,966.5L500.4,968.7L498.4,970.9L496.4,973.1L494.3,975.4L492.3,977.6L490.3,979.8L488.3,982.1L486.3,984.4L484.3,986.8L482.3,989.1L480.3,991.5L478.3,994.0L476.3,996.5L474.3,999.0L472.3,1001.5L470.3,1004.1L468.3,1006.5L466.3,1008.9L464.3,1011.3L462.2,1013.6L460.2,1015.9L458.2,1018.2L456.2,1020.4L454.2,1022.6L452.2,1024.8L450.2,1027.1L448.2,1029.3L446.2,1027.1L444.2,1024.8L442.2,1022.6L440.2,1020.4L438.2,1018.2L436.2,1015.9L434.2,1013.6L432.1,1011.3L430.1,1008.9L428.1,1006.5L426.1,1004.1L424.1,1001.5L422.1,999.0L420.1,996.5L418.1,994.0L416.1,991.5L414.1,989.1L412.1,986.8L410.1,984.4L408.1,982.1L406.1,979.8L404.1,977.6L402.1,975.4L400.0,973.1L398.0,970.9L396.0,968.7L394.0,966.5L392.0,964.4L390.0,962.2L388.0,960.1L386.0,958.0L384.0,956.0L382.0,954.0L380.0,952.1L378.0,950.3L376.0,948.5L374.0,946.7L372.0,945.0L370.0,943.4L367.9,941.7L365.9,940.1L363.9,938.6L361.9,937.0L359.9,935.4L357.9,933.9L355.9,932.4L353.9,930.8L351.9,932.0L349.9,933.3L347.8,934.5L345.8,935.8L343.8,937.1L341.8,938.3L339.8,939.6L337.8,940.9L335.7,942.2L333.7,943.4L331.7,944.7L329.7,945.9L327.7,947.1L325.6,948.3L323.6,949.4L321.6,950.5L319.6,951.6L317.6,952.7L315.6,953.7L313.5,954.7L311.5,955.6L309.5,956.5L307.5,957.4L305.5,958.3L303.5,959.2L301.4,960.0L299.4,960.7L297.4,961.5L295.4,962.2L293.4,962.9L291.3,963.6L289.3,964.2L287.3,964.8L285.3,965.4L283.3,965.9L281.3,966.4L279.2,966.9L277.2,967.4L275.2,967.8L273.2,968.2L271.2,968.6L269.1,969.0L267.1,969.3L265.1,969.6L263.1,969.9L261.1,970.2L259.1,970.5L257.0,970.7L255.0,970.9L253.0,971.1L251.0,971.3L249.0,971.4L247.0,971.6L244.9,971.7L242.9,971.9L240.9,972.0L238.9,972.1L236.9,972.2L234.8,972.3L232.8,972.4L230.8,972.5L228.8,972.6L226.8,972.7L224.8,972.7L222.7,972.8L220.7,972.9L218.7,973.0L216.7,973.1L214.7,973.2L212.6,973.2L210.6,973.3L208.6,973.5L206.6,973.6L204.6,973.7L202.6,973.8L200.5,974.0L198.5,974.1L196.5,974.3L194.5,974.5L192.5,974.6L190.5,974.9L188.4,975.1L186.4,975.3L184.4,975.6L182.4,975.9L180.4,976.2L178.3,976.5L176.3,976.9L174.3,977.3L172.3,977.7L170.3,978.1L168.3,978.6L166.2,979.0L164.2,979.6L162.2,980.1Z" fill="url(#bg3)"/>
<path d="M162.2,980.1L164.2,979.6L166.2,979.0L168.3,978.6L170.3,978.1L172.3,977.7L174.3,977.3L176.3,976.9L178.3,976.5L180.4,976.2L182.4,975.9L184.4,975.6L186.4,975.3L188.4,975.1L190.5,974.9L192.5,974.6L194.5,974.5L196.5,974.3L198.5,974.1L200.5,974.0L202.6,973.8L204.6,973.7L206.6,973.6L208.6,973.5L210.6,973.3L212.6,973.2L214.7,973.2L216.7,973.1L218.7,973.0L220.7,972.9L222.7,972.8L224.8,972.7L226.8,972.7L228.8,972.6L230.8,972.5L232.8,972.4L234.8,972.3L236.9,972.2L238.9,972.1L240.9,972.0L242.9,971.9L244.9,971.7L247.0,971.6L249.0,971.4L251.0,971.3L253.0,971.1L255.0,970.9L257.0,970.7L259.1,970.5L261.1,970.2L263.1,969.9L265.1,969.6L267.1,969.3L269.1,969.0L271.2,968.6L273.2,968.2L275.2,967.8L277.2,967.4L279.2,966.9L281.3,966.4L283.3,965.9L285.3,965.4L287.3,964.8L289.3,964.2L291.3,963.6L293.4,962.9L295.4,962.2L297.4,961.5L299.4,960.7L301.4,960.0L303.5,959.2L305.5,958.3L307.5,957.4L309.5,956.5L311.5,955.6L313.5,954.7L315.6,953.7L317.6,952.7L319.6,951.6L321.6,950.5L323.6,949.4L325.6,948.3L327.7,947.1L329.7,945.9L331.7,944.7L333.7,943.4L335.7,942.2L337.8,940.9L339.8,939.6L341.8,938.3L343.8,937.1L345.8,935.8L347.8,934.5L349.9,933.3L351.9,932.0L353.9,930.8" fill="none" stroke="rgb(180,222,252)" stroke-width="2.4" stroke-opacity="0.75" stroke-linejoin="round"/>
<path d="M542.5,930.8L544.5,932.0L546.5,933.3L548.6,934.5L550.6,935.8L552.6,937.1L554.6,938.3L556.6,939.6L558.6,940.9L560.7,942.2L562.7,943.4L564.7,944.7L566.7,945.9L568.7,947.1L570.8,948.3L572.8,949.4L574.8,950.5L576.8,951.6L578.8,952.7L580.8,953.7L582.9,954.7L584.9,955.6L586.9,956.5L588.9,957.4L590.9,958.3L592.9,959.2L595.0,960.0L597.0,960.7L599.0,961.5L601.0,962.2L603.0,962.9L605.1,963.6L607.1,964.2L609.1,964.8L611.1,965.4L613.1,965.9L615.1,966.4L617.2,966.9L619.2,967.4L621.2,967.8L623.2,968.2L625.2,968.6L627.3,969.0L629.3,969.3L631.3,969.6L633.3,969.9L635.3,970.2L637.3,970.5L639.4,970.7L641.4,970.9L643.4,971.1L645.4,971.3L647.4,971.4L649.4,971.6L651.5,971.7L653.5,971.9L655.5,972.0L657.5,972.1L659.5,972.2L661.6,972.3L663.6,972.4L665.6,972.5L667.6,972.6L669.6,972.7L671.6,972.7L673.7,972.8L675.7,972.9L677.7,973.0L679.7,973.1L681.7,973.2L683.8,973.2L685.8,973.3L687.8,973.5L689.8,973.6L691.8,973.7L693.8,973.8L695.9,974.0L697.9,974.1L699.9,974.3L701.9,974.5L703.9,974.6L705.9,974.9L708.0,975.1L710.0,975.3L712.0,975.6L714.0,975.9L716.0,976.2L718.1,976.5L720.1,976.9L722.1,977.3L724.1,977.7L726.1,978.1L728.1,978.6L730.2,979.0L732.2,979.6L734.2,980.1" fill="none" stroke="rgb(180,222,252)" stroke-width="2.4" stroke-opacity="0.75" stroke-linejoin="round"/>
<path d="M162.2,980.1L164.2,980.1L166.2,980.2L168.2,980.3L170.2,980.5L172.2,980.8L174.2,981.1L176.2,981.5L178.2,982.0L180.2,982.5L182.2,983.0L184.2,983.6L186.2,984.3L188.2,985.0L190.2,985.8L192.2,986.6L194.2,987.5L196.3,988.4L198.3,989.3L200.3,990.3L202.3,991.4L204.3,992.5L206.3,993.6L208.3,994.8L210.3,996.0L212.3,997.2L214.3,998.5L216.3,999.8L218.3,1001.1L220.3,1002.5L222.3,1003.9L224.3,1005.3L226.3,1006.8L228.3,1008.3L230.3,1009.8L232.3,1011.3L234.3,1012.9L236.3,1014.4L238.3,1016.0L240.3,1017.6L242.3,1019.3L244.3,1020.9L246.3,1022.6L248.3,1024.3L250.3,1026.0L252.3,1027.7L254.3,1029.4L256.3,1031.1L258.3,1032.8L260.3,1034.6L262.3,1036.3L264.4,1038.1L266.4,1039.8L268.4,1041.5L270.4,1043.3L272.4,1045.0L274.4,1046.8L276.4,1048.5L278.4,1050.2L280.4,1051.9L282.4,1053.6L284.4,1055.3L286.4,1057.0L288.4,1058.6L290.4,1060.2L292.4,1061.9L294.4,1063.4L296.4,1065.0L298.4,1066.6L300.4,1068.1L302.4,1069.6L304.4,1071.0L306.4,1072.4L308.4,1073.8L310.4,1075.2L312.4,1076.5L314.4,1077.8L316.4,1079.0L318.4,1080.2L320.4,1081.4L322.4,1082.5L324.4,1083.5L326.4,1084.5L328.4,1085.5L330.4,1086.4L332.5,1087.3L334.5,1088.1L336.5,1088.9L338.5,1089.5L340.5,1090.2L342.5,1090.8L344.5,1091.3L346.5,1091.7L348.5,1092.1L350.5,1092.4L352.5,1092.7L354.5,1092.9L356.5,1093.0L358.5,1093.0L360.5,1093.0L362.5,1092.9L364.5,1092.7L366.5,1091.6L368.6,1090.6L370.6,1089.6L372.7,1088.6L374.7,1087.7L376.7,1086.7L378.8,1085.8L380.8,1084.8L382.9,1083.9L384.9,1082.9L387.0,1081.8L389.0,1080.8L391.0,1079.7L393.1,1078.5L395.1,1077.2L397.2,1075.9L399.2,1074.5L401.2,1073.0L403.3,1071.5L405.3,1069.8L407.4,1068.1L409.4,1066.4L411.5,1064.6L413.5,1062.8L415.5,1060.9L417.6,1059.0L419.6,1057.2L421.7,1055.3L423.7,1053.4L425.7,1051.5L427.8,1049.5L429.8,1047.6L431.9,1045.6L433.9,1043.6L436.0,1041.7L438.0,1039.6L440.0,1037.6L442.1,1035.6L444.1,1033.5L446.2,1031.4L448.2,1029.3L450.2,1031.4L452.3,1033.5L454.3,1035.6L456.4,1037.6L458.4,1039.6L460.4,1041.7L462.5,1043.6L464.5,1045.6L466.6,1047.6L468.6,1049.5L470.7,1051.5L472.7,1053.4L474.7,1055.3L476.8,1057.2L478.8,1059.0L480.9,1060.9L482.9,1062.8L484.9,1064.6L487.0,1066.4L489.0,1068.1L491.1,1069.8L493.1,1071.5L495.2,1073.0L497.2,1074.5L499.2,1075.9L501.3,1077.2L503.3,1078.5L505.4,1079.7L507.4,1080.8L509.4,1081.8L511.5,1082.9L513.5,1083.9L515.6,1084.8L517.6,1085.8L519.7,1086.7L521.7,1087.7L523.7,1088.6L525.8,1089.6L527.8,1090.6L529.9,1091.6L531.9,1092.7L533.9,1092.9L535.9,1093.0L537.9,1093.0L539.9,1093.0L541.9,1092.9L543.9,1092.7L545.9,1092.4L547.9,1092.1L549.9,1091.7L551.9,1091.3L553.9,1090.8L555.9,1090.2L557.9,1089.5L559.9,1088.9L561.9,1088.1L563.9,1087.3L566.0,1086.4L568.0,1085.5L570.0,1084.5L572.0,1083.5L574.0,1082.5L576.0,1081.4L578.0,1080.2L580.0,1079.0L582.0,1077.8L584.0,1076.5L586.0,1075.2L588.0,1073.8L590.0,1072.4L592.0,1071.0L594.0,1069.6L596.0,1068.1L598.0,1066.6L600.0,1065.0L602.0,1063.4L604.0,1061.9L606.0,1060.2L608.0,1058.6L610.0,1057.0L612.0,1055.3L614.0,1053.6L616.0,1051.9L618.0,1050.2L620.0,1048.5L622.0,1046.8L624.0,1045.0L626.0,1043.3L628.0,1041.5L630.0,1039.8L632.0,1038.1L634.1,1036.3L636.1,1034.6L638.1,1032.8L640.1,1031.1L642.1,1029.4L644.1,1027.7L646.1,1026.0L648.1,1024.3L650.1,1022.6L652.1,1020.9L654.1,1019.3L656.1,1017.6L658.1,1016.0L660.1,1014.4L662.1,1012.9L664.1,1011.3L666.1,1009.8L668.1,1008.3L670.1,1006.8L672.1,1005.3L674.1,1003.9L676.1,1002.5L678.1,1001.1L680.1,999.8L682.1,998.5L684.1,997.2L686.1,996.0L688.1,994.8L690.1,993.6L692.1,992.5L694.1,991.4L696.1,990.3L698.1,989.3L700.1,988.4L702.2,987.5L704.2,986.6L706.2,985.8L708.2,985.0L710.2,984.3L712.2,983.6L714.2,983.0L716.2,982.5L718.2,982.0L720.2,981.5L722.2,981.1L724.2,980.8L726.2,980.5L728.2,980.3L730.2,980.2L732.2,980.1L734.2,980.1L734.2,980.1L732.2,981.4L730.2,982.8L728.2,984.1L726.2,985.4L724.2,986.8L722.2,988.2L720.2,989.5L718.2,990.9L716.2,992.3L714.2,993.7L712.2,995.2L710.2,996.6L708.2,998.0L706.2,999.5L704.2,1001.0L702.2,1002.5L700.2,1004.0L698.2,1005.5L696.2,1007.0L694.2,1008.5L692.2,1010.1L690.2,1011.6L688.2,1013.2L686.2,1014.8L684.2,1016.4L682.2,1018.0L680.2,1019.7L678.2,1021.3L676.2,1023.0L674.2,1024.7L672.2,1026.4L670.2,1028.1L668.2,1029.9L666.2,1031.6L664.2,1033.4L662.2,1035.1L660.2,1036.9L658.2,1038.6L656.2,1040.4L654.2,1042.2L652.2,1043.9L650.2,1045.7L648.2,1047.4L646.2,1049.1L644.2,1050.8L642.2,1052.5L640.2,1054.2L638.2,1055.8L636.2,1057.4L634.2,1059.0L632.2,1060.5L630.2,1062.1L628.2,1063.6L626.2,1065.1L624.2,1066.5L622.2,1067.9L620.2,1069.3L618.2,1070.7L616.2,1072.0L614.2,1073.3L612.2,1074.6L610.2,1075.8L608.2,1077.0L606.2,1078.2L604.2,1079.4L602.2,1080.5L600.2,1081.6L598.2,1082.6L596.2,1083.7L594.2,1084.7L592.2,1085.6L590.2,1086.6L588.2,1087.5L586.2,1088.3L584.2,1089.2L582.2,1090.0L580.2,1090.7L578.2,1091.5L576.2,1092.2L574.2,1092.8L572.2,1093.5L570.2,1094.1L568.2,1094.6L566.2,1095.1L564.2,1095.6L562.2,1096.1L560.2,1096.5L558.2,1096.9L556.2,1097.2L554.2,1097.6L552.2,1097.8L550.2,1098.1L548.2,1098.3L546.2,1098.4L544.2,1098.6L542.2,1098.7L540.2,1098.7L538.2,1098.8L536.2,1098.8L534.2,1098.7L532.2,1098.7L530.2,1098.6L528.2,1098.5L526.2,1098.4L524.2,1098.2L522.2,1098.1L520.2,1097.9L518.2,1097.6L516.2,1097.4L514.2,1097.2L512.2,1096.9L510.2,1096.6L508.2,1096.3L506.2,1096.0L504.2,1095.6L502.2,1095.3L500.2,1094.9L498.2,1094.6L496.2,1094.2L494.2,1093.8L492.2,1093.4L490.2,1093.1L488.2,1092.7L486.2,1092.3L484.2,1091.9L482.2,1091.5L480.2,1091.1L478.2,1090.8L476.2,1090.4L474.2,1090.1L472.2,1089.8L470.2,1089.5L468.2,1089.2L466.2,1088.9L464.2,1088.7L462.2,1088.5L460.2,1088.3L458.2,1088.2L456.2,1088.1L454.2,1088.0L452.2,1087.9L450.2,1087.9L448.2,1087.9L446.2,1087.9L444.2,1087.9L442.2,1088.0L440.2,1088.1L438.2,1088.2L436.2,1088.3L434.2,1088.5L432.2,1088.7L430.2,1088.9L428.2,1089.2L426.2,1089.5L424.2,1089.8L422.2,1090.1L420.2,1090.4L418.2,1090.8L416.2,1091.1L414.2,1091.5L412.2,1091.9L410.2,1092.3L408.2,1092.7L406.2,1093.1L404.2,1093.4L402.2,1093.8L400.2,1094.2L398.2,1094.6L396.2,1094.9L394.2,1095.3L392.2,1095.6L390.2,1096.0L388.2,1096.3L386.2,1096.6L384.2,1096.9L382.2,1097.2L380.2,1097.4L378.2,1097.6L376.2,1097.9L374.2,1098.1L372.2,1098.2L370.2,1098.4L368.2,1098.5L366.2,1098.6L364.2,1098.7L362.2,1098.7L360.2,1098.8L358.2,1098.8L356.2,1098.7L354.2,1098.7L352.2,1098.6L350.2,1098.4L348.2,1098.3L346.2,1098.1L344.2,1097.8L342.2,1097.6L340.2,1097.2L338.2,1096.9L336.2,1096.5L334.2,1096.1L332.2,1095.6L330.2,1095.1L328.2,1094.6L326.2,1094.1L324.2,1093.5L322.2,1092.8L320.2,1092.2L318.2,1091.5L316.2,1090.7L314.2,1090.0L312.2,1089.2L310.2,1088.3L308.2,1087.5L306.2,1086.6L304.2,1085.6L302.2,1084.7L300.2,1083.7L298.2,1082.6L296.2,1081.6L294.2,1080.5L292.2,1079.4L290.2,1078.2L288.2,1077.0L286.2,1075.8L284.2,1074.6L282.2,1073.3L280.2,1072.0L278.2,1070.7L276.2,1069.3L274.2,1067.9L272.2,1066.5L270.2,1065.1L268.2,1063.6L266.2,1062.1L264.2,1060.5L262.2,1059.0L260.2,1057.4L258.2,1055.8L256.2,1054.2L254.2,1052.5L252.2,1050.8L250.2,1049.1L248.2,1047.4L246.2,1045.7L244.2,1043.9L242.2,1042.2L240.2,1040.4L238.2,1038.6L236.2,1036.9L234.2,1035.1L232.2,1033.4L230.2,1031.6L228.2,1029.9L226.2,1028.1L224.2,1026.4L222.2,1024.7L220.2,1023.0L218.2,1021.3L216.2,1019.7L214.2,1018.0L212.2,1016.4L210.2,1014.8L208.2,1013.2L206.2,1011.6L204.2,1010.1L202.2,1008.5L200.2,1007.0L198.2,1005.5L196.2,1004.0L194.2,1002.5L192.2,1001.0L190.2,999.5L188.2,998.0L186.2,996.6L184.2,995.2L182.2,993.7L180.2,992.3L178.2,990.9L176.2,989.5L174.2,988.2L172.2,986.8L170.2,985.4L168.2,984.1L166.2,982.8L164.2,981.4L162.2,980.1Z" fill="url(#bg4)"/>
<rect x="157.3" y="487.9" width="289.3" height="39.1" fill="#8fb6f0"/>
<rect x="446.6" y="487.9" width="286.6" height="39.1" fill="#a5e2c2"/>
<rect x="157.3" y="527.0" width="53.5" height="37.8" fill="#8fb6f0"/>
<rect x="210.8" y="527.0" width="137.7" height="37.8" fill="#a5e2c2"/>
<rect x="348.5" y="527.0" width="14.0" height="37.8" fill="#8fb6f0"/>
<rect x="362.5" y="527.0" width="84.1" height="37.8" fill="#a5e2c2"/>
<rect x="446.6" y="527.0" width="89.1" height="37.8" fill="#8fb6f0"/>
<rect x="535.7" y="527.0" width="13.2" height="37.8" fill="#a5e2c2"/>
<rect x="548.9" y="527.0" width="137.5" height="37.8" fill="#8fb6f0"/>
<rect x="686.4" y="527.0" width="46.8" height="37.8" fill="#a5e2c2"/>
<text x="146.8" y="310.6" font-size="25" text-anchor="start" fill="#000" >−2</text>
<rect x="155.9" y="75.5" width="2.8" height="490.1" fill="#8b0d12"/>
<rect x="157.3" y="94.0" width="7.1" height="2.5" fill="#8b0d12"/>
<rect x="157.3" y="187.7" width="7.1" height="2.5" fill="#8b0d12"/>
<rect x="157.3" y="374.9" width="7.1" height="2.5" fill="#8b0d12"/>
<rect x="157.3" y="468.6" width="7.1" height="2.5" fill="#8b0d12"/>
<rect x="158.6" y="281.4" width="577.2" height="2.5" fill="#000"/>
<rect x="159.7" y="282.6" width="2.4" height="4.0" rx="0.8" fill="#000"/>
<rect x="351.2" y="282.6" width="2.4" height="4.0" rx="0.8" fill="#000"/>
<rect x="542.2" y="282.6" width="2.4" height="4.0" rx="0.8" fill="#000"/>
<rect x="61.5" y="525.6" width="673.3" height="2.8" fill="#8b0d12"/>
<rect x="445.2" y="487.9" width="2.8" height="77.7" fill="#8b0d12"/>
<rect x="209.4" y="527.0" width="2.8" height="38.6" fill="#8b0d12"/>
<rect x="347.1" y="527.0" width="2.8" height="38.6" fill="#8b0d12"/>
<rect x="361.1" y="527.0" width="2.8" height="38.6" fill="#8b0d12"/>
<rect x="534.3" y="527.0" width="2.8" height="38.6" fill="#8b0d12"/>
<rect x="547.5" y="527.0" width="2.8" height="38.6" fill="#8b0d12"/>
<rect x="685.0" y="527.0" width="2.8" height="38.6" fill="#8b0d12"/>
<line x1="210.5" y1="284.2" x2="210.5" y2="526.8" stroke="#7e7e7e" stroke-width="1" stroke-dasharray="3.7,4.4"/>
<line x1="348.5" y1="284.2" x2="348.5" y2="526.8" stroke="#7e7e7e" stroke-width="1" stroke-dasharray="3.7,4.4"/>
<line x1="362.5" y1="284.2" x2="362.5" y2="526.8" stroke="#7e7e7e" stroke-width="1" stroke-dasharray="3.7,4.4"/>
<line x1="448.5" y1="284.2" x2="448.5" y2="526.8" stroke="#7e7e7e" stroke-width="1" stroke-dasharray="3.7,4.4"/>
<line x1="536.5" y1="284.2" x2="536.5" y2="526.8" stroke="#7e7e7e" stroke-width="1" stroke-dasharray="3.7,4.4"/>
<line x1="548.5" y1="284.2" x2="548.5" y2="526.8" stroke="#7e7e7e" stroke-width="1" stroke-dasharray="3.7,4.4"/>
<line x1="685.5" y1="284.2" x2="685.5" y2="526.8" stroke="#7e7e7e" stroke-width="1" stroke-dasharray="3.7,4.4"/>
<text x="143.4" y="106.8" font-size="22" text-anchor="end" fill="#8b0d12" >1.50</text>
<text x="143.4" y="200.5" font-size="22" text-anchor="end" fill="#8b0d12" >0.75</text>
<text x="143.4" y="294.1" font-size="22" text-anchor="end" fill="#8b0d12" >0.00</text>
<text x="143.4" y="387.8" font-size="22" text-anchor="end" fill="#8b0d12"><tspan font-size="26" dy="1.2">−</tspan><tspan dx="-0.4" dy="-1.2">0.75</tspan></text>
<text x="143.4" y="481.4" font-size="22" text-anchor="end" fill="#8b0d12"><tspan font-size="26" dy="1.2">−</tspan><tspan dx="-0.4" dy="-1.2">1.50</tspan></text>
<text x="352.5" y="310.6" font-size="25" text-anchor="middle" fill="#000" >0</text>
<text x="543.4" y="310.6" font-size="25" text-anchor="middle" fill="#000" >2</text>
<text x="692.2" y="309.7" font-size="28.5" text-anchor="start" fill="#000" >α/ħω</text>
<text y="75.9" fill="#8b0d12" font-size="34"><tspan x="87.2" font-size="31.5" font-weight="bold" textLength="22.4" lengthAdjust="spacingAndGlyphs">E</tspan><tspan x="111.2" dy="1.5">(</tspan><tspan x="123.4" font-style="italic" font-size="31" dy="-1.5">k</tspan><tspan x="140.6" dy="1.5">)</tspan></text>
<text transform="translate(184.0 84.8) scale(1.075 1)" font-size="41.5" font-weight="bold">(a)</text>
<text x="409.1" y="77.8" font-size="35">t<tspan font-size="22" dy="9.3">0</tspan><tspan dy="-9.3">=0.25</tspan></text>
<text transform="translate(590.0 165.5) scale(1.15 1)" font-size="31">ν</text><text x="606.6" y="174.8" font-size="20.5">1</text>
<text transform="translate(590.0 259.4) scale(1.15 1)" font-size="31">ν</text><text x="606.6" y="268.7" font-size="20.5">2</text>
<text transform="translate(590.0 323.4) scale(1.15 1)" font-size="31">ν</text><text x="606.6" y="332.7" font-size="20.5">3</text>
<text transform="translate(590.0 403.6) scale(1.15 1)" font-size="31">ν</text><text x="606.6" y="412.9" font-size="20.5">4</text>
<text transform="translate(71.8 515.8) scale(1.04 1)" font-size="29">ν<tspan font-size="19" dy="8">1</tspan><tspan font-size="27.5" dy="-7.2">(</tspan><tspan dy="-0.8">ν</tspan><tspan font-size="19" dy="8">4</tspan><tspan font-size="27.5" dy="-7.2">)</tspan></text>
<text transform="translate(71.8 560.4) scale(1.04 1)" font-size="29">ν<tspan font-size="19" dy="8">2</tspan><tspan font-size="27.5" dy="-7.2">(</tspan><tspan dy="-0.8">ν</tspan><tspan font-size="19" dy="8">3</tspan><tspan font-size="27.5" dy="-7.2">)</tspan></text>
<text x="296.0" y="513.1" font-size="28.5" text-anchor="middle" fill="#000" >0</text>
<text x="590.5" y="513.1" font-size="28.5" text-anchor="middle" fill="#000" >1</text>
<text x="177.6" y="552.3" font-size="28.5" text-anchor="middle" fill="#000" >0</text>
<text x="274.5" y="552.3" font-size="28.5" text-anchor="middle" fill="#000" >1</text>
<text x="355.2" y="552.3" font-size="28.5" text-anchor="middle" fill="#000" >0</text>
<text x="398.0" y="552.3" font-size="28.5" text-anchor="middle" fill="#000" >1</text>
<text x="484.7" y="552.3" font-size="28.5" text-anchor="middle" fill="#000" >0</text>
<text x="542.4" y="552.3" font-size="28.5" text-anchor="middle" fill="#000" >1</text>
<text x="611.6" y="552.3" font-size="28.5" text-anchor="middle" fill="#000" >0</text>
<text x="710.0" y="552.3" font-size="28.5" text-anchor="middle" fill="#000" >1</text>
<rect x="157.3" y="1097.1" width="292.1" height="41.2" fill="#8fb6f0"/>
<rect x="449.4" y="1097.1" width="292.7" height="41.2" fill="#a5e2c2"/>
<rect x="157.3" y="1138.3" width="248.1" height="40.2" fill="#8fb6f0"/>
<rect x="405.4" y="1138.3" width="44.0" height="40.2" fill="#a5e2c2"/>
<rect x="449.4" y="1138.3" width="43.9" height="40.2" fill="#8fb6f0"/>
<rect x="493.3" y="1138.3" width="248.8" height="40.2" fill="#a5e2c2"/>
<text x="146.8" y="921.3" font-size="25" text-anchor="start" fill="#000" >−2</text>
<rect x="155.9" y="686.3" width="2.8" height="493.0" fill="#8b0d12"/>
<rect x="157.3" y="704.8" width="7.1" height="2.5" fill="#8b0d12"/>
<rect x="157.3" y="798.4" width="7.1" height="2.5" fill="#8b0d12"/>
<rect x="157.3" y="985.8" width="7.1" height="2.5" fill="#8b0d12"/>
<rect x="157.3" y="1079.3" width="7.1" height="2.5" fill="#8b0d12"/>
<rect x="158.6" y="892.0" width="577.2" height="2.5" fill="#000"/>
<rect x="159.7" y="893.3" width="2.4" height="4.0" rx="0.8" fill="#000"/>
<rect x="351.2" y="893.3" width="2.4" height="4.0" rx="0.8" fill="#000"/>
<rect x="542.2" y="893.3" width="2.4" height="4.0" rx="0.8" fill="#000"/>
<rect x="61.5" y="1136.9" width="682.2" height="2.8" fill="#8b0d12"/>
<rect x="448.0" y="1097.1" width="2.8" height="82.2" fill="#8b0d12"/>
<rect x="404.0" y="1138.3" width="2.8" height="41.0" fill="#8b0d12"/>
<rect x="491.9" y="1138.3" width="2.8" height="41.0" fill="#8b0d12"/>
<line x1="404.5" y1="894.9" x2="404.5" y2="1138.1" stroke="#7e7e7e" stroke-width="1" stroke-dasharray="3.7,4.4"/>
<line x1="448.5" y1="894.9" x2="448.5" y2="1138.1" stroke="#7e7e7e" stroke-width="1" stroke-dasharray="3.7,4.4"/>
<line x1="492.5" y1="894.9" x2="492.5" y2="1138.1" stroke="#7e7e7e" stroke-width="1" stroke-dasharray="3.7,4.4"/>
<text x="143.4" y="717.6" font-size="22" text-anchor="end" fill="#8b0d12" >1.50</text>
<text x="143.4" y="811.3" font-size="22" text-anchor="end" fill="#8b0d12" >0.75</text>
<text x="143.4" y="904.9" font-size="22" text-anchor="end" fill="#8b0d12" >0.00</text>
<text x="143.4" y="998.6" font-size="22" text-anchor="end" fill="#8b0d12"><tspan font-size="26" dy="1.2">−</tspan><tspan dx="-0.4" dy="-1.2">0.75</tspan></text>
<text x="143.4" y="1092.2" font-size="22" text-anchor="end" fill="#8b0d12"><tspan font-size="26" dy="1.2">−</tspan><tspan dx="-0.4" dy="-1.2">1.50</tspan></text>
<text x="352.5" y="921.3" font-size="25" text-anchor="middle" fill="#000" >0</text>
<text x="543.4" y="921.3" font-size="25" text-anchor="middle" fill="#000" >2</text>
<text x="692.2" y="917.8" font-size="28.5" text-anchor="start" fill="#000" >α/ħω</text>
<text y="686.7" fill="#8b0d12" font-size="34"><tspan x="87.2" font-size="31.5" font-weight="bold" textLength="22.4" lengthAdjust="spacingAndGlyphs">E</tspan><tspan x="111.2" dy="1.5">(</tspan><tspan x="123.4" font-style="italic" font-size="31" dy="-1.5">k</tspan><tspan x="140.6" dy="1.5">)</tspan></text>
<text transform="translate(184.0 695.6) scale(1.075 1)" font-size="41.5" font-weight="bold">(b)</text>
<text x="406.4" y="688.6" font-size="35">t<tspan font-size="22" dy="9.3">0</tspan><tspan dy="-9.3">=0.7</tspan></text>
<text transform="translate(590.0 743.0) scale(1.15 1)" font-size="31">ν</text><text x="606.6" y="752.3" font-size="20.5">1</text>
<text transform="translate(590.0 864.4) scale(1.15 1)" font-size="31">ν</text><text x="606.6" y="873.7" font-size="20.5">2</text>
<text transform="translate(590.0 937.5) scale(1.15 1)" font-size="31">ν</text><text x="606.6" y="946.8" font-size="20.5">3</text>
<text transform="translate(590.0 1040.8) scale(1.15 1)" font-size="31">ν</text><text x="606.6" y="1050.1" font-size="20.5">4</text>
<text transform="translate(71.8 1126.2) scale(1.04 1)" font-size="29">ν<tspan font-size="19" dy="8">1</tspan><tspan font-size="27.5" dy="-7.2">(</tspan><tspan dy="-0.8">ν</tspan><tspan font-size="19" dy="8">4</tspan><tspan font-size="27.5" dy="-7.2">)</tspan></text>
<text transform="translate(71.8 1165.9) scale(1.04 1)" font-size="29">ν<tspan font-size="19" dy="8">2</tspan><tspan font-size="27.5" dy="-7.2">(</tspan><tspan dy="-0.8">ν</tspan><tspan font-size="19" dy="8">3</tspan><tspan font-size="27.5" dy="-7.2">)</tspan></text>
<text x="300.9" y="1124.6" font-size="32" text-anchor="middle" fill="#000" >0</text>
<text x="597.4" y="1124.6" font-size="32" text-anchor="middle" fill="#000" >1</text>
<text x="279.0" y="1166.7" font-size="32" text-anchor="middle" fill="#000" >0</text>
<text x="425.6" y="1166.7" font-size="32" text-anchor="middle" fill="#000" >1</text>
<text x="469.4" y="1166.7" font-size="32" text-anchor="middle" fill="#000" >0</text>
<text x="618.9" y="1166.7" font-size="32" text-anchor="middle" fill="#000" >1</text>
</svg>
</body>
</html>
